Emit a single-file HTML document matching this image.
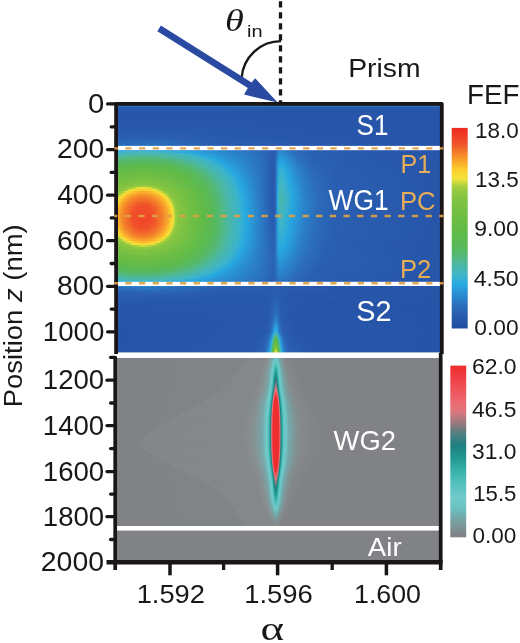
<!DOCTYPE html><html><head><meta charset="utf-8"><title>FEF map</title><style>html,body{margin:0;padding:0;background:#fff}svg{display:block}</style></head><body>
<svg width="520" height="643" viewBox="0 0 520 643">
<defs><linearGradient id="a0"><stop offset="0" stop-color="#2b7bc5"/><stop offset="1" stop-color="#2b79c3"/></linearGradient><linearGradient id="a1"><stop offset="0" stop-color="#2b72be"/><stop offset="1" stop-color="#2b70bd"/></linearGradient><linearGradient id="a2"><stop offset="0" stop-color="#295bae"/><stop offset="1" stop-color="#295aad"/></linearGradient><linearGradient id="a3"><stop offset="0" stop-color="#2758ab"/><stop offset="1" stop-color="#2756aa"/></linearGradient><linearGradient id="a4"><stop offset="0" stop-color="#2757aa"/><stop offset="1" stop-color="#2755a9"/></linearGradient><linearGradient id="a5"><stop offset="0" stop-color="#2757aa"/><stop offset="1" stop-color="#2655a9"/></linearGradient><linearGradient id="a6"><stop offset="0" stop-color="#2757aa"/><stop offset="1" stop-color="#2655a9"/></linearGradient><linearGradient id="a7"><stop offset="0" stop-color="#2757aa"/><stop offset="1" stop-color="#2655a9"/></linearGradient><linearGradient id="a8"><stop offset="0" stop-color="#2757ab"/><stop offset="1" stop-color="#2655a9"/></linearGradient><linearGradient id="a9"><stop offset="0" stop-color="#2858ab"/><stop offset="1" stop-color="#2655a9"/></linearGradient><linearGradient id="a10"><stop offset="0" stop-color="#2858ab"/><stop offset="1" stop-color="#2655a9"/></linearGradient><linearGradient id="a11"><stop offset="0" stop-color="#2859ac"/><stop offset="1" stop-color="#2655a9"/></linearGradient><linearGradient id="a12"><stop offset="0" stop-color="#2859ad"/><stop offset="1" stop-color="#2655a9"/></linearGradient><linearGradient id="a13"><stop offset="0" stop-color="#295aad"/><stop offset="1" stop-color="#2655a9"/></linearGradient><linearGradient id="a14"><stop offset="0" stop-color="#295bae"/><stop offset="1" stop-color="#2655a9"/></linearGradient><linearGradient id="a15"><stop offset="0" stop-color="#295caf"/><stop offset="0.3942" stop-color="#2757ab"/><stop offset="1" stop-color="#2655a9"/></linearGradient><linearGradient id="a16"><stop offset="0" stop-color="#2a5db0"/><stop offset="0.161" stop-color="#2a5db0"/><stop offset="0.6764" stop-color="#2755a9"/><stop offset="1" stop-color="#2655a9"/></linearGradient><linearGradient id="a17"><stop offset="0" stop-color="#2a5fb2"/><stop offset="0.1472" stop-color="#2a61b3"/><stop offset="0.3666" stop-color="#2858ac"/><stop offset="1" stop-color="#2655a9"/></linearGradient><linearGradient id="a18"><stop offset="0" stop-color="#2a62b4"/><stop offset="0.135" stop-color="#2a65b5"/><stop offset="0.2914" stop-color="#295bae"/><stop offset="1" stop-color="#2655a9"/></linearGradient><linearGradient id="a19"><stop offset="0" stop-color="#2a66b6"/><stop offset="0.1242" stop-color="#2b69b9"/><stop offset="0.3037" stop-color="#295baf"/><stop offset="0.9801" stop-color="#2655a9"/><stop offset="1" stop-color="#2655a9"/></linearGradient><linearGradient id="a20"><stop offset="0" stop-color="#2b6ab9"/><stop offset="0.1135" stop-color="#2b6fbc"/><stop offset="0.319" stop-color="#295caf"/><stop offset="0.9433" stop-color="#2755a9"/><stop offset="1" stop-color="#2755a9"/></linearGradient><linearGradient id="a21"><stop offset="0" stop-color="#2b6ebc"/><stop offset="0.1058" stop-color="#2b74c0"/><stop offset="0.184" stop-color="#2b6ab9"/><stop offset="0.3773" stop-color="#295bae"/><stop offset="1" stop-color="#2756a9"/></linearGradient><linearGradient id="a22"><stop offset="0" stop-color="#2a85cc"/><stop offset="0.1641" stop-color="#2a85cc"/><stop offset="0.3696" stop-color="#2b6bba"/><stop offset="0.4862" stop-color="#2757ab"/><stop offset="0.4939" stop-color="#2a60b2"/><stop offset="0.5015" stop-color="#2b6bba"/><stop offset="0.5276" stop-color="#2a67b7"/><stop offset="0.589" stop-color="#295caf"/><stop offset="1" stop-color="#2655a9"/></linearGradient><linearGradient id="a23"><stop offset="0" stop-color="#2997d7"/><stop offset="0.1212" stop-color="#299ad9"/><stop offset="0.3098" stop-color="#2a82ca"/><stop offset="0.4555" stop-color="#2a60b2"/><stop offset="0.4847" stop-color="#2859ac"/><stop offset="0.4908" stop-color="#2a5db0"/><stop offset="0.4985" stop-color="#2b72be"/><stop offset="0.5092" stop-color="#2b75c1"/><stop offset="0.5675" stop-color="#2a61b2"/><stop offset="0.7301" stop-color="#2858ab"/><stop offset="1" stop-color="#2655a9"/></linearGradient><linearGradient id="a24"><stop offset="0" stop-color="#38b2cf"/><stop offset="0.0521" stop-color="#41b5c3"/><stop offset="0.1196" stop-color="#40b5c4"/><stop offset="0.1748" stop-color="#35b0d2"/><stop offset="0.2147" stop-color="#27a8e0"/><stop offset="0.2929" stop-color="#2a91d4"/><stop offset="0.4463" stop-color="#2b6ab9"/><stop offset="0.4831" stop-color="#295aad"/><stop offset="0.4893" stop-color="#2a60b2"/><stop offset="0.4985" stop-color="#2b81c9"/><stop offset="0.5061" stop-color="#2a87ce"/><stop offset="0.546" stop-color="#2b6bba"/><stop offset="0.612" stop-color="#2a5db0"/><stop offset="1" stop-color="#2655a9"/></linearGradient><linearGradient id="a25"><stop offset="0" stop-color="#45b6b5"/><stop offset="0.069" stop-color="#4ab7a8"/><stop offset="0.138" stop-color="#48b7ae"/><stop offset="0.2055" stop-color="#3fb5c7"/><stop offset="0.2561" stop-color="#27a8e0"/><stop offset="0.3113" stop-color="#2a92d5"/><stop offset="0.4494" stop-color="#2b6ab9"/><stop offset="0.4816" stop-color="#295aad"/><stop offset="0.4877" stop-color="#2a5eb1"/><stop offset="0.4923" stop-color="#2b6dbb"/><stop offset="0.4985" stop-color="#2a88ce"/><stop offset="0.5046" stop-color="#2a90d3"/><stop offset="0.523" stop-color="#2a83cb"/><stop offset="0.5506" stop-color="#2b6dbb"/><stop offset="0.6028" stop-color="#2a5fb1"/><stop offset="0.8957" stop-color="#2756aa"/><stop offset="1" stop-color="#2755a9"/></linearGradient><linearGradient id="a26"><stop offset="0" stop-color="#4bb8a3"/><stop offset="0.069" stop-color="#4fb892"/><stop offset="0.1242" stop-color="#4eb897"/><stop offset="0.2086" stop-color="#45b6b7"/><stop offset="0.2454" stop-color="#3ab3cd"/><stop offset="0.2776" stop-color="#27a9e0"/><stop offset="0.3252" stop-color="#2a93d5"/><stop offset="0.4509" stop-color="#2b6bba"/><stop offset="0.4816" stop-color="#295aad"/><stop offset="0.4877" stop-color="#2a5fb1"/><stop offset="0.4908" stop-color="#2a67b7"/><stop offset="0.4969" stop-color="#2a89cf"/><stop offset="0.5015" stop-color="#2994d6"/><stop offset="0.5123" stop-color="#2a93d5"/><stop offset="0.5537" stop-color="#2b6fbd"/><stop offset="0.5997" stop-color="#2a61b3"/><stop offset="0.7761" stop-color="#2858ab"/><stop offset="1" stop-color="#2755a9"/></linearGradient><linearGradient id="a27"><stop offset="0" stop-color="#4fb892"/><stop offset="0.0567" stop-color="#53b87d"/><stop offset="0.1074" stop-color="#53b87d"/><stop offset="0.1626" stop-color="#4fb892"/><stop offset="0.2577" stop-color="#3eb5c9"/><stop offset="0.2929" stop-color="#27a9e0"/><stop offset="0.3359" stop-color="#2a93d5"/><stop offset="0.4525" stop-color="#2b6bba"/><stop offset="0.4816" stop-color="#295aad"/><stop offset="0.4877" stop-color="#2a5fb2"/><stop offset="0.4908" stop-color="#2a68b8"/><stop offset="0.4969" stop-color="#2a8dd2"/><stop offset="0.5015" stop-color="#2999d8"/><stop offset="0.5107" stop-color="#299ad9"/><stop offset="0.5567" stop-color="#2b71be"/><stop offset="0.6012" stop-color="#2a61b3"/><stop offset="0.7285" stop-color="#2859ac"/><stop offset="1" stop-color="#2755a9"/></linearGradient><linearGradient id="a28"><stop offset="0" stop-color="#53b87c"/><stop offset="0.0353" stop-color="#55b86d"/><stop offset="0.0997" stop-color="#56b869"/><stop offset="0.1472" stop-color="#54b874"/><stop offset="0.2577" stop-color="#43b6bd"/><stop offset="0.2822" stop-color="#39b2cf"/><stop offset="0.3067" stop-color="#27a9e0"/><stop offset="0.3466" stop-color="#2a93d5"/><stop offset="0.4555" stop-color="#2b6ab9"/><stop offset="0.4801" stop-color="#295aad"/><stop offset="0.4877" stop-color="#2a5fb2"/><stop offset="0.4908" stop-color="#2b69b9"/><stop offset="0.4969" stop-color="#2a92d4"/><stop offset="0.5015" stop-color="#289edb"/><stop offset="0.5107" stop-color="#289fdb"/><stop offset="0.5598" stop-color="#2b72bf"/><stop offset="0.6043" stop-color="#2a62b3"/><stop offset="0.7163" stop-color="#285aad"/><stop offset="1" stop-color="#2756a9"/></linearGradient><linearGradient id="a29"><stop offset="0" stop-color="#56b86a"/><stop offset="0.066" stop-color="#58b95a"/><stop offset="0.1258" stop-color="#57b95f"/><stop offset="0.181" stop-color="#54b874"/><stop offset="0.2439" stop-color="#4ab7a8"/><stop offset="0.2914" stop-color="#3bb3cc"/><stop offset="0.319" stop-color="#27a8e0"/><stop offset="0.3574" stop-color="#2a92d5"/><stop offset="0.4571" stop-color="#2b69b9"/><stop offset="0.4801" stop-color="#285aad"/><stop offset="0.4877" stop-color="#2a60b2"/><stop offset="0.4908" stop-color="#2b6ab9"/><stop offset="0.4954" stop-color="#2a8dd2"/><stop offset="0.5" stop-color="#28a0dc"/><stop offset="0.5077" stop-color="#27a6df"/><stop offset="0.5629" stop-color="#2b73bf"/><stop offset="0.6089" stop-color="#2a62b3"/><stop offset="0.7178" stop-color="#295aad"/><stop offset="1" stop-color="#2756a9"/></linearGradient><linearGradient id="a30"><stop offset="0" stop-color="#57b95d"/><stop offset="0.0368" stop-color="#5ab954"/><stop offset="0.1258" stop-color="#5ab954"/><stop offset="0.1626" stop-color="#57b95d"/><stop offset="0.2055" stop-color="#54b876"/><stop offset="0.2546" stop-color="#4bb7a5"/><stop offset="0.3037" stop-color="#3bb3cc"/><stop offset="0.3282" stop-color="#27a9e1"/><stop offset="0.365" stop-color="#2a92d4"/><stop offset="0.4586" stop-color="#2b69b8"/><stop offset="0.4801" stop-color="#2859ad"/><stop offset="0.4862" stop-color="#2a5caf"/><stop offset="0.4908" stop-color="#2b6bba"/><stop offset="0.4954" stop-color="#2a91d4"/><stop offset="0.5" stop-color="#28a5de"/><stop offset="0.5061" stop-color="#28aae0"/><stop offset="0.5215" stop-color="#289edb"/><stop offset="0.5629" stop-color="#2b76c1"/><stop offset="0.6089" stop-color="#2a63b4"/><stop offset="0.7025" stop-color="#295aae"/><stop offset="1" stop-color="#2756a9"/></linearGradient><linearGradient id="a31"><stop offset="0" stop-color="#5ab954"/><stop offset="0.089" stop-color="#5fba4c"/><stop offset="0.1764" stop-color="#58b957"/><stop offset="0.2224" stop-color="#54b876"/><stop offset="0.2653" stop-color="#4bb8a4"/><stop offset="0.3129" stop-color="#3bb3cc"/><stop offset="0.3374" stop-color="#27a9e0"/><stop offset="0.3727" stop-color="#2a91d4"/><stop offset="0.4601" stop-color="#2a68b7"/><stop offset="0.4801" stop-color="#2859ac"/><stop offset="0.4862" stop-color="#2a5caf"/><stop offset="0.4908" stop-color="#2b6bba"/><stop offset="0.4954" stop-color="#2994d5"/><stop offset="0.5" stop-color="#27a9e0"/><stop offset="0.5077" stop-color="#2daddb"/><stop offset="0.5169" stop-color="#27a8e0"/><stop offset="0.5613" stop-color="#2b7ac4"/><stop offset="0.6058" stop-color="#2a65b5"/><stop offset="0.6917" stop-color="#295bae"/><stop offset="1" stop-color="#2756a9"/></linearGradient><linearGradient id="a32"><stop offset="0" stop-color="#5dba4f"/><stop offset="0.0874" stop-color="#62bb46"/><stop offset="0.1748" stop-color="#5bba52"/><stop offset="0.204" stop-color="#57b95c"/><stop offset="0.2362" stop-color="#54b876"/><stop offset="0.2761" stop-color="#4bb8a4"/><stop offset="0.3221" stop-color="#3ab3cd"/><stop offset="0.3451" stop-color="#27a9e0"/><stop offset="0.3804" stop-color="#2a90d4"/><stop offset="0.4617" stop-color="#2a66b7"/><stop offset="0.4801" stop-color="#2859ac"/><stop offset="0.4862" stop-color="#295caf"/><stop offset="0.4908" stop-color="#2b6cba"/><stop offset="0.4954" stop-color="#2997d7"/><stop offset="0.4985" stop-color="#27a8e0"/><stop offset="0.5046" stop-color="#31afd7"/><stop offset="0.5153" stop-color="#2bacdd"/><stop offset="0.5199" stop-color="#27a8e0"/><stop offset="0.5629" stop-color="#2b7cc5"/><stop offset="0.6074" stop-color="#2a65b6"/><stop offset="0.6917" stop-color="#295bae"/><stop offset="1" stop-color="#2756a9"/></linearGradient><linearGradient id="a33"><stop offset="0" stop-color="#60bb4a"/><stop offset="0.069" stop-color="#66bc45"/><stop offset="0.158" stop-color="#60bb49"/><stop offset="0.2163" stop-color="#58b95b"/><stop offset="0.2485" stop-color="#54b876"/><stop offset="0.2837" stop-color="#4bb8a3"/><stop offset="0.3282" stop-color="#3bb3cc"/><stop offset="0.3512" stop-color="#27a9e1"/><stop offset="0.385" stop-color="#2a90d4"/><stop offset="0.4632" stop-color="#2a65b6"/><stop offset="0.4801" stop-color="#2859ac"/><stop offset="0.4862" stop-color="#295caf"/><stop offset="0.4908" stop-color="#2b6cbb"/><stop offset="0.4954" stop-color="#2999d8"/><stop offset="0.4985" stop-color="#27aae1"/><stop offset="0.5031" stop-color="#33afd5"/><stop offset="0.5123" stop-color="#31afd6"/><stop offset="0.5215" stop-color="#27a9e1"/><stop offset="0.5629" stop-color="#2b7ec7"/><stop offset="0.6028" stop-color="#2a68b8"/><stop offset="0.6779" stop-color="#2a5caf"/><stop offset="1" stop-color="#2756a9"/></linearGradient><linearGradient id="a34"><stop offset="0" stop-color="#63bb46"/><stop offset="0.092" stop-color="#6abd45"/><stop offset="0.1779" stop-color="#60bb49"/><stop offset="0.2285" stop-color="#58b95b"/><stop offset="0.2577" stop-color="#54b876"/><stop offset="0.2914" stop-color="#4bb8a3"/><stop offset="0.3359" stop-color="#3ab3cd"/><stop offset="0.3574" stop-color="#27a9e0"/><stop offset="0.3911" stop-color="#2a8fd3"/><stop offset="0.4632" stop-color="#2a66b6"/><stop offset="0.4801" stop-color="#2859ac"/><stop offset="0.4862" stop-color="#295caf"/><stop offset="0.4908" stop-color="#2b6dbb"/><stop offset="0.4939" stop-color="#2a8dd2"/><stop offset="0.4969" stop-color="#28a5de"/><stop offset="0.4985" stop-color="#2aabde"/><stop offset="0.5031" stop-color="#36b1d2"/><stop offset="0.5123" stop-color="#34b0d4"/><stop offset="0.523" stop-color="#27aae1"/><stop offset="0.5629" stop-color="#2b80c8"/><stop offset="0.5997" stop-color="#2b6ab9"/><stop offset="0.6641" stop-color="#2a5db0"/><stop offset="1" stop-color="#2756a9"/></linearGradient><linearGradient id="a35"><stop offset="0" stop-color="#66bc45"/><stop offset="0.0905" stop-color="#6fbe44"/><stop offset="0.1902" stop-color="#61bb48"/><stop offset="0.2393" stop-color="#57b95b"/><stop offset="0.2669" stop-color="#54b877"/><stop offset="0.2991" stop-color="#4bb8a3"/><stop offset="0.3405" stop-color="#3bb3cc"/><stop offset="0.362" stop-color="#27a9e1"/><stop offset="0.3957" stop-color="#2a8fd3"/><stop offset="0.4647" stop-color="#2a64b5"/><stop offset="0.4801" stop-color="#2859ac"/><stop offset="0.4862" stop-color="#2a5caf"/><stop offset="0.4908" stop-color="#2b6dbb"/><stop offset="0.4939" stop-color="#2a8fd3"/><stop offset="0.4969" stop-color="#27a7df"/><stop offset="0.5015" stop-color="#36b1d2"/><stop offset="0.5077" stop-color="#3ab3cd"/><stop offset="0.5261" stop-color="#27a8e0"/><stop offset="0.566" stop-color="#2b7fc8"/><stop offset="0.6043" stop-color="#2b69b9"/><stop offset="0.6718" stop-color="#2a5db0"/><stop offset="1" stop-color="#2756a9"/></linearGradient><linearGradient id="a36"><stop offset="0" stop-color="#6abd45"/><stop offset="0.0874" stop-color="#73bf43"/><stop offset="0.1779" stop-color="#66bc45"/><stop offset="0.2132" stop-color="#5fba4c"/><stop offset="0.2485" stop-color="#57b95c"/><stop offset="0.273" stop-color="#54b875"/><stop offset="0.3052" stop-color="#4bb8a4"/><stop offset="0.3466" stop-color="#3ab3cd"/><stop offset="0.3666" stop-color="#27a9e1"/><stop offset="0.4003" stop-color="#2a8ed2"/><stop offset="0.4647" stop-color="#2a65b5"/><stop offset="0.4801" stop-color="#2859ac"/><stop offset="0.4862" stop-color="#295caf"/><stop offset="0.4908" stop-color="#2b6ebc"/><stop offset="0.4939" stop-color="#2a90d4"/><stop offset="0.4969" stop-color="#27a9e0"/><stop offset="0.5015" stop-color="#38b2cf"/><stop offset="0.5077" stop-color="#3cb4cb"/><stop offset="0.5276" stop-color="#27a8e0"/><stop offset="0.5675" stop-color="#2b80c8"/><stop offset="0.6074" stop-color="#2b69b8"/><stop offset="0.6764" stop-color="#2a5caf"/><stop offset="1" stop-color="#2756a9"/></linearGradient><linearGradient id="a37"><stop offset="0" stop-color="#6dbd44"/><stop offset="0.0874" stop-color="#77c042"/><stop offset="0.1825" stop-color="#68bc45"/><stop offset="0.2178" stop-color="#60bb4a"/><stop offset="0.2546" stop-color="#58b95b"/><stop offset="0.2791" stop-color="#54b875"/><stop offset="0.3098" stop-color="#4bb8a3"/><stop offset="0.3497" stop-color="#3bb3cc"/><stop offset="0.3712" stop-color="#27a9e0"/><stop offset="0.4049" stop-color="#2a8dd1"/><stop offset="0.4663" stop-color="#2a63b4"/><stop offset="0.4816" stop-color="#2858ac"/><stop offset="0.4877" stop-color="#2a60b2"/><stop offset="0.4908" stop-color="#2b6ebc"/><stop offset="0.4939" stop-color="#2a92d4"/><stop offset="0.4969" stop-color="#28aae0"/><stop offset="0.5015" stop-color="#3ab3cd"/><stop offset="0.5077" stop-color="#3fb5c8"/><stop offset="0.5291" stop-color="#27a8e0"/><stop offset="0.569" stop-color="#2b80c8"/><stop offset="0.6074" stop-color="#2b6ab9"/><stop offset="0.6702" stop-color="#2a5db0"/><stop offset="1" stop-color="#2756a9"/></linearGradient><linearGradient id="a38"><stop offset="0" stop-color="#70be44"/><stop offset="0.0798" stop-color="#7cc242"/><stop offset="0.1564" stop-color="#72be43"/><stop offset="0.2224" stop-color="#60bb49"/><stop offset="0.2607" stop-color="#58b95b"/><stop offset="0.2853" stop-color="#54b876"/><stop offset="0.3144" stop-color="#4bb8a3"/><stop offset="0.3543" stop-color="#3bb3cd"/><stop offset="0.3742" stop-color="#27a9e1"/><stop offset="0.4095" stop-color="#2a8bd0"/><stop offset="0.4663" stop-color="#2a63b4"/><stop offset="0.4816" stop-color="#2858ac"/><stop offset="0.4877" stop-color="#2a60b2"/><stop offset="0.4908" stop-color="#2b6ebc"/><stop offset="0.4939" stop-color="#2a93d5"/><stop offset="0.4954" stop-color="#28a1dc"/><stop offset="0.4969" stop-color="#29abdf"/><stop offset="0.5015" stop-color="#3db4cb"/><stop offset="0.5077" stop-color="#40b5c5"/><stop offset="0.5199" stop-color="#34b0d3"/><stop offset="0.5307" stop-color="#27a8e0"/><stop offset="0.5706" stop-color="#2b80c9"/><stop offset="0.6089" stop-color="#2b6ab9"/><stop offset="0.6718" stop-color="#2a5db0"/><stop offset="1" stop-color="#2756a9"/></linearGradient><linearGradient id="a39"><stop offset="0" stop-color="#73bf43"/><stop offset="0.0767" stop-color="#80c341"/><stop offset="0.1488" stop-color="#77c043"/><stop offset="0.2301" stop-color="#60bb49"/><stop offset="0.2669" stop-color="#57b95b"/><stop offset="0.2899" stop-color="#54b876"/><stop offset="0.3175" stop-color="#4cb8a2"/><stop offset="0.3574" stop-color="#3bb3cc"/><stop offset="0.3773" stop-color="#27a9e1"/><stop offset="0.4126" stop-color="#2a8ad0"/><stop offset="0.4678" stop-color="#2a61b3"/><stop offset="0.4816" stop-color="#2858ab"/><stop offset="0.4877" stop-color="#2a60b2"/><stop offset="0.4908" stop-color="#2b6fbc"/><stop offset="0.4939" stop-color="#2994d5"/><stop offset="0.4954" stop-color="#28a2dd"/><stop offset="0.4969" stop-color="#2bacdd"/><stop offset="0.5015" stop-color="#3fb5c8"/><stop offset="0.5077" stop-color="#41b5c2"/><stop offset="0.5184" stop-color="#38b2cf"/><stop offset="0.5307" stop-color="#27aae1"/><stop offset="0.569" stop-color="#2a83ca"/><stop offset="0.6058" stop-color="#2b6dbb"/><stop offset="0.658" stop-color="#2a5fb1"/><stop offset="0.9586" stop-color="#2756aa"/><stop offset="1" stop-color="#2756a9"/></linearGradient><linearGradient id="a40"><stop offset="0" stop-color="#77c043"/><stop offset="0.0798" stop-color="#86c540"/><stop offset="0.1488" stop-color="#7ac142"/><stop offset="0.2362" stop-color="#60bb49"/><stop offset="0.2715" stop-color="#58b95b"/><stop offset="0.2945" stop-color="#54b876"/><stop offset="0.3221" stop-color="#4bb8a3"/><stop offset="0.3604" stop-color="#3bb3cd"/><stop offset="0.3804" stop-color="#27a9e0"/><stop offset="0.4156" stop-color="#2a89cf"/><stop offset="0.4678" stop-color="#2a61b3"/><stop offset="0.4816" stop-color="#2858ab"/><stop offset="0.4877" stop-color="#2a60b2"/><stop offset="0.4908" stop-color="#2b6fbc"/><stop offset="0.4939" stop-color="#2995d6"/><stop offset="0.4954" stop-color="#28a4de"/><stop offset="0.4969" stop-color="#2daddb"/><stop offset="0.5" stop-color="#3cb4cb"/><stop offset="0.5046" stop-color="#42b6c0"/><stop offset="0.5123" stop-color="#40b5c4"/><stop offset="0.5322" stop-color="#27aae1"/><stop offset="0.5721" stop-color="#2b81c9"/><stop offset="0.6104" stop-color="#2b6bba"/><stop offset="0.6672" stop-color="#2a5eb1"/><stop offset="1" stop-color="#2756a9"/></linearGradient><linearGradient id="a41"><stop offset="0" stop-color="#7ac142"/><stop offset="0.0475" stop-color="#8bc640"/><stop offset="0.0782" stop-color="#9bcc3f"/><stop offset="0.1028" stop-color="#95ca40"/><stop offset="0.1319" stop-color="#83c440"/><stop offset="0.2408" stop-color="#60bb49"/><stop offset="0.2761" stop-color="#57b95b"/><stop offset="0.2975" stop-color="#54b875"/><stop offset="0.3252" stop-color="#4bb8a3"/><stop offset="0.3635" stop-color="#3ab3cd"/><stop offset="0.3834" stop-color="#27a8e0"/><stop offset="0.4202" stop-color="#2a87cd"/><stop offset="0.4678" stop-color="#2a61b3"/><stop offset="0.4816" stop-color="#2858ab"/><stop offset="0.4877" stop-color="#2a60b2"/><stop offset="0.4908" stop-color="#2b6fbd"/><stop offset="0.4939" stop-color="#2996d6"/><stop offset="0.4954" stop-color="#28a5de"/><stop offset="0.4985" stop-color="#37b1d0"/><stop offset="0.5015" stop-color="#40b5c4"/><stop offset="0.5061" stop-color="#43b6bd"/><stop offset="0.5169" stop-color="#3eb5c9"/><stop offset="0.5337" stop-color="#27a9e1"/><stop offset="0.5736" stop-color="#2b81c9"/><stop offset="0.612" stop-color="#2b6bba"/><stop offset="0.6687" stop-color="#2a5eb1"/><stop offset="1" stop-color="#2756a9"/></linearGradient><linearGradient id="a42"><stop offset="0" stop-color="#7dc242"/><stop offset="0.0291" stop-color="#89c640"/><stop offset="0.0521" stop-color="#a8d03f"/><stop offset="0.0613" stop-color="#d5dc3c"/><stop offset="0.0721" stop-color="#ebe03b"/><stop offset="0.0844" stop-color="#f2e13a"/><stop offset="0.0966" stop-color="#e9df3b"/><stop offset="0.1058" stop-color="#d5dc3c"/><stop offset="0.115" stop-color="#a8d03f"/><stop offset="0.1396" stop-color="#86c540"/><stop offset="0.2454" stop-color="#60bb49"/><stop offset="0.2791" stop-color="#58b95b"/><stop offset="0.3006" stop-color="#54b875"/><stop offset="0.3267" stop-color="#4cb8a2"/><stop offset="0.365" stop-color="#3bb3cc"/><stop offset="0.385" stop-color="#27a9e0"/><stop offset="0.4218" stop-color="#2a87cd"/><stop offset="0.4678" stop-color="#2a61b3"/><stop offset="0.4816" stop-color="#2858ab"/><stop offset="0.4877" stop-color="#2a60b2"/><stop offset="0.4908" stop-color="#2b6fbd"/><stop offset="0.4939" stop-color="#2997d7"/><stop offset="0.4954" stop-color="#27a6df"/><stop offset="0.4985" stop-color="#39b2ce"/><stop offset="0.5015" stop-color="#41b5c1"/><stop offset="0.5061" stop-color="#44b6ba"/><stop offset="0.5153" stop-color="#40b5c4"/><stop offset="0.5353" stop-color="#27a9e0"/><stop offset="0.5752" stop-color="#2b81c9"/><stop offset="0.6135" stop-color="#2b6bba"/><stop offset="0.6702" stop-color="#2a5eb1"/><stop offset="1" stop-color="#2756a9"/></linearGradient><linearGradient id="a43"><stop offset="0" stop-color="#80c341"/><stop offset="0.0184" stop-color="#8bc640"/><stop offset="0.0337" stop-color="#a3ce3f"/><stop offset="0.0353" stop-color="#abd13f"/><stop offset="0.0399" stop-color="#d3dc3c"/><stop offset="0.046" stop-color="#f2e03a"/><stop offset="0.0521" stop-color="#f7dc36"/><stop offset="0.0782" stop-color="#fccd2f"/><stop offset="0.0966" stop-color="#fcd12f"/><stop offset="0.1196" stop-color="#f5e13a"/><stop offset="0.1273" stop-color="#d3dc3c"/><stop offset="0.1319" stop-color="#abd13f"/><stop offset="0.135" stop-color="#9fcd3f"/><stop offset="0.1518" stop-color="#85c540"/><stop offset="0.2485" stop-color="#61bb49"/><stop offset="0.2822" stop-color="#58b95b"/><stop offset="0.3037" stop-color="#54b875"/><stop offset="0.3298" stop-color="#4cb8a2"/><stop offset="0.3666" stop-color="#3bb3cc"/><stop offset="0.3865" stop-color="#27a9e1"/><stop offset="0.4233" stop-color="#2a86cd"/><stop offset="0.4678" stop-color="#2a61b3"/><stop offset="0.4816" stop-color="#2757ab"/><stop offset="0.4877" stop-color="#2a60b2"/><stop offset="0.4908" stop-color="#2b6fbd"/><stop offset="0.4939" stop-color="#2997d7"/><stop offset="0.4954" stop-color="#27a7e0"/><stop offset="0.4985" stop-color="#3ab3cd"/><stop offset="0.5015" stop-color="#42b6bf"/><stop offset="0.5061" stop-color="#44b6b8"/><stop offset="0.5153" stop-color="#41b5c1"/><stop offset="0.5353" stop-color="#27aae1"/><stop offset="0.5752" stop-color="#2a82ca"/><stop offset="0.6135" stop-color="#2b6cba"/><stop offset="0.6672" stop-color="#2a5fb1"/><stop offset="0.9877" stop-color="#2756a9"/><stop offset="1" stop-color="#2756a9"/></linearGradient><linearGradient id="a44"><stop offset="0" stop-color="#83c441"/><stop offset="0.0092" stop-color="#8ac640"/><stop offset="0.023" stop-color="#a4cf3f"/><stop offset="0.0276" stop-color="#d4dc3c"/><stop offset="0.0322" stop-color="#f2e13a"/><stop offset="0.046" stop-color="#fcd12f"/><stop offset="0.0613" stop-color="#fab92d"/><stop offset="0.0813" stop-color="#faaf2c"/><stop offset="0.1028" stop-color="#fab82d"/><stop offset="0.1181" stop-color="#fccc2e"/><stop offset="0.1334" stop-color="#f5e039"/><stop offset="0.138" stop-color="#dede3b"/><stop offset="0.1396" stop-color="#d4dc3c"/><stop offset="0.1442" stop-color="#a4cf3f"/><stop offset="0.158" stop-color="#87c540"/><stop offset="0.2469" stop-color="#62bb46"/><stop offset="0.2853" stop-color="#58b95b"/><stop offset="0.3067" stop-color="#54b877"/><stop offset="0.3313" stop-color="#4cb8a2"/><stop offset="0.3681" stop-color="#3bb3cc"/><stop offset="0.388" stop-color="#27a9e1"/><stop offset="0.4264" stop-color="#2a84cc"/><stop offset="0.4693" stop-color="#2a5fb1"/><stop offset="0.4831" stop-color="#2858ab"/><stop offset="0.4877" stop-color="#2a60b2"/><stop offset="0.4908" stop-color="#2b6fbd"/><stop offset="0.4939" stop-color="#2998d8"/><stop offset="0.4954" stop-color="#27a8e0"/><stop offset="0.4985" stop-color="#3cb4cb"/><stop offset="0.5031" stop-color="#44b6b9"/><stop offset="0.5092" stop-color="#45b6b7"/><stop offset="0.523" stop-color="#3ab3cd"/><stop offset="0.5368" stop-color="#27a9e1"/><stop offset="0.5767" stop-color="#2a82ca"/><stop offset="0.615" stop-color="#2b6cba"/><stop offset="0.6687" stop-color="#2a5fb1"/><stop offset="0.9908" stop-color="#2756a9"/><stop offset="1" stop-color="#2756a9"/></linearGradient><linearGradient id="a45"><stop offset="0" stop-color="#87c540"/><stop offset="0.0138" stop-color="#a2ce3f"/><stop offset="0.0153" stop-color="#acd13f"/><stop offset="0.0184" stop-color="#d3dc3c"/><stop offset="0.023" stop-color="#f5e13a"/><stop offset="0.0353" stop-color="#fccc2e"/><stop offset="0.0491" stop-color="#fab02c"/><stop offset="0.0706" stop-color="#f89c2b"/><stop offset="0.092" stop-color="#f79b2b"/><stop offset="0.1135" stop-color="#f9ac2c"/><stop offset="0.1288" stop-color="#fbc62e"/><stop offset="0.1365" stop-color="#fad632"/><stop offset="0.1442" stop-color="#f3e13a"/><stop offset="0.1488" stop-color="#d2db3c"/><stop offset="0.1518" stop-color="#abd13f"/><stop offset="0.1534" stop-color="#a2ce3f"/><stop offset="0.1656" stop-color="#86c540"/><stop offset="0.2531" stop-color="#61bb48"/><stop offset="0.2883" stop-color="#57b95c"/><stop offset="0.3083" stop-color="#54b875"/><stop offset="0.3328" stop-color="#4cb8a1"/><stop offset="0.3696" stop-color="#3bb3cc"/><stop offset="0.3896" stop-color="#27a9e1"/><stop offset="0.4294" stop-color="#2a82ca"/><stop offset="0.4693" stop-color="#2a5eb1"/><stop offset="0.4831" stop-color="#2858ab"/><stop offset="0.4877" stop-color="#2a60b2"/><stop offset="0.4908" stop-color="#2b70bd"/><stop offset="0.4939" stop-color="#2999d8"/><stop offset="0.4954" stop-color="#27a9e1"/><stop offset="0.4985" stop-color="#3db4ca"/><stop offset="0.5031" stop-color="#45b6b7"/><stop offset="0.5092" stop-color="#46b6b4"/><stop offset="0.523" stop-color="#3cb4cb"/><stop offset="0.5383" stop-color="#27a9e0"/><stop offset="0.5798" stop-color="#2b80c9"/><stop offset="0.6212" stop-color="#2b6ab9"/><stop offset="0.6887" stop-color="#2a5db0"/><stop offset="1" stop-color="#2756a9"/></linearGradient><linearGradient id="a46"><stop offset="0" stop-color="#91c940"/><stop offset="0.0077" stop-color="#a4cf3f"/><stop offset="0.0092" stop-color="#b4d33e"/><stop offset="0.0123" stop-color="#dbdd3c"/><stop offset="0.0153" stop-color="#f4e13a"/><stop offset="0.0261" stop-color="#fccc2e"/><stop offset="0.0383" stop-color="#f9ae2c"/><stop offset="0.0583" stop-color="#f6932b"/><stop offset="0.0813" stop-color="#f5882a"/><stop offset="0.1043" stop-color="#f6912b"/><stop offset="0.1258" stop-color="#f9ac2b"/><stop offset="0.1396" stop-color="#fbca2e"/><stop offset="0.1472" stop-color="#f8da35"/><stop offset="0.1518" stop-color="#f1e03a"/><stop offset="0.1549" stop-color="#dadd3c"/><stop offset="0.1595" stop-color="#a3ce3f"/><stop offset="0.1702" stop-color="#88c540"/><stop offset="0.2209" stop-color="#6ebe44"/><stop offset="0.2592" stop-color="#60bb49"/><stop offset="0.2899" stop-color="#58b95b"/><stop offset="0.3098" stop-color="#54b875"/><stop offset="0.3344" stop-color="#4cb8a1"/><stop offset="0.3712" stop-color="#3bb3cc"/><stop offset="0.3911" stop-color="#27a9e0"/><stop offset="0.431" stop-color="#2b81c9"/><stop offset="0.4801" stop-color="#2757aa"/><stop offset="0.4862" stop-color="#295bae"/><stop offset="0.4908" stop-color="#2b70bd"/><stop offset="0.4939" stop-color="#299ad9"/><stop offset="0.4954" stop-color="#27aae1"/><stop offset="0.4985" stop-color="#3fb5c8"/><stop offset="0.5015" stop-color="#44b6b9"/><stop offset="0.5061" stop-color="#47b7b1"/><stop offset="0.5153" stop-color="#43b6bb"/><stop offset="0.5261" stop-color="#38b2cf"/><stop offset="0.5383" stop-color="#27aae1"/><stop offset="0.5782" stop-color="#2a82ca"/><stop offset="0.6181" stop-color="#2b6bba"/><stop offset="0.6748" stop-color="#2a5eb1"/><stop offset="1" stop-color="#2756a9"/></linearGradient><linearGradient id="a47"><stop offset="0" stop-color="#9dcc3f"/><stop offset="0.0031" stop-color="#a9d03f"/><stop offset="0.0061" stop-color="#d6dc3c"/><stop offset="0.0092" stop-color="#f2e13a"/><stop offset="0.0184" stop-color="#fccf2f"/><stop offset="0.0291" stop-color="#fab02c"/><stop offset="0.0475" stop-color="#f68f2a"/><stop offset="0.0706" stop-color="#f37c2a"/><stop offset="0.0936" stop-color="#f37c2a"/><stop offset="0.1166" stop-color="#f68e2a"/><stop offset="0.1365" stop-color="#fab02c"/><stop offset="0.1503" stop-color="#fbd431"/><stop offset="0.1564" stop-color="#f6e039"/><stop offset="0.158" stop-color="#eee03a"/><stop offset="0.161" stop-color="#d4dc3c"/><stop offset="0.1641" stop-color="#a7d03f"/><stop offset="0.1702" stop-color="#92c940"/><stop offset="0.1779" stop-color="#84c440"/><stop offset="0.2577" stop-color="#61bb48"/><stop offset="0.2914" stop-color="#58b95b"/><stop offset="0.3113" stop-color="#54b875"/><stop offset="0.3359" stop-color="#4cb8a2"/><stop offset="0.3727" stop-color="#3bb3cc"/><stop offset="0.3926" stop-color="#27a8e0"/><stop offset="0.434" stop-color="#2b7fc8"/><stop offset="0.4801" stop-color="#2757aa"/><stop offset="0.4862" stop-color="#295bae"/><stop offset="0.4893" stop-color="#2a67b7"/><stop offset="0.4908" stop-color="#2b70bd"/><stop offset="0.4939" stop-color="#299ad9"/><stop offset="0.4954" stop-color="#28abe0"/><stop offset="0.4985" stop-color="#3fb5c7"/><stop offset="0.5015" stop-color="#45b6b7"/><stop offset="0.5061" stop-color="#47b7af"/><stop offset="0.5153" stop-color="#44b6b9"/><stop offset="0.5261" stop-color="#3ab3cd"/><stop offset="0.5399" stop-color="#27a9e0"/><stop offset="0.5813" stop-color="#2b81c9"/><stop offset="0.6212" stop-color="#2b6ab9"/><stop offset="0.684" stop-color="#2a5db0"/><stop offset="1" stop-color="#2756a9"/></linearGradient><linearGradient id="a48"><stop offset="0" stop-color="#bcd53e"/><stop offset="0.0015" stop-color="#d4dc3c"/><stop offset="0.0046" stop-color="#f3e13a"/><stop offset="0.0123" stop-color="#fcd22f"/><stop offset="0.023" stop-color="#faaf2c"/><stop offset="0.0414" stop-color="#f58b2a"/><stop offset="0.0644" stop-color="#f2732a"/><stop offset="0.0874" stop-color="#f26d2a"/><stop offset="0.1104" stop-color="#f37b2a"/><stop offset="0.1319" stop-color="#f7992b"/><stop offset="0.1488" stop-color="#fbc02d"/><stop offset="0.1564" stop-color="#fad632"/><stop offset="0.161" stop-color="#f6df39"/><stop offset="0.1626" stop-color="#eee03a"/><stop offset="0.1656" stop-color="#d2dc3c"/><stop offset="0.1687" stop-color="#a4cf3f"/><stop offset="0.1779" stop-color="#89c640"/><stop offset="0.204" stop-color="#78c042"/><stop offset="0.2623" stop-color="#60bb49"/><stop offset="0.2929" stop-color="#58b95b"/><stop offset="0.3129" stop-color="#54b875"/><stop offset="0.3374" stop-color="#4cb8a2"/><stop offset="0.3742" stop-color="#3ab3cd"/><stop offset="0.3926" stop-color="#27a9e1"/><stop offset="0.434" stop-color="#2b80c8"/><stop offset="0.4785" stop-color="#2757ab"/><stop offset="0.4862" stop-color="#295bae"/><stop offset="0.4893" stop-color="#2a67b7"/><stop offset="0.4908" stop-color="#2b70bd"/><stop offset="0.4939" stop-color="#299bd9"/><stop offset="0.4954" stop-color="#29abdf"/><stop offset="0.4985" stop-color="#40b5c6"/><stop offset="0.5015" stop-color="#45b6b6"/><stop offset="0.5061" stop-color="#48b7ae"/><stop offset="0.5153" stop-color="#44b6b8"/><stop offset="0.5261" stop-color="#3ab3cd"/><stop offset="0.5399" stop-color="#27a9e1"/><stop offset="0.5798" stop-color="#2a82ca"/><stop offset="0.6196" stop-color="#2b6bba"/><stop offset="0.6764" stop-color="#2a5eb1"/><stop offset="1" stop-color="#2756a9"/></linearGradient><linearGradient id="a49"><stop offset="0" stop-color="#ebdf3b"/><stop offset="0.0015" stop-color="#f5e039"/><stop offset="0.0092" stop-color="#fcce2f"/><stop offset="0.0184" stop-color="#faae2c"/><stop offset="0.0368" stop-color="#f5872a"/><stop offset="0.0613" stop-color="#f2692a"/><stop offset="0.0828" stop-color="#f1602a"/><stop offset="0.1043" stop-color="#f26a2a"/><stop offset="0.1288" stop-color="#f5882a"/><stop offset="0.1472" stop-color="#faaf2c"/><stop offset="0.1595" stop-color="#fbd431"/><stop offset="0.1656" stop-color="#f5e13a"/><stop offset="0.1687" stop-color="#d9dd3c"/><stop offset="0.1718" stop-color="#aad03f"/><stop offset="0.1748" stop-color="#9acb3f"/><stop offset="0.1825" stop-color="#86c540"/><stop offset="0.2469" stop-color="#67bc45"/><stop offset="0.2699" stop-color="#5fba4c"/><stop offset="0.2945" stop-color="#58b95b"/><stop offset="0.3144" stop-color="#54b875"/><stop offset="0.339" stop-color="#4cb8a2"/><stop offset="0.3742" stop-color="#3bb3cc"/><stop offset="0.3942" stop-color="#27a9e0"/><stop offset="0.4371" stop-color="#2b7ec7"/><stop offset="0.4785" stop-color="#2858ab"/><stop offset="0.4862" stop-color="#295bae"/><stop offset="0.4908" stop-color="#2b70bd"/><stop offset="0.4939" stop-color="#299ad9"/><stop offset="0.4954" stop-color="#28aae0"/><stop offset="0.4985" stop-color="#3fb5c7"/><stop offset="0.5015" stop-color="#45b6b7"/><stop offset="0.5061" stop-color="#47b7b0"/><stop offset="0.5153" stop-color="#44b6ba"/><stop offset="0.5276" stop-color="#37b1d0"/><stop offset="0.5399" stop-color="#27a9e0"/><stop offset="0.5813" stop-color="#2b81c9"/><stop offset="0.6212" stop-color="#2b6bb9"/><stop offset="0.681" stop-color="#2a5db0"/><stop offset="1" stop-color="#2756a9"/></linearGradient><linearGradient id="a50"><stop offset="0" stop-color="#f7dd37"/><stop offset="0.0061" stop-color="#fccd2f"/><stop offset="0.0153" stop-color="#f9ac2b"/><stop offset="0.0337" stop-color="#f4832a"/><stop offset="0.0598" stop-color="#f1602a"/><stop offset="0.0813" stop-color="#f0552a"/><stop offset="0.1028" stop-color="#f15e2a"/><stop offset="0.1288" stop-color="#f47f2a"/><stop offset="0.1488" stop-color="#f9a92b"/><stop offset="0.1595" stop-color="#fbca2e"/><stop offset="0.1672" stop-color="#f7de38"/><stop offset="0.1687" stop-color="#f4e13a"/><stop offset="0.1718" stop-color="#d7dc3c"/><stop offset="0.1748" stop-color="#a6cf3f"/><stop offset="0.1825" stop-color="#8cc740"/><stop offset="0.1902" stop-color="#82c441"/><stop offset="0.2653" stop-color="#60bb49"/><stop offset="0.296" stop-color="#58b95b"/><stop offset="0.316" stop-color="#54b876"/><stop offset="0.3405" stop-color="#4bb8a3"/><stop offset="0.3758" stop-color="#3bb3cc"/><stop offset="0.3957" stop-color="#27a8e0"/><stop offset="0.4387" stop-color="#2b7dc6"/><stop offset="0.4785" stop-color="#2858ac"/><stop offset="0.4862" stop-color="#295caf"/><stop offset="0.4908" stop-color="#2b70be"/><stop offset="0.4939" stop-color="#299ad9"/><stop offset="0.4954" stop-color="#27aae1"/><stop offset="0.4985" stop-color="#3eb5c9"/><stop offset="0.5015" stop-color="#44b6b9"/><stop offset="0.5061" stop-color="#46b7b2"/><stop offset="0.5153" stop-color="#43b6bb"/><stop offset="0.5261" stop-color="#38b2cf"/><stop offset="0.5383" stop-color="#27aae1"/><stop offset="0.5782" stop-color="#2a83cb"/><stop offset="0.6166" stop-color="#2b6dbb"/><stop offset="0.6672" stop-color="#2a5fb2"/><stop offset="0.9555" stop-color="#2756aa"/><stop offset="1" stop-color="#2756a9"/></linearGradient><linearGradient id="a51"><stop offset="0" stop-color="#fad733"/><stop offset="0.0046" stop-color="#fbc82e"/><stop offset="0.0153" stop-color="#f9a42b"/><stop offset="0.0337" stop-color="#f37b2a"/><stop offset="0.0613" stop-color="#f1562a"/><stop offset="0.0813" stop-color="#f04e2a"/><stop offset="0.1028" stop-color="#f0552a"/><stop offset="0.1258" stop-color="#f2732a"/><stop offset="0.1472" stop-color="#f89d2b"/><stop offset="0.161" stop-color="#fbc52e"/><stop offset="0.1656" stop-color="#fbd531"/><stop offset="0.1702" stop-color="#f6df39"/><stop offset="0.1718" stop-color="#ede03a"/><stop offset="0.1748" stop-color="#ccda3d"/><stop offset="0.1764" stop-color="#b1d23e"/><stop offset="0.1779" stop-color="#a1ce3f"/><stop offset="0.1871" stop-color="#86c540"/><stop offset="0.2485" stop-color="#67bc45"/><stop offset="0.2715" stop-color="#5fba4b"/><stop offset="0.2975" stop-color="#57b95c"/><stop offset="0.3175" stop-color="#54b877"/><stop offset="0.3405" stop-color="#4cb8a2"/><stop offset="0.3773" stop-color="#3ab3cd"/><stop offset="0.3957" stop-color="#27a9e0"/><stop offset="0.4371" stop-color="#2b7fc8"/><stop offset="0.4785" stop-color="#2859ac"/><stop offset="0.4862" stop-color="#2a5caf"/><stop offset="0.4908" stop-color="#2b71be"/><stop offset="0.4939" stop-color="#299ad9"/><stop offset="0.4954" stop-color="#27aae1"/><stop offset="0.4985" stop-color="#3db4ca"/><stop offset="0.5031" stop-color="#45b6b7"/><stop offset="0.5092" stop-color="#45b6b5"/><stop offset="0.523" stop-color="#3cb4cb"/><stop offset="0.5383" stop-color="#27a9e0"/><stop offset="0.5798" stop-color="#2b81c9"/><stop offset="0.6196" stop-color="#2b6bba"/><stop offset="0.6748" stop-color="#2a5eb1"/><stop offset="1" stop-color="#2756a9"/></linearGradient><linearGradient id="a52"><stop offset="0" stop-color="#fbd330"/><stop offset="0.0107" stop-color="#f9aa2b"/><stop offset="0.0276" stop-color="#f4812a"/><stop offset="0.0552" stop-color="#f1552a"/><stop offset="0.069" stop-color="#f04c2a"/><stop offset="0.1028" stop-color="#f04f2a"/><stop offset="0.1227" stop-color="#f2672a"/><stop offset="0.1472" stop-color="#f7972b"/><stop offset="0.1626" stop-color="#fbc32e"/><stop offset="0.1672" stop-color="#fbd431"/><stop offset="0.1718" stop-color="#f6df38"/><stop offset="0.1733" stop-color="#f0e03a"/><stop offset="0.1764" stop-color="#cfdb3c"/><stop offset="0.1779" stop-color="#b4d33e"/><stop offset="0.1794" stop-color="#a2ce3f"/><stop offset="0.1887" stop-color="#86c540"/><stop offset="0.2485" stop-color="#68bc45"/><stop offset="0.2715" stop-color="#5fba4b"/><stop offset="0.2975" stop-color="#58b95a"/><stop offset="0.3175" stop-color="#54b875"/><stop offset="0.342" stop-color="#4bb8a3"/><stop offset="0.3773" stop-color="#3bb3cc"/><stop offset="0.3957" stop-color="#27aae1"/><stop offset="0.4371" stop-color="#2b7fc8"/><stop offset="0.4785" stop-color="#2859ac"/><stop offset="0.4862" stop-color="#2a5caf"/><stop offset="0.4908" stop-color="#2b71be"/><stop offset="0.4939" stop-color="#2999d8"/><stop offset="0.4954" stop-color="#27a9e1"/><stop offset="0.4985" stop-color="#3cb4cb"/><stop offset="0.5031" stop-color="#44b6b9"/><stop offset="0.5092" stop-color="#45b6b7"/><stop offset="0.523" stop-color="#3bb3cd"/><stop offset="0.5368" stop-color="#27aae1"/><stop offset="0.5767" stop-color="#2a83cb"/><stop offset="0.6166" stop-color="#2b6cbb"/><stop offset="0.6672" stop-color="#2a5fb1"/><stop offset="0.9617" stop-color="#2756aa"/><stop offset="1" stop-color="#2756a9"/></linearGradient><linearGradient id="a53"><stop offset="0" stop-color="#fcce2f"/><stop offset="0.0092" stop-color="#f9aa2b"/><stop offset="0.0261" stop-color="#f4802a"/><stop offset="0.0537" stop-color="#f0522a"/><stop offset="0.0706" stop-color="#f04a29"/><stop offset="0.1058" stop-color="#f04d2a"/><stop offset="0.1227" stop-color="#f1622a"/><stop offset="0.1488" stop-color="#f7962b"/><stop offset="0.1641" stop-color="#fbc42e"/><stop offset="0.1687" stop-color="#fbd531"/><stop offset="0.1733" stop-color="#f6df39"/><stop offset="0.1748" stop-color="#eee03a"/><stop offset="0.1779" stop-color="#cad93d"/><stop offset="0.1794" stop-color="#afd23e"/><stop offset="0.181" stop-color="#a0cd3f"/><stop offset="0.1902" stop-color="#86c540"/><stop offset="0.2515" stop-color="#67bc45"/><stop offset="0.2745" stop-color="#5eba4c"/><stop offset="0.2991" stop-color="#57b95b"/><stop offset="0.319" stop-color="#54b877"/><stop offset="0.342" stop-color="#4cb8a2"/><stop offset="0.3773" stop-color="#3bb3cc"/><stop offset="0.3972" stop-color="#27a8e0"/><stop offset="0.4387" stop-color="#2b7fc7"/><stop offset="0.4785" stop-color="#2859ad"/><stop offset="0.4862" stop-color="#2a5db0"/><stop offset="0.4908" stop-color="#2b71be"/><stop offset="0.4939" stop-color="#2999d8"/><stop offset="0.4954" stop-color="#27a8e0"/><stop offset="0.4985" stop-color="#3bb3cc"/><stop offset="0.5031" stop-color="#44b6ba"/><stop offset="0.5092" stop-color="#44b6b9"/><stop offset="0.5215" stop-color="#3cb3cb"/><stop offset="0.5368" stop-color="#27a9e1"/><stop offset="0.5782" stop-color="#2a82ca"/><stop offset="0.6181" stop-color="#2b6cba"/><stop offset="0.6702" stop-color="#2a5fb1"/><stop offset="0.9923" stop-color="#2756a9"/><stop offset="1" stop-color="#2756a9"/></linearGradient><linearGradient id="a54"><stop offset="0" stop-color="#fbc92e"/><stop offset="0.0092" stop-color="#f9a72b"/><stop offset="0.0261" stop-color="#f37d2a"/><stop offset="0.0537" stop-color="#f04f2a"/><stop offset="0.0859" stop-color="#f04829"/><stop offset="0.1135" stop-color="#f0512a"/><stop offset="0.1396" stop-color="#f47e2a"/><stop offset="0.158" stop-color="#f9ac2b"/><stop offset="0.1702" stop-color="#fad632"/><stop offset="0.1748" stop-color="#f5e13a"/><stop offset="0.1779" stop-color="#d7dc3c"/><stop offset="0.181" stop-color="#a4cf3f"/><stop offset="0.1887" stop-color="#8bc640"/><stop offset="0.1994" stop-color="#7fc341"/><stop offset="0.2684" stop-color="#60bb49"/><stop offset="0.2991" stop-color="#58b95b"/><stop offset="0.319" stop-color="#54b876"/><stop offset="0.3436" stop-color="#4bb8a3"/><stop offset="0.3788" stop-color="#3ab3cd"/><stop offset="0.3972" stop-color="#27a9e0"/><stop offset="0.4387" stop-color="#2b7fc8"/><stop offset="0.4801" stop-color="#2859ac"/><stop offset="0.4862" stop-color="#2a5db0"/><stop offset="0.4908" stop-color="#2b72be"/><stop offset="0.4939" stop-color="#2999d8"/><stop offset="0.4954" stop-color="#27a8e0"/><stop offset="0.5" stop-color="#40b5c6"/><stop offset="0.5046" stop-color="#44b6ba"/><stop offset="0.5123" stop-color="#42b6be"/><stop offset="0.523" stop-color="#38b2cf"/><stop offset="0.5353" stop-color="#27aae1"/><stop offset="0.5767" stop-color="#2a83ca"/><stop offset="0.615" stop-color="#2b6dbb"/><stop offset="0.6656" stop-color="#2a5fb1"/><stop offset="0.9586" stop-color="#2756aa"/><stop offset="1" stop-color="#2756a9"/></linearGradient><linearGradient id="a55"><stop offset="0" stop-color="#fbc62e"/><stop offset="0.0107" stop-color="#f8a02b"/><stop offset="0.0291" stop-color="#f3752a"/><stop offset="0.0521" stop-color="#f04e2a"/><stop offset="0.0859" stop-color="#f04728"/><stop offset="0.115" stop-color="#f0512a"/><stop offset="0.1411" stop-color="#f47f2a"/><stop offset="0.1595" stop-color="#f9ae2c"/><stop offset="0.1702" stop-color="#fbd431"/><stop offset="0.1748" stop-color="#f6df39"/><stop offset="0.1764" stop-color="#ede03a"/><stop offset="0.1779" stop-color="#dddd3b"/><stop offset="0.1794" stop-color="#c8d93d"/><stop offset="0.181" stop-color="#acd13f"/><stop offset="0.1825" stop-color="#a0cd3f"/><stop offset="0.1917" stop-color="#85c540"/><stop offset="0.2531" stop-color="#66bc45"/><stop offset="0.2761" stop-color="#5eba4c"/><stop offset="0.2991" stop-color="#58b95a"/><stop offset="0.319" stop-color="#54b875"/><stop offset="0.3436" stop-color="#4cb8a2"/><stop offset="0.3788" stop-color="#3bb3cc"/><stop offset="0.3972" stop-color="#27a9e1"/><stop offset="0.4371" stop-color="#2b81c9"/><stop offset="0.4801" stop-color="#285aad"/><stop offset="0.4862" stop-color="#2a5eb0"/><stop offset="0.4908" stop-color="#2b72bf"/><stop offset="0.4939" stop-color="#2998d8"/><stop offset="0.4954" stop-color="#27a7df"/><stop offset="0.5" stop-color="#3fb5c8"/><stop offset="0.5046" stop-color="#43b6bc"/><stop offset="0.5123" stop-color="#42b6c0"/><stop offset="0.5245" stop-color="#35b0d3"/><stop offset="0.5353" stop-color="#27a9e1"/><stop offset="0.5767" stop-color="#2a82ca"/><stop offset="0.6166" stop-color="#2b6cba"/><stop offset="0.6672" stop-color="#2a5fb1"/><stop offset="0.977" stop-color="#2756a9"/><stop offset="1" stop-color="#2756a9"/></linearGradient><linearGradient id="a56"><stop offset="0" stop-color="#fbc52e"/><stop offset="0.0107" stop-color="#f89f2b"/><stop offset="0.0291" stop-color="#f3742a"/><stop offset="0.0521" stop-color="#f04e2a"/><stop offset="0.0874" stop-color="#f04628"/><stop offset="0.115" stop-color="#f0502a"/><stop offset="0.1411" stop-color="#f47e2a"/><stop offset="0.1595" stop-color="#f9ad2c"/><stop offset="0.1718" stop-color="#fad733"/><stop offset="0.1748" stop-color="#f6df38"/><stop offset="0.1764" stop-color="#f0e03a"/><stop offset="0.1794" stop-color="#ccda3d"/><stop offset="0.181" stop-color="#b0d23e"/><stop offset="0.1825" stop-color="#a1ce3f"/><stop offset="0.1917" stop-color="#86c540"/><stop offset="0.2531" stop-color="#67bc45"/><stop offset="0.2761" stop-color="#5eba4c"/><stop offset="0.3006" stop-color="#57b95c"/><stop offset="0.3206" stop-color="#54b878"/><stop offset="0.3436" stop-color="#4cb8a2"/><stop offset="0.3788" stop-color="#3bb3cc"/><stop offset="0.3988" stop-color="#27a8e0"/><stop offset="0.4402" stop-color="#2b7fc8"/><stop offset="0.4801" stop-color="#295aad"/><stop offset="0.4862" stop-color="#2a5eb1"/><stop offset="0.4908" stop-color="#2b72bf"/><stop offset="0.4939" stop-color="#2998d8"/><stop offset="0.4954" stop-color="#27a6df"/><stop offset="0.4985" stop-color="#37b2d0"/><stop offset="0.5015" stop-color="#40b5c4"/><stop offset="0.5061" stop-color="#42b6be"/><stop offset="0.5184" stop-color="#3cb4cb"/><stop offset="0.5337" stop-color="#27aae1"/><stop offset="0.5752" stop-color="#2a83ca"/><stop offset="0.615" stop-color="#2b6dbb"/><stop offset="0.6656" stop-color="#2a5fb1"/><stop offset="0.9693" stop-color="#2756aa"/><stop offset="1" stop-color="#2756a9"/></linearGradient><linearGradient id="a57"><stop offset="0" stop-color="#fbc52e"/><stop offset="0.0107" stop-color="#f89f2b"/><stop offset="0.0291" stop-color="#f3732a"/><stop offset="0.0521" stop-color="#f04e2a"/><stop offset="0.0874" stop-color="#f04628"/><stop offset="0.115" stop-color="#f04f2a"/><stop offset="0.1411" stop-color="#f37e2a"/><stop offset="0.1595" stop-color="#f9ad2c"/><stop offset="0.1718" stop-color="#fad733"/><stop offset="0.1748" stop-color="#f6de38"/><stop offset="0.1764" stop-color="#f0e03a"/><stop offset="0.1794" stop-color="#ccda3d"/><stop offset="0.181" stop-color="#b0d23e"/><stop offset="0.1825" stop-color="#a1ce3f"/><stop offset="0.1917" stop-color="#86c540"/><stop offset="0.2531" stop-color="#67bc45"/><stop offset="0.2761" stop-color="#5eba4c"/><stop offset="0.3006" stop-color="#57b95c"/><stop offset="0.3206" stop-color="#54b877"/><stop offset="0.3436" stop-color="#4cb8a2"/><stop offset="0.3788" stop-color="#3bb3cc"/><stop offset="0.3988" stop-color="#27a8e0"/><stop offset="0.4387" stop-color="#2b80c9"/><stop offset="0.4801" stop-color="#295aae"/><stop offset="0.4862" stop-color="#2a5fb1"/><stop offset="0.4908" stop-color="#2b72bf"/><stop offset="0.4939" stop-color="#2997d7"/><stop offset="0.4954" stop-color="#28a5df"/><stop offset="0.4985" stop-color="#36b1d1"/><stop offset="0.5015" stop-color="#40b5c6"/><stop offset="0.5077" stop-color="#42b6c0"/><stop offset="0.5184" stop-color="#3ab3cd"/><stop offset="0.5337" stop-color="#27a9e0"/><stop offset="0.5767" stop-color="#2b81c9"/><stop offset="0.6166" stop-color="#2b6cba"/><stop offset="0.6687" stop-color="#2a5eb1"/><stop offset="1" stop-color="#2756a9"/></linearGradient><linearGradient id="a58"><stop offset="0" stop-color="#fbc62e"/><stop offset="0.0092" stop-color="#f9a42b"/><stop offset="0.0261" stop-color="#f37a2a"/><stop offset="0.0521" stop-color="#f04e2a"/><stop offset="0.0859" stop-color="#f04628"/><stop offset="0.115" stop-color="#f0502a"/><stop offset="0.1426" stop-color="#f4822a"/><stop offset="0.1595" stop-color="#f9ad2c"/><stop offset="0.1702" stop-color="#fbd431"/><stop offset="0.1748" stop-color="#f6df39"/><stop offset="0.1764" stop-color="#ede03a"/><stop offset="0.1779" stop-color="#dedd3b"/><stop offset="0.1794" stop-color="#c7d93d"/><stop offset="0.181" stop-color="#abd13f"/><stop offset="0.1825" stop-color="#a0cd3f"/><stop offset="0.1917" stop-color="#86c540"/><stop offset="0.2546" stop-color="#66bc45"/><stop offset="0.2791" stop-color="#5eba4e"/><stop offset="0.3006" stop-color="#57b95c"/><stop offset="0.3206" stop-color="#54b877"/><stop offset="0.3436" stop-color="#4cb8a2"/><stop offset="0.3804" stop-color="#3ab3cd"/><stop offset="0.3988" stop-color="#27a8e0"/><stop offset="0.4387" stop-color="#2b81c9"/><stop offset="0.4801" stop-color="#295bae"/><stop offset="0.4862" stop-color="#2a5fb2"/><stop offset="0.4908" stop-color="#2b73bf"/><stop offset="0.4939" stop-color="#2997d7"/><stop offset="0.4954" stop-color="#28a5de"/><stop offset="0.4969" stop-color="#2daddb"/><stop offset="0.5015" stop-color="#3fb5c8"/><stop offset="0.5077" stop-color="#41b5c2"/><stop offset="0.5184" stop-color="#39b2ce"/><stop offset="0.5322" stop-color="#27aae1"/><stop offset="0.5736" stop-color="#2a83ca"/><stop offset="0.6135" stop-color="#2b6dbb"/><stop offset="0.6641" stop-color="#2a5fb1"/><stop offset="0.9678" stop-color="#2756a9"/><stop offset="1" stop-color="#2756a9"/></linearGradient><linearGradient id="a59"><stop offset="0" stop-color="#fbc92e"/><stop offset="0.0092" stop-color="#f9a62b"/><stop offset="0.0261" stop-color="#f37c2a"/><stop offset="0.0537" stop-color="#f04e2a"/><stop offset="0.0859" stop-color="#f04729"/><stop offset="0.1135" stop-color="#f0502a"/><stop offset="0.1411" stop-color="#f4802a"/><stop offset="0.1595" stop-color="#faaf2c"/><stop offset="0.1702" stop-color="#fad632"/><stop offset="0.1748" stop-color="#f5e13a"/><stop offset="0.1779" stop-color="#d7dc3c"/><stop offset="0.181" stop-color="#a4cf3f"/><stop offset="0.1902" stop-color="#87c540"/><stop offset="0.2316" stop-color="#70be44"/><stop offset="0.2699" stop-color="#60bb49"/><stop offset="0.3006" stop-color="#57b95c"/><stop offset="0.3206" stop-color="#54b877"/><stop offset="0.3436" stop-color="#4cb8a2"/><stop offset="0.3804" stop-color="#3ab3cd"/><stop offset="0.3988" stop-color="#27a8e0"/><stop offset="0.4371" stop-color="#2a83ca"/><stop offset="0.4801" stop-color="#295bae"/><stop offset="0.4862" stop-color="#2a60b2"/><stop offset="0.4908" stop-color="#2b73bf"/><stop offset="0.4939" stop-color="#2996d7"/><stop offset="0.4954" stop-color="#28a4de"/><stop offset="0.4969" stop-color="#2cacdc"/><stop offset="0.5015" stop-color="#3eb4c9"/><stop offset="0.5077" stop-color="#40b5c4"/><stop offset="0.5199" stop-color="#35b1d2"/><stop offset="0.5322" stop-color="#27a8e0"/><stop offset="0.5752" stop-color="#2b81c9"/><stop offset="0.615" stop-color="#2b6cba"/><stop offset="0.6656" stop-color="#2a5fb1"/><stop offset="0.9862" stop-color="#2756a9"/><stop offset="1" stop-color="#2756a9"/></linearGradient><linearGradient id="a60"><stop offset="0" stop-color="#fcce2f"/><stop offset="0.0092" stop-color="#f9aa2b"/><stop offset="0.0261" stop-color="#f47f2a"/><stop offset="0.0552" stop-color="#f0502a"/><stop offset="0.0798" stop-color="#f04829"/><stop offset="0.1089" stop-color="#f04e2a"/><stop offset="0.1319" stop-color="#f2712a"/><stop offset="0.1518" stop-color="#f89c2b"/><stop offset="0.1641" stop-color="#fbc32e"/><stop offset="0.1687" stop-color="#fbd431"/><stop offset="0.1733" stop-color="#f6df39"/><stop offset="0.1748" stop-color="#eee03a"/><stop offset="0.1764" stop-color="#dede3b"/><stop offset="0.1779" stop-color="#c8d93d"/><stop offset="0.1794" stop-color="#add13f"/><stop offset="0.181" stop-color="#a0cd3f"/><stop offset="0.1902" stop-color="#86c540"/><stop offset="0.2546" stop-color="#66bc45"/><stop offset="0.2776" stop-color="#5eba4d"/><stop offset="0.3006" stop-color="#57b95c"/><stop offset="0.3206" stop-color="#54b877"/><stop offset="0.3436" stop-color="#4cb8a2"/><stop offset="0.3804" stop-color="#3ab3cd"/><stop offset="0.3988" stop-color="#27a8e0"/><stop offset="0.4371" stop-color="#2a83ca"/><stop offset="0.4801" stop-color="#295baf"/><stop offset="0.4862" stop-color="#2a60b2"/><stop offset="0.4908" stop-color="#2b73bf"/><stop offset="0.4939" stop-color="#2996d7"/><stop offset="0.4954" stop-color="#28a3dd"/><stop offset="0.4969" stop-color="#2aacdd"/><stop offset="0.5015" stop-color="#3cb4cb"/><stop offset="0.5077" stop-color="#3fb5c7"/><stop offset="0.5276" stop-color="#2aabde"/><stop offset="0.5337" stop-color="#28a5df"/><stop offset="0.5798" stop-color="#2b7dc7"/><stop offset="0.6319" stop-color="#2a65b6"/><stop offset="0.7101" stop-color="#295bae"/><stop offset="1" stop-color="#2756a9"/></linearGradient><linearGradient id="a61"><stop offset="0" stop-color="#fbd430"/><stop offset="0.0107" stop-color="#f9aa2b"/><stop offset="0.0276" stop-color="#f4802a"/><stop offset="0.0552" stop-color="#f0552a"/><stop offset="0.0706" stop-color="#f04b29"/><stop offset="0.1028" stop-color="#f04e2a"/><stop offset="0.1227" stop-color="#f2662a"/><stop offset="0.1457" stop-color="#f6912b"/><stop offset="0.161" stop-color="#fbbd2d"/><stop offset="0.1672" stop-color="#fbd431"/><stop offset="0.1718" stop-color="#f6df38"/><stop offset="0.1733" stop-color="#efe03a"/><stop offset="0.1764" stop-color="#ccda3d"/><stop offset="0.1779" stop-color="#b0d23e"/><stop offset="0.1794" stop-color="#a1ce3f"/><stop offset="0.1887" stop-color="#87c540"/><stop offset="0.2454" stop-color="#69bd45"/><stop offset="0.2715" stop-color="#60bb4a"/><stop offset="0.2991" stop-color="#58b95b"/><stop offset="0.319" stop-color="#54b875"/><stop offset="0.3436" stop-color="#4cb8a2"/><stop offset="0.3804" stop-color="#3ab3cd"/><stop offset="0.3988" stop-color="#27a8e0"/><stop offset="0.4356" stop-color="#2a84cc"/><stop offset="0.4801" stop-color="#295caf"/><stop offset="0.4862" stop-color="#2a61b3"/><stop offset="0.4908" stop-color="#2b73c0"/><stop offset="0.4939" stop-color="#2995d6"/><stop offset="0.4969" stop-color="#29abdf"/><stop offset="0.5015" stop-color="#3ab3cd"/><stop offset="0.5077" stop-color="#3eb5c9"/><stop offset="0.5291" stop-color="#27aae1"/><stop offset="0.5721" stop-color="#2a82ca"/><stop offset="0.6104" stop-color="#2b6dbb"/><stop offset="0.661" stop-color="#2a5fb1"/><stop offset="0.9617" stop-color="#2756aa"/><stop offset="1" stop-color="#2756a9"/></linearGradient><linearGradient id="a62"><stop offset="0" stop-color="#f9d834"/><stop offset="0.0046" stop-color="#fbca2e"/><stop offset="0.0138" stop-color="#f9a82b"/><stop offset="0.0307" stop-color="#f4802a"/><stop offset="0.0583" stop-color="#f1582a"/><stop offset="0.0767" stop-color="#f04d2a"/><stop offset="0.0997" stop-color="#f0522a"/><stop offset="0.1227" stop-color="#f26c2a"/><stop offset="0.1442" stop-color="#f6942b"/><stop offset="0.1595" stop-color="#fbbf2d"/><stop offset="0.1656" stop-color="#fad531"/><stop offset="0.1702" stop-color="#f6e039"/><stop offset="0.1718" stop-color="#ece03b"/><stop offset="0.1733" stop-color="#dcdd3b"/><stop offset="0.1764" stop-color="#acd13f"/><stop offset="0.1779" stop-color="#a0cd3f"/><stop offset="0.1871" stop-color="#87c540"/><stop offset="0.2469" stop-color="#68bc45"/><stop offset="0.2715" stop-color="#5fba4a"/><stop offset="0.2991" stop-color="#57b95b"/><stop offset="0.319" stop-color="#54b876"/><stop offset="0.3436" stop-color="#4cb8a2"/><stop offset="0.3788" stop-color="#3bb3cc"/><stop offset="0.3988" stop-color="#27a8e0"/><stop offset="0.4356" stop-color="#2a85cc"/><stop offset="0.4801" stop-color="#2a5caf"/><stop offset="0.4862" stop-color="#2a62b3"/><stop offset="0.4908" stop-color="#2b74c0"/><stop offset="0.4939" stop-color="#2995d6"/><stop offset="0.4969" stop-color="#28abe0"/><stop offset="0.5015" stop-color="#39b2cf"/><stop offset="0.5092" stop-color="#3cb4cb"/><stop offset="0.5291" stop-color="#27a8e0"/><stop offset="0.5736" stop-color="#2b80c9"/><stop offset="0.615" stop-color="#2b6bba"/><stop offset="0.6672" stop-color="#2a5eb1"/><stop offset="1" stop-color="#2756a9"/></linearGradient><linearGradient id="a63"><stop offset="0" stop-color="#f6de38"/><stop offset="0.0061" stop-color="#fcd02f"/><stop offset="0.0153" stop-color="#f9ad2c"/><stop offset="0.0322" stop-color="#f4852a"/><stop offset="0.0567" stop-color="#f1632a"/><stop offset="0.0782" stop-color="#f0552a"/><stop offset="0.0997" stop-color="#f15a2a"/><stop offset="0.1258" stop-color="#f3782a"/><stop offset="0.1457" stop-color="#f89f2b"/><stop offset="0.158" stop-color="#fbc42e"/><stop offset="0.1626" stop-color="#fbd431"/><stop offset="0.1687" stop-color="#f2e03a"/><stop offset="0.1718" stop-color="#d2db3c"/><stop offset="0.1733" stop-color="#b8d43e"/><stop offset="0.1748" stop-color="#a3ce3f"/><stop offset="0.1856" stop-color="#86c540"/><stop offset="0.2577" stop-color="#64bb46"/><stop offset="0.2975" stop-color="#58b95a"/><stop offset="0.319" stop-color="#54b877"/><stop offset="0.3436" stop-color="#4bb8a3"/><stop offset="0.3788" stop-color="#3bb3cc"/><stop offset="0.3972" stop-color="#27a9e1"/><stop offset="0.4325" stop-color="#2a87cd"/><stop offset="0.4816" stop-color="#2a5cb0"/><stop offset="0.4862" stop-color="#2a62b4"/><stop offset="0.4908" stop-color="#2b74c0"/><stop offset="0.4939" stop-color="#2994d6"/><stop offset="0.4969" stop-color="#27aae1"/><stop offset="0.5015" stop-color="#37b1d0"/><stop offset="0.5092" stop-color="#3ab3cd"/><stop offset="0.5276" stop-color="#27a9e0"/><stop offset="0.5721" stop-color="#2b81c9"/><stop offset="0.6135" stop-color="#2b6bba"/><stop offset="0.6656" stop-color="#2a5eb1"/><stop offset="1" stop-color="#2756a9"/></linearGradient><linearGradient id="a64"><stop offset="0" stop-color="#e0de3b"/><stop offset="0.0015" stop-color="#f1e03a"/><stop offset="0.0046" stop-color="#f8db36"/><stop offset="0.0092" stop-color="#fcd22f"/><stop offset="0.0184" stop-color="#fab02c"/><stop offset="0.0353" stop-color="#f5892a"/><stop offset="0.0567" stop-color="#f26d2a"/><stop offset="0.0798" stop-color="#f1602a"/><stop offset="0.1012" stop-color="#f2662a"/><stop offset="0.1258" stop-color="#f4812a"/><stop offset="0.1442" stop-color="#f9a62b"/><stop offset="0.1549" stop-color="#fbc62e"/><stop offset="0.1595" stop-color="#fbd531"/><stop offset="0.1641" stop-color="#f6df38"/><stop offset="0.1656" stop-color="#f1e03a"/><stop offset="0.1687" stop-color="#d2db3c"/><stop offset="0.1718" stop-color="#a4cf3f"/><stop offset="0.1825" stop-color="#87c540"/><stop offset="0.2469" stop-color="#67bc45"/><stop offset="0.2699" stop-color="#5fba4b"/><stop offset="0.2975" stop-color="#57b95c"/><stop offset="0.3175" stop-color="#54b876"/><stop offset="0.342" stop-color="#4cb8a2"/><stop offset="0.3788" stop-color="#3ab3cd"/><stop offset="0.3972" stop-color="#27a9e0"/><stop offset="0.4325" stop-color="#2a87ce"/><stop offset="0.4816" stop-color="#2a5db0"/><stop offset="0.4862" stop-color="#2a63b4"/><stop offset="0.4908" stop-color="#2b74c0"/><stop offset="0.4939" stop-color="#2994d5"/><stop offset="0.4969" stop-color="#27a9e0"/><stop offset="0.5015" stop-color="#35b1d2"/><stop offset="0.5092" stop-color="#38b2cf"/><stop offset="0.5261" stop-color="#27a9e0"/><stop offset="0.5706" stop-color="#2b81c9"/><stop offset="0.6104" stop-color="#2b6cbb"/><stop offset="0.661" stop-color="#2a5fb1"/><stop offset="0.9862" stop-color="#2756a9"/><stop offset="1" stop-color="#2756a9"/></linearGradient><linearGradient id="a65"><stop offset="0" stop-color="#aad03f"/><stop offset="0.0031" stop-color="#d7dc3c"/><stop offset="0.0061" stop-color="#f5e13a"/><stop offset="0.0138" stop-color="#fcd12f"/><stop offset="0.0245" stop-color="#f9ad2c"/><stop offset="0.0429" stop-color="#f5882a"/><stop offset="0.0644" stop-color="#f2722a"/><stop offset="0.0874" stop-color="#f26c2a"/><stop offset="0.1104" stop-color="#f3792a"/><stop offset="0.1319" stop-color="#f7982b"/><stop offset="0.1488" stop-color="#fbc12d"/><stop offset="0.1549" stop-color="#fbd531"/><stop offset="0.161" stop-color="#f5e13a"/><stop offset="0.1641" stop-color="#dadd3c"/><stop offset="0.1672" stop-color="#add13e"/><stop offset="0.1687" stop-color="#a1ce3f"/><stop offset="0.1794" stop-color="#87c540"/><stop offset="0.2531" stop-color="#64bc46"/><stop offset="0.2945" stop-color="#58b959"/><stop offset="0.316" stop-color="#54b875"/><stop offset="0.342" stop-color="#4bb8a3"/><stop offset="0.3773" stop-color="#3bb3cc"/><stop offset="0.3972" stop-color="#27a8e0"/><stop offset="0.4325" stop-color="#2a87ce"/><stop offset="0.4816" stop-color="#2a5db0"/><stop offset="0.4862" stop-color="#2a63b4"/><stop offset="0.4908" stop-color="#2b74c0"/><stop offset="0.4939" stop-color="#2a93d5"/><stop offset="0.4969" stop-color="#27a7e0"/><stop offset="0.5031" stop-color="#36b1d2"/><stop offset="0.5123" stop-color="#34b0d4"/><stop offset="0.5245" stop-color="#27a9e1"/><stop offset="0.569" stop-color="#2b81c9"/><stop offset="0.6089" stop-color="#2b6cbb"/><stop offset="0.6595" stop-color="#2a5fb1"/><stop offset="0.9831" stop-color="#2756a9"/><stop offset="1" stop-color="#2756a9"/></linearGradient><linearGradient id="a66"><stop offset="0" stop-color="#9acb3f"/><stop offset="0.0046" stop-color="#a9d03f"/><stop offset="0.0077" stop-color="#d3dc3c"/><stop offset="0.0107" stop-color="#f1e03a"/><stop offset="0.0169" stop-color="#fad632"/><stop offset="0.0322" stop-color="#f9ab2b"/><stop offset="0.0506" stop-color="#f58c2a"/><stop offset="0.0721" stop-color="#f37b2a"/><stop offset="0.0951" stop-color="#f37c2a"/><stop offset="0.1166" stop-color="#f68e2a"/><stop offset="0.1365" stop-color="#fab02c"/><stop offset="0.1503" stop-color="#fad632"/><stop offset="0.1564" stop-color="#f2e13a"/><stop offset="0.1595" stop-color="#d7dc3c"/><stop offset="0.1626" stop-color="#acd13f"/><stop offset="0.1641" stop-color="#a1ce3f"/><stop offset="0.1764" stop-color="#86c540"/><stop offset="0.2607" stop-color="#61bb48"/><stop offset="0.2945" stop-color="#57b95b"/><stop offset="0.316" stop-color="#54b878"/><stop offset="0.3405" stop-color="#4cb8a2"/><stop offset="0.3773" stop-color="#3ab3cd"/><stop offset="0.3957" stop-color="#27a9e0"/><stop offset="0.4294" stop-color="#2a89cf"/><stop offset="0.4816" stop-color="#2a5eb1"/><stop offset="0.4862" stop-color="#2a64b5"/><stop offset="0.4908" stop-color="#2b74c0"/><stop offset="0.4939" stop-color="#2a92d5"/><stop offset="0.4969" stop-color="#27a6df"/><stop offset="0.5015" stop-color="#32afd6"/><stop offset="0.5092" stop-color="#34b0d3"/><stop offset="0.523" stop-color="#27a9e1"/><stop offset="0.5675" stop-color="#2b81c9"/><stop offset="0.6074" stop-color="#2b6dbb"/><stop offset="0.6595" stop-color="#2a5eb1"/><stop offset="0.9923" stop-color="#2756a9"/><stop offset="1" stop-color="#2756a9"/></linearGradient><linearGradient id="a67"><stop offset="0" stop-color="#8fc840"/><stop offset="0.0092" stop-color="#a3ce3f"/><stop offset="0.0107" stop-color="#acd13f"/><stop offset="0.0138" stop-color="#d4dc3c"/><stop offset="0.0169" stop-color="#efe03a"/><stop offset="0.0199" stop-color="#f7dd37"/><stop offset="0.0276" stop-color="#fccf2f"/><stop offset="0.0399" stop-color="#faaf2c"/><stop offset="0.0598" stop-color="#f6932b"/><stop offset="0.0813" stop-color="#f5892a"/><stop offset="0.1028" stop-color="#f6902a"/><stop offset="0.1227" stop-color="#f9a82b"/><stop offset="0.1365" stop-color="#fbc52e"/><stop offset="0.1426" stop-color="#fbd531"/><stop offset="0.1488" stop-color="#f6df39"/><stop offset="0.1503" stop-color="#f1e03a"/><stop offset="0.1534" stop-color="#d7dd3c"/><stop offset="0.1564" stop-color="#b0d23e"/><stop offset="0.158" stop-color="#a3ce3f"/><stop offset="0.1718" stop-color="#86c540"/><stop offset="0.2607" stop-color="#60bb49"/><stop offset="0.2929" stop-color="#57b95c"/><stop offset="0.3129" stop-color="#54b875"/><stop offset="0.339" stop-color="#4cb8a2"/><stop offset="0.3758" stop-color="#3bb3cc"/><stop offset="0.3942" stop-color="#27a9e1"/><stop offset="0.4279" stop-color="#2a8ad0"/><stop offset="0.4816" stop-color="#2a5fb1"/><stop offset="0.4862" stop-color="#2a64b5"/><stop offset="0.4908" stop-color="#2b74c0"/><stop offset="0.4939" stop-color="#2a91d4"/><stop offset="0.4969" stop-color="#28a5de"/><stop offset="0.4985" stop-color="#28aae0"/><stop offset="0.5031" stop-color="#32afd6"/><stop offset="0.5123" stop-color="#30aed8"/><stop offset="0.523" stop-color="#27a8e0"/><stop offset="0.569" stop-color="#2b7fc8"/><stop offset="0.612" stop-color="#2b6ab9"/><stop offset="0.6656" stop-color="#2a5db0"/><stop offset="1" stop-color="#2756a9"/></linearGradient><linearGradient id="a68"><stop offset="0" stop-color="#86c540"/><stop offset="0.0169" stop-color="#a4cf3f"/><stop offset="0.0184" stop-color="#afd23e"/><stop offset="0.0215" stop-color="#d3dc3c"/><stop offset="0.0261" stop-color="#f5e13a"/><stop offset="0.0383" stop-color="#fccd2f"/><stop offset="0.0521" stop-color="#fab12c"/><stop offset="0.0721" stop-color="#f89f2b"/><stop offset="0.0936" stop-color="#f89f2b"/><stop offset="0.115" stop-color="#fab22c"/><stop offset="0.1288" stop-color="#fccd2f"/><stop offset="0.1411" stop-color="#f5e03a"/><stop offset="0.1442" stop-color="#e3de3b"/><stop offset="0.1457" stop-color="#d7dc3c"/><stop offset="0.1503" stop-color="#a4cf3f"/><stop offset="0.1656" stop-color="#86c540"/><stop offset="0.2577" stop-color="#60bb49"/><stop offset="0.2899" stop-color="#58b95b"/><stop offset="0.3113" stop-color="#54b875"/><stop offset="0.3374" stop-color="#4cb8a2"/><stop offset="0.3742" stop-color="#3bb3cc"/><stop offset="0.3942" stop-color="#27a8e0"/><stop offset="0.4264" stop-color="#2a8bd0"/><stop offset="0.4816" stop-color="#2a5fb2"/><stop offset="0.4877" stop-color="#2b69b8"/><stop offset="0.4908" stop-color="#2b74c0"/><stop offset="0.4939" stop-color="#2a91d4"/><stop offset="0.4985" stop-color="#27a9e1"/><stop offset="0.5046" stop-color="#31aed7"/><stop offset="0.5215" stop-color="#27a8e0"/><stop offset="0.569" stop-color="#2b7ec7"/><stop offset="0.6166" stop-color="#2a68b8"/><stop offset="0.6748" stop-color="#2a5db0"/><stop offset="1" stop-color="#2756a9"/></linearGradient><linearGradient id="a69"><stop offset="0" stop-color="#82c441"/><stop offset="0.0123" stop-color="#8cc740"/><stop offset="0.0261" stop-color="#a3ce3f"/><stop offset="0.0276" stop-color="#acd13f"/><stop offset="0.0322" stop-color="#d7dc3c"/><stop offset="0.0368" stop-color="#f4e13a"/><stop offset="0.0552" stop-color="#fbca2e"/><stop offset="0.0721" stop-color="#fab82d"/><stop offset="0.092" stop-color="#fab72c"/><stop offset="0.1089" stop-color="#fbc62e"/><stop offset="0.1227" stop-color="#f9d833"/><stop offset="0.1304" stop-color="#f5e13a"/><stop offset="0.135" stop-color="#dadd3c"/><stop offset="0.1396" stop-color="#afd23e"/><stop offset="0.1411" stop-color="#a4cf3f"/><stop offset="0.1595" stop-color="#85c540"/><stop offset="0.2546" stop-color="#60bb49"/><stop offset="0.2883" stop-color="#57b95c"/><stop offset="0.3098" stop-color="#54b877"/><stop offset="0.3359" stop-color="#4bb8a3"/><stop offset="0.3727" stop-color="#3bb3cc"/><stop offset="0.3926" stop-color="#27a8e0"/><stop offset="0.4248" stop-color="#2a8cd1"/><stop offset="0.4816" stop-color="#2a60b2"/><stop offset="0.4877" stop-color="#2b69b9"/><stop offset="0.4908" stop-color="#2b74c0"/><stop offset="0.4939" stop-color="#2a90d3"/><stop offset="0.4985" stop-color="#27a8e0"/><stop offset="0.5061" stop-color="#2faed9"/><stop offset="0.5199" stop-color="#27a7e0"/><stop offset="0.569" stop-color="#2b7dc6"/><stop offset="0.6227" stop-color="#2a65b6"/><stop offset="0.6948" stop-color="#295baf"/><stop offset="1" stop-color="#2756a9"/></linearGradient><linearGradient id="a70"><stop offset="0" stop-color="#7fc341"/><stop offset="0.0199" stop-color="#89c640"/><stop offset="0.0399" stop-color="#a5cf3f"/><stop offset="0.0475" stop-color="#dadd3c"/><stop offset="0.0537" stop-color="#f4e13a"/><stop offset="0.0813" stop-color="#fbd531"/><stop offset="0.1074" stop-color="#f7dd37"/><stop offset="0.1135" stop-color="#f4e13a"/><stop offset="0.1212" stop-color="#d4dc3c"/><stop offset="0.1273" stop-color="#a7d03f"/><stop offset="0.1488" stop-color="#86c540"/><stop offset="0.2515" stop-color="#60bb49"/><stop offset="0.2853" stop-color="#57b95c"/><stop offset="0.3067" stop-color="#54b876"/><stop offset="0.3344" stop-color="#4bb8a3"/><stop offset="0.3712" stop-color="#3bb3cc"/><stop offset="0.3896" stop-color="#27aae1"/><stop offset="0.4218" stop-color="#2a8dd2"/><stop offset="0.4816" stop-color="#2a60b2"/><stop offset="0.4877" stop-color="#2b69b9"/><stop offset="0.4908" stop-color="#2b74c0"/><stop offset="0.4939" stop-color="#2a8fd3"/><stop offset="0.4985" stop-color="#27a6df"/><stop offset="0.5015" stop-color="#2aabde"/><stop offset="0.5107" stop-color="#2bacdd"/><stop offset="0.5184" stop-color="#27a7df"/><stop offset="0.569" stop-color="#2b7cc6"/><stop offset="0.6304" stop-color="#2a62b4"/><stop offset="0.727" stop-color="#295aad"/><stop offset="1" stop-color="#2756a9"/></linearGradient><linearGradient id="a71"><stop offset="0" stop-color="#7cc242"/><stop offset="0.0337" stop-color="#8ac640"/><stop offset="0.0629" stop-color="#a7d03f"/><stop offset="0.0752" stop-color="#c7d83d"/><stop offset="0.0844" stop-color="#ceda3c"/><stop offset="0.0936" stop-color="#c5d83d"/><stop offset="0.1074" stop-color="#a3ce3f"/><stop offset="0.1411" stop-color="#84c440"/><stop offset="0.2469" stop-color="#60bb49"/><stop offset="0.2807" stop-color="#58b95a"/><stop offset="0.3037" stop-color="#54b876"/><stop offset="0.3313" stop-color="#4bb8a3"/><stop offset="0.3681" stop-color="#3cb3cc"/><stop offset="0.388" stop-color="#27a9e1"/><stop offset="0.4187" stop-color="#2a8fd3"/><stop offset="0.4755" stop-color="#2a64b5"/><stop offset="0.4831" stop-color="#2a61b3"/><stop offset="0.4893" stop-color="#2b6fbc"/><stop offset="0.4908" stop-color="#2b74c0"/><stop offset="0.4939" stop-color="#2a8ed2"/><stop offset="0.4985" stop-color="#28a4de"/><stop offset="0.5031" stop-color="#29abdf"/><stop offset="0.5169" stop-color="#27a6df"/><stop offset="0.569" stop-color="#2b7bc5"/><stop offset="0.6365" stop-color="#2a61b2"/><stop offset="0.8221" stop-color="#2758ab"/><stop offset="1" stop-color="#2756a9"/></linearGradient><linearGradient id="a72"><stop offset="0" stop-color="#79c142"/><stop offset="0.0567" stop-color="#8cc740"/><stop offset="0.0874" stop-color="#93c940"/><stop offset="0.158" stop-color="#7bc142"/><stop offset="0.2423" stop-color="#60bb49"/><stop offset="0.2776" stop-color="#57b95b"/><stop offset="0.3006" stop-color="#54b876"/><stop offset="0.3282" stop-color="#4bb8a3"/><stop offset="0.3666" stop-color="#3bb3cc"/><stop offset="0.3865" stop-color="#27a8e0"/><stop offset="0.4172" stop-color="#2a8fd3"/><stop offset="0.4739" stop-color="#2a66b6"/><stop offset="0.4831" stop-color="#2a61b3"/><stop offset="0.4893" stop-color="#2b6ebc"/><stop offset="0.4908" stop-color="#2b74c0"/><stop offset="0.4954" stop-color="#2996d6"/><stop offset="0.5" stop-color="#27a6df"/><stop offset="0.5077" stop-color="#27aae1"/><stop offset="0.5721" stop-color="#2b78c2"/><stop offset="0.6396" stop-color="#2a60b2"/><stop offset="0.885" stop-color="#2757aa"/><stop offset="1" stop-color="#2756a9"/></linearGradient><linearGradient id="a73"><stop offset="0" stop-color="#76c043"/><stop offset="0.0782" stop-color="#84c440"/><stop offset="0.1488" stop-color="#7ac142"/><stop offset="0.2362" stop-color="#60bb49"/><stop offset="0.273" stop-color="#58b95b"/><stop offset="0.296" stop-color="#54b875"/><stop offset="0.3252" stop-color="#4bb8a3"/><stop offset="0.3635" stop-color="#3bb3cc"/><stop offset="0.3834" stop-color="#27a9e0"/><stop offset="0.4141" stop-color="#2a90d3"/><stop offset="0.4724" stop-color="#2a67b7"/><stop offset="0.4831" stop-color="#2a62b3"/><stop offset="0.4893" stop-color="#2b6ebc"/><stop offset="0.4908" stop-color="#2b74c0"/><stop offset="0.4954" stop-color="#2994d6"/><stop offset="0.5" stop-color="#28a3de"/><stop offset="0.5077" stop-color="#27a8e0"/><stop offset="0.5721" stop-color="#2b76c2"/><stop offset="0.6396" stop-color="#2a5fb2"/><stop offset="0.911" stop-color="#2756aa"/><stop offset="1" stop-color="#2756a9"/></linearGradient><linearGradient id="a74"><stop offset="0" stop-color="#73bf43"/><stop offset="0.0752" stop-color="#7fc341"/><stop offset="0.1472" stop-color="#77c042"/><stop offset="0.2301" stop-color="#60bb49"/><stop offset="0.2684" stop-color="#57b95c"/><stop offset="0.2914" stop-color="#54b875"/><stop offset="0.3221" stop-color="#4bb8a4"/><stop offset="0.3604" stop-color="#3bb3cc"/><stop offset="0.3804" stop-color="#27a9e0"/><stop offset="0.411" stop-color="#2a90d4"/><stop offset="0.4709" stop-color="#2b69b8"/><stop offset="0.4831" stop-color="#2a62b3"/><stop offset="0.4893" stop-color="#2b6ebc"/><stop offset="0.4908" stop-color="#2b73c0"/><stop offset="0.4954" stop-color="#2a92d5"/><stop offset="0.5" stop-color="#28a1dc"/><stop offset="0.5077" stop-color="#28a5de"/><stop offset="0.5721" stop-color="#2b75c1"/><stop offset="0.6396" stop-color="#2a5fb1"/><stop offset="0.9402" stop-color="#2756aa"/><stop offset="1" stop-color="#2756a9"/></linearGradient><linearGradient id="a75"><stop offset="0" stop-color="#6fbe44"/><stop offset="0.0813" stop-color="#7bc142"/><stop offset="0.161" stop-color="#70be44"/><stop offset="0.2239" stop-color="#60bb49"/><stop offset="0.2623" stop-color="#57b95b"/><stop offset="0.2868" stop-color="#54b876"/><stop offset="0.3175" stop-color="#4bb8a3"/><stop offset="0.3574" stop-color="#3ab3cd"/><stop offset="0.3773" stop-color="#27a9e0"/><stop offset="0.408" stop-color="#2a91d4"/><stop offset="0.4693" stop-color="#2b6ab9"/><stop offset="0.4831" stop-color="#2a62b3"/><stop offset="0.4893" stop-color="#2b6ebc"/><stop offset="0.4908" stop-color="#2b73bf"/><stop offset="0.4954" stop-color="#2a91d4"/><stop offset="0.5" stop-color="#289fdb"/><stop offset="0.5092" stop-color="#28a2dd"/><stop offset="0.5706" stop-color="#2b74c0"/><stop offset="0.638" stop-color="#2a5fb1"/><stop offset="0.9494" stop-color="#2756a9"/><stop offset="1" stop-color="#2756a9"/></linearGradient><linearGradient id="a76"><stop offset="0" stop-color="#6cbd44"/><stop offset="0.089" stop-color="#76c043"/><stop offset="0.184" stop-color="#68bc45"/><stop offset="0.2178" stop-color="#60bb4a"/><stop offset="0.2561" stop-color="#57b95c"/><stop offset="0.2807" stop-color="#54b875"/><stop offset="0.3129" stop-color="#4bb8a4"/><stop offset="0.3528" stop-color="#3bb3cc"/><stop offset="0.3727" stop-color="#27a9e1"/><stop offset="0.4034" stop-color="#2a92d4"/><stop offset="0.4693" stop-color="#2b6ab9"/><stop offset="0.4831" stop-color="#2a62b3"/><stop offset="0.4893" stop-color="#2b6ebc"/><stop offset="0.4908" stop-color="#2b73bf"/><stop offset="0.4954" stop-color="#2a8fd3"/><stop offset="0.5" stop-color="#299cda"/><stop offset="0.5092" stop-color="#289fdb"/><stop offset="0.569" stop-color="#2b74c0"/><stop offset="0.6365" stop-color="#2a5fb1"/><stop offset="0.9601" stop-color="#2756a9"/><stop offset="1" stop-color="#2756a9"/></linearGradient><linearGradient id="a77"><stop offset="0" stop-color="#69bd45"/><stop offset="0.089" stop-color="#72be43"/><stop offset="0.181" stop-color="#65bc45"/><stop offset="0.2193" stop-color="#5dba4e"/><stop offset="0.2485" stop-color="#57b95c"/><stop offset="0.2745" stop-color="#54b876"/><stop offset="0.3067" stop-color="#4bb8a3"/><stop offset="0.3482" stop-color="#3bb3cc"/><stop offset="0.3696" stop-color="#27a8e0"/><stop offset="0.4018" stop-color="#2a91d4"/><stop offset="0.4678" stop-color="#2b6bba"/><stop offset="0.4831" stop-color="#2a62b4"/><stop offset="0.4893" stop-color="#2b6ebc"/><stop offset="0.4923" stop-color="#2b7cc5"/><stop offset="0.4969" stop-color="#2a93d5"/><stop offset="0.5031" stop-color="#299cda"/><stop offset="0.5199" stop-color="#2994d6"/><stop offset="0.5675" stop-color="#2b73bf"/><stop offset="0.6334" stop-color="#2a5fb1"/><stop offset="0.9601" stop-color="#2756a9"/><stop offset="1" stop-color="#2756a9"/></linearGradient><linearGradient id="a78"><stop offset="0" stop-color="#65bc45"/><stop offset="0.0905" stop-color="#6ebe44"/><stop offset="0.1902" stop-color="#60bb49"/><stop offset="0.2377" stop-color="#58b95b"/><stop offset="0.2669" stop-color="#54b876"/><stop offset="0.3006" stop-color="#4bb8a3"/><stop offset="0.342" stop-color="#3bb3cc"/><stop offset="0.3635" stop-color="#27a9e1"/><stop offset="0.3957" stop-color="#2a92d5"/><stop offset="0.4663" stop-color="#2b6cbb"/><stop offset="0.4831" stop-color="#2a62b4"/><stop offset="0.4893" stop-color="#2b6dbb"/><stop offset="0.4923" stop-color="#2b7ac4"/><stop offset="0.4969" stop-color="#2a90d4"/><stop offset="0.5031" stop-color="#299ad8"/><stop offset="0.5215" stop-color="#2a90d4"/><stop offset="0.566" stop-color="#2b72bf"/><stop offset="0.6319" stop-color="#2a5eb1"/><stop offset="0.9739" stop-color="#2756a9"/><stop offset="1" stop-color="#2756a9"/></linearGradient><linearGradient id="a79"><stop offset="0" stop-color="#62bb47"/><stop offset="0.0936" stop-color="#69bd45"/><stop offset="0.1748" stop-color="#60bb49"/><stop offset="0.227" stop-color="#58b95b"/><stop offset="0.2577" stop-color="#54b876"/><stop offset="0.2929" stop-color="#4bb8a3"/><stop offset="0.3359" stop-color="#3bb3cc"/><stop offset="0.3589" stop-color="#27a8e0"/><stop offset="0.3911" stop-color="#2a92d5"/><stop offset="0.4647" stop-color="#2b6dbb"/><stop offset="0.4831" stop-color="#2a62b3"/><stop offset="0.4893" stop-color="#2b6dbb"/><stop offset="0.4969" stop-color="#2a8ed2"/><stop offset="0.5031" stop-color="#2996d7"/><stop offset="0.523" stop-color="#2a8cd1"/><stop offset="0.566" stop-color="#2b71be"/><stop offset="0.6288" stop-color="#2a5eb1"/><stop offset="0.9785" stop-color="#2756a9"/><stop offset="1" stop-color="#2755a9"/></linearGradient><linearGradient id="a80"><stop offset="0" stop-color="#5fba4c"/><stop offset="0.0613" stop-color="#64bc46"/><stop offset="0.1534" stop-color="#60bb49"/><stop offset="0.2132" stop-color="#58b95a"/><stop offset="0.2469" stop-color="#54b876"/><stop offset="0.2853" stop-color="#4bb8a4"/><stop offset="0.3298" stop-color="#3bb3cd"/><stop offset="0.3528" stop-color="#27a8e0"/><stop offset="0.3865" stop-color="#2a92d5"/><stop offset="0.4632" stop-color="#2b6ebc"/><stop offset="0.4831" stop-color="#2a62b3"/><stop offset="0.4908" stop-color="#2b71be"/><stop offset="0.4969" stop-color="#2a8bd0"/><stop offset="0.5031" stop-color="#2a93d5"/><stop offset="0.523" stop-color="#2a89cf"/><stop offset="0.5644" stop-color="#2b70bd"/><stop offset="0.6258" stop-color="#2a5eb1"/><stop offset="0.9847" stop-color="#2756a9"/><stop offset="1" stop-color="#2755a9"/></linearGradient><linearGradient id="a81"><stop offset="0" stop-color="#5cba51"/><stop offset="0.0874" stop-color="#61bb48"/><stop offset="0.1764" stop-color="#5ab953"/><stop offset="0.2025" stop-color="#57b95e"/><stop offset="0.2347" stop-color="#54b876"/><stop offset="0.2761" stop-color="#4bb8a4"/><stop offset="0.3206" stop-color="#3cb3cb"/><stop offset="0.3451" stop-color="#27a9e0"/><stop offset="0.3788" stop-color="#2a93d5"/><stop offset="0.4617" stop-color="#2b6ebc"/><stop offset="0.4831" stop-color="#2a62b3"/><stop offset="0.4908" stop-color="#2b70bd"/><stop offset="0.4969" stop-color="#2a89cf"/><stop offset="0.5031" stop-color="#2a91d4"/><stop offset="0.523" stop-color="#2a86cd"/><stop offset="0.5613" stop-color="#2b70bd"/><stop offset="0.6227" stop-color="#2a5eb1"/><stop offset="0.9893" stop-color="#2756a9"/><stop offset="1" stop-color="#2755a9"/></linearGradient><linearGradient id="a82"><stop offset="0" stop-color="#58b956"/><stop offset="0.0905" stop-color="#5dba4e"/><stop offset="0.1718" stop-color="#58b959"/><stop offset="0.2193" stop-color="#54b876"/><stop offset="0.2653" stop-color="#4bb8a5"/><stop offset="0.3113" stop-color="#3cb3cc"/><stop offset="0.3359" stop-color="#27a9e1"/><stop offset="0.3712" stop-color="#2994d5"/><stop offset="0.4601" stop-color="#2b6fbc"/><stop offset="0.4831" stop-color="#2a61b3"/><stop offset="0.4908" stop-color="#2b6fbd"/><stop offset="0.4969" stop-color="#2a86cd"/><stop offset="0.5046" stop-color="#2a8ed2"/><stop offset="0.5583" stop-color="#2b6fbd"/><stop offset="0.6181" stop-color="#2a5eb1"/><stop offset="0.9847" stop-color="#2756a9"/><stop offset="1" stop-color="#2755a9"/></linearGradient><linearGradient id="a83"><stop offset="0" stop-color="#57b962"/><stop offset="0.046" stop-color="#59b956"/><stop offset="0.1334" stop-color="#58b957"/><stop offset="0.1963" stop-color="#55b872"/><stop offset="0.2546" stop-color="#4ab7a7"/><stop offset="0.3006" stop-color="#3cb3cc"/><stop offset="0.3267" stop-color="#27a9e0"/><stop offset="0.3635" stop-color="#2994d5"/><stop offset="0.4586" stop-color="#2b6fbc"/><stop offset="0.4831" stop-color="#2a61b3"/><stop offset="0.4908" stop-color="#2b6ebc"/><stop offset="0.4985" stop-color="#2a86cd"/><stop offset="0.5077" stop-color="#2a8ad0"/><stop offset="0.5537" stop-color="#2b6fbd"/><stop offset="0.6135" stop-color="#2a5eb1"/><stop offset="0.9816" stop-color="#2756a9"/><stop offset="1" stop-color="#2755a9"/></linearGradient><linearGradient id="a84"><stop offset="0" stop-color="#55b86f"/><stop offset="0.0675" stop-color="#57b960"/><stop offset="0.1288" stop-color="#56b865"/><stop offset="0.1733" stop-color="#54b875"/><stop offset="0.2439" stop-color="#49b7ab"/><stop offset="0.2883" stop-color="#3bb3cc"/><stop offset="0.316" stop-color="#27a9e0"/><stop offset="0.3558" stop-color="#2a93d5"/><stop offset="0.4571" stop-color="#2b6fbc"/><stop offset="0.4831" stop-color="#2a61b3"/><stop offset="0.4908" stop-color="#2b6dbb"/><stop offset="0.4985" stop-color="#2a83cb"/><stop offset="0.5077" stop-color="#2a86cd"/><stop offset="0.5506" stop-color="#2b6ebc"/><stop offset="0.6089" stop-color="#2a5eb1"/><stop offset="0.9847" stop-color="#2755a9"/><stop offset="1" stop-color="#2655a9"/></linearGradient><linearGradient id="a85"><stop offset="0" stop-color="#51b885"/><stop offset="0.0521" stop-color="#55b870"/><stop offset="0.1166" stop-color="#55b871"/><stop offset="0.1733" stop-color="#50b88b"/><stop offset="0.2699" stop-color="#3eb4c9"/><stop offset="0.3021" stop-color="#27a9e1"/><stop offset="0.3436" stop-color="#2994d6"/><stop offset="0.4555" stop-color="#2b6ebc"/><stop offset="0.4831" stop-color="#2a60b2"/><stop offset="0.4908" stop-color="#2b6cba"/><stop offset="0.4985" stop-color="#2b80c8"/><stop offset="0.5077" stop-color="#2a83ca"/><stop offset="0.5506" stop-color="#2b6cbb"/><stop offset="0.6058" stop-color="#2a5eb0"/><stop offset="1" stop-color="#2655a9"/></linearGradient><linearGradient id="a86"><stop offset="0" stop-color="#4eb89a"/><stop offset="0.0567" stop-color="#51b886"/><stop offset="0.1089" stop-color="#51b886"/><stop offset="0.1656" stop-color="#4eb89b"/><stop offset="0.2439" stop-color="#41b5c3"/><stop offset="0.2883" stop-color="#27a9e0"/><stop offset="0.3344" stop-color="#2994d5"/><stop offset="0.454" stop-color="#2b6ebc"/><stop offset="0.4831" stop-color="#2a60b2"/><stop offset="0.4908" stop-color="#2b6bb9"/><stop offset="0.5" stop-color="#2b7ec7"/><stop offset="0.5138" stop-color="#2b7bc5"/><stop offset="0.5721" stop-color="#2a62b4"/><stop offset="0.661" stop-color="#295aae"/><stop offset="1" stop-color="#2655a9"/></linearGradient><linearGradient id="a87"><stop offset="0" stop-color="#49b7aa"/><stop offset="0.0736" stop-color="#4db89c"/><stop offset="0.1442" stop-color="#4bb8a4"/><stop offset="0.2132" stop-color="#42b6c0"/><stop offset="0.2408" stop-color="#38b2d0"/><stop offset="0.2699" stop-color="#27a9e0"/><stop offset="0.3206" stop-color="#2994d5"/><stop offset="0.454" stop-color="#2b6dbb"/><stop offset="0.4831" stop-color="#2a5fb1"/><stop offset="0.4908" stop-color="#2b69b8"/><stop offset="0.5" stop-color="#2b7ac4"/><stop offset="0.5153" stop-color="#2b76c2"/><stop offset="0.5782" stop-color="#2a60b2"/><stop offset="0.8313" stop-color="#2757aa"/><stop offset="1" stop-color="#2655a9"/></linearGradient><linearGradient id="a88"><stop offset="0" stop-color="#42b6bf"/><stop offset="0.069" stop-color="#46b7b2"/><stop offset="0.138" stop-color="#44b6b8"/><stop offset="0.1963" stop-color="#3bb3cc"/><stop offset="0.2408" stop-color="#27a9e0"/><stop offset="0.3037" stop-color="#2a93d5"/><stop offset="0.4509" stop-color="#2b6cba"/><stop offset="0.4831" stop-color="#2a5db0"/><stop offset="0.4923" stop-color="#2b6ab9"/><stop offset="0.5015" stop-color="#2b75c1"/><stop offset="0.5752" stop-color="#2a5fb1"/><stop offset="0.9095" stop-color="#2756a9"/><stop offset="1" stop-color="#2655a9"/></linearGradient><linearGradient id="a89"><stop offset="0" stop-color="#27a8e0"/><stop offset="0.0951" stop-color="#30aed8"/><stop offset="0.1656" stop-color="#27a7e0"/><stop offset="0.4018" stop-color="#2b75c0"/><stop offset="0.4693" stop-color="#2a60b2"/><stop offset="0.4862" stop-color="#2a5db0"/><stop offset="0.5" stop-color="#2b6ebc"/><stop offset="0.5721" stop-color="#2a5db0"/><stop offset="1" stop-color="#2655a9"/></linearGradient><linearGradient id="a90"><stop offset="0" stop-color="#2a8cd1"/><stop offset="0.066" stop-color="#2999d8"/><stop offset="0.138" stop-color="#2994d6"/><stop offset="0.1764" stop-color="#2a87ce"/><stop offset="0.2071" stop-color="#2b7ac4"/><stop offset="0.4034" stop-color="#2a5db0"/><stop offset="0.8834" stop-color="#2655a9"/><stop offset="1" stop-color="#2655a9"/></linearGradient><linearGradient id="a91"><stop offset="0" stop-color="#2b7cc5"/><stop offset="0.0736" stop-color="#2a88ce"/><stop offset="0.1488" stop-color="#2b81c9"/><stop offset="0.2055" stop-color="#2b70bd"/><stop offset="0.4095" stop-color="#295bae"/><stop offset="1" stop-color="#2655a9"/></linearGradient><linearGradient id="a92"><stop offset="0" stop-color="#2b70bd"/><stop offset="0.0936" stop-color="#2b78c3"/><stop offset="0.181" stop-color="#2b6dbb"/><stop offset="0.3666" stop-color="#295bae"/><stop offset="0.4847" stop-color="#295bae"/><stop offset="0.8037" stop-color="#2655a9"/><stop offset="1" stop-color="#2655a9"/></linearGradient><linearGradient id="a93"><stop offset="0" stop-color="#2b69b8"/><stop offset="0.112" stop-color="#2b6ebc"/><stop offset="0.3098" stop-color="#295caf"/><stop offset="0.4785" stop-color="#285aad"/><stop offset="0.5" stop-color="#295aad"/><stop offset="0.862" stop-color="#2655a9"/><stop offset="1" stop-color="#2655a8"/></linearGradient><linearGradient id="a94"><stop offset="0" stop-color="#2a63b4"/><stop offset="0.1273" stop-color="#2a67b7"/><stop offset="0.2837" stop-color="#295bae"/><stop offset="0.477" stop-color="#2859ad"/><stop offset="0.4969" stop-color="#295bae"/><stop offset="0.5706" stop-color="#2756aa"/><stop offset="1" stop-color="#2655a8"/></linearGradient><linearGradient id="a95"><stop offset="0" stop-color="#2a5fb1"/><stop offset="0.1442" stop-color="#2a61b3"/><stop offset="0.3865" stop-color="#2758ab"/><stop offset="0.4785" stop-color="#295aad"/><stop offset="0.4939" stop-color="#2a5db0"/><stop offset="0.5322" stop-color="#2756aa"/><stop offset="1" stop-color="#2655a8"/></linearGradient><linearGradient id="a96"><stop offset="0" stop-color="#2a5caf"/><stop offset="0.1963" stop-color="#295bae"/><stop offset="0.4724" stop-color="#2858ac"/><stop offset="0.4923" stop-color="#2a60b2"/><stop offset="0.5169" stop-color="#2757aa"/><stop offset="1" stop-color="#2655a8"/></linearGradient><linearGradient id="a97"><stop offset="0" stop-color="#295aae"/><stop offset="0.4724" stop-color="#2858ac"/><stop offset="0.4923" stop-color="#2a61b3"/><stop offset="0.5123" stop-color="#2757ab"/><stop offset="1" stop-color="#2655a8"/></linearGradient><linearGradient id="a98"><stop offset="0" stop-color="#2859ad"/><stop offset="0.4709" stop-color="#2858ab"/><stop offset="0.4862" stop-color="#2a61b3"/><stop offset="0.4939" stop-color="#2a61b3"/><stop offset="0.5107" stop-color="#2858ab"/><stop offset="1" stop-color="#2654a8"/></linearGradient><linearGradient id="a99"><stop offset="0" stop-color="#2858ac"/><stop offset="0.4693" stop-color="#2858ab"/><stop offset="0.4847" stop-color="#2a61b3"/><stop offset="0.4923" stop-color="#2a64b5"/><stop offset="0.5061" stop-color="#2859ac"/><stop offset="0.6534" stop-color="#2655a8"/><stop offset="1" stop-color="#2654a8"/></linearGradient><linearGradient id="a100"><stop offset="0" stop-color="#2757ab"/><stop offset="0.4693" stop-color="#2858ab"/><stop offset="0.4831" stop-color="#2a60b2"/><stop offset="0.4908" stop-color="#2a67b7"/><stop offset="0.5061" stop-color="#2859ac"/><stop offset="0.6212" stop-color="#2655a8"/><stop offset="1" stop-color="#2654a8"/></linearGradient><linearGradient id="a101"><stop offset="0" stop-color="#2757aa"/><stop offset="0.4678" stop-color="#2858ab"/><stop offset="0.4816" stop-color="#2a5fb1"/><stop offset="0.4908" stop-color="#2b69b8"/><stop offset="0.5046" stop-color="#295aad"/><stop offset="0.5721" stop-color="#2655a9"/><stop offset="1" stop-color="#2654a8"/></linearGradient><linearGradient id="a102"><stop offset="0" stop-color="#2756aa"/><stop offset="0.4678" stop-color="#2858ab"/><stop offset="0.4816" stop-color="#2a60b2"/><stop offset="0.4908" stop-color="#2b6bba"/><stop offset="0.5046" stop-color="#295aae"/><stop offset="0.5644" stop-color="#2655a9"/><stop offset="1" stop-color="#2654a8"/></linearGradient><linearGradient id="a103"><stop offset="0" stop-color="#2756aa"/><stop offset="0.4663" stop-color="#2758ab"/><stop offset="0.4801" stop-color="#2a5eb1"/><stop offset="0.4893" stop-color="#2b6dbb"/><stop offset="0.4969" stop-color="#2a64b5"/><stop offset="0.5061" stop-color="#295aad"/><stop offset="0.5767" stop-color="#2655a8"/><stop offset="1" stop-color="#2654a8"/></linearGradient><linearGradient id="a104"><stop offset="0" stop-color="#2756a9"/><stop offset="0.4663" stop-color="#2858ab"/><stop offset="0.4801" stop-color="#2a60b2"/><stop offset="0.4893" stop-color="#2b6fbd"/><stop offset="0.4954" stop-color="#2b69b8"/><stop offset="0.5046" stop-color="#295bae"/><stop offset="0.5521" stop-color="#2655a9"/><stop offset="1" stop-color="#2654a8"/></linearGradient><linearGradient id="a105"><stop offset="0" stop-color="#2655a9"/><stop offset="0.4647" stop-color="#2858ab"/><stop offset="0.4785" stop-color="#2a5fb1"/><stop offset="0.4893" stop-color="#2b73bf"/><stop offset="0.4954" stop-color="#2b6cba"/><stop offset="0.5046" stop-color="#295caf"/><stop offset="0.5445" stop-color="#2655a9"/><stop offset="1" stop-color="#2654a8"/></linearGradient><linearGradient id="a106"><stop offset="0" stop-color="#2655a9"/><stop offset="0.4632" stop-color="#2858ab"/><stop offset="0.4785" stop-color="#2a60b2"/><stop offset="0.4893" stop-color="#2b77c2"/><stop offset="0.4954" stop-color="#2b6fbc"/><stop offset="0.5046" stop-color="#2a5db0"/><stop offset="0.5399" stop-color="#2755a9"/><stop offset="1" stop-color="#2654a8"/></linearGradient><linearGradient id="a107"><stop offset="0" stop-color="#2655a9"/><stop offset="0.4617" stop-color="#2758ab"/><stop offset="0.477" stop-color="#2a5fb2"/><stop offset="0.4893" stop-color="#2b7cc6"/><stop offset="0.4939" stop-color="#2b76c2"/><stop offset="0.5046" stop-color="#2a5db0"/><stop offset="0.5353" stop-color="#2756a9"/><stop offset="1" stop-color="#2654a8"/></linearGradient><linearGradient id="a108"><stop offset="0" stop-color="#2655a9"/><stop offset="0.4601" stop-color="#2757ab"/><stop offset="0.4755" stop-color="#2a5eb1"/><stop offset="0.4847" stop-color="#2b74c0"/><stop offset="0.4893" stop-color="#2a82ca"/><stop offset="0.4939" stop-color="#2b7bc5"/><stop offset="0.5031" stop-color="#2a61b3"/><stop offset="0.5153" stop-color="#2859ac"/><stop offset="0.6902" stop-color="#2654a8"/><stop offset="1" stop-color="#2654a8"/></linearGradient><linearGradient id="a109"><stop offset="0" stop-color="#2655a8"/><stop offset="0.4586" stop-color="#2758ab"/><stop offset="0.4739" stop-color="#2a5eb1"/><stop offset="0.4831" stop-color="#2b74c0"/><stop offset="0.4877" stop-color="#2a87ce"/><stop offset="0.4908" stop-color="#2a8bd0"/><stop offset="0.4954" stop-color="#2b7cc6"/><stop offset="0.5015" stop-color="#2a67b7"/><stop offset="0.5092" stop-color="#295caf"/><stop offset="0.5567" stop-color="#2655a9"/><stop offset="1" stop-color="#2654a8"/></linearGradient><linearGradient id="a110"><stop offset="0" stop-color="#2655a8"/><stop offset="0.4571" stop-color="#2858ab"/><stop offset="0.4739" stop-color="#2a60b2"/><stop offset="0.4816" stop-color="#2b73c0"/><stop offset="0.4877" stop-color="#2a90d4"/><stop offset="0.4908" stop-color="#2994d6"/><stop offset="0.4954" stop-color="#2a84cc"/><stop offset="0.5" stop-color="#2b6fbd"/><stop offset="0.5092" stop-color="#2a5db0"/><stop offset="0.5506" stop-color="#2755a9"/><stop offset="1" stop-color="#2654a8"/></linearGradient><linearGradient id="a111"><stop offset="0" stop-color="#2655a8"/><stop offset="0.4555" stop-color="#2858ab"/><stop offset="0.4724" stop-color="#2a60b2"/><stop offset="0.4801" stop-color="#2b72bf"/><stop offset="0.4877" stop-color="#2999d8"/><stop offset="0.4908" stop-color="#289dda"/><stop offset="0.4954" stop-color="#2a8cd1"/><stop offset="0.5" stop-color="#2b73bf"/><stop offset="0.5092" stop-color="#2a5eb1"/><stop offset="0.5414" stop-color="#2756aa"/><stop offset="1" stop-color="#2654a8"/></linearGradient><linearGradient id="a112"><stop offset="0" stop-color="#2655a8"/><stop offset="0.454" stop-color="#2858ab"/><stop offset="0.4709" stop-color="#2a5fb1"/><stop offset="0.4785" stop-color="#2b70bd"/><stop offset="0.4862" stop-color="#299ad9"/><stop offset="0.4893" stop-color="#28a5de"/><stop offset="0.4923" stop-color="#28a2dd"/><stop offset="0.4985" stop-color="#2b81c9"/><stop offset="0.5031" stop-color="#2b6dbb"/><stop offset="0.5123" stop-color="#2a5caf"/><stop offset="0.5598" stop-color="#2655a9"/><stop offset="1" stop-color="#2654a8"/></linearGradient><linearGradient id="a113"><stop offset="0" stop-color="#2655a8"/><stop offset="0.4525" stop-color="#2858ab"/><stop offset="0.4693" stop-color="#2a5eb1"/><stop offset="0.477" stop-color="#2b6ebc"/><stop offset="0.4801" stop-color="#2b7cc5"/><stop offset="0.4862" stop-color="#28a2dd"/><stop offset="0.4877" stop-color="#27a9e1"/><stop offset="0.4908" stop-color="#2bacdd"/><stop offset="0.4923" stop-color="#28aae0"/><stop offset="0.4985" stop-color="#2a87cd"/><stop offset="0.5031" stop-color="#2b6fbd"/><stop offset="0.5123" stop-color="#2a5db0"/><stop offset="0.5537" stop-color="#2756a9"/><stop offset="1" stop-color="#2654a8"/></linearGradient><linearGradient id="a114"><stop offset="0" stop-color="#2654a8"/><stop offset="0.4509" stop-color="#2858ab"/><stop offset="0.4693" stop-color="#2a60b2"/><stop offset="0.477" stop-color="#2b71be"/><stop offset="0.4816" stop-color="#2a8bd0"/><stop offset="0.4862" stop-color="#27aae1"/><stop offset="0.4893" stop-color="#34b0d4"/><stop offset="0.4923" stop-color="#30aed8"/><stop offset="0.4939" stop-color="#29abdf"/><stop offset="0.4985" stop-color="#2a8dd2"/><stop offset="0.5031" stop-color="#2b72bf"/><stop offset="0.5123" stop-color="#2a5eb1"/><stop offset="0.5445" stop-color="#2756aa"/><stop offset="1" stop-color="#2654a8"/></linearGradient><linearGradient id="a115"><stop offset="0" stop-color="#2654a8"/><stop offset="0.4463" stop-color="#2858ab"/><stop offset="0.4663" stop-color="#2a60b2"/><stop offset="0.4755" stop-color="#2b74c0"/><stop offset="0.4816" stop-color="#299cda"/><stop offset="0.4831" stop-color="#27a8e0"/><stop offset="0.4862" stop-color="#3eb5c9"/><stop offset="0.4893" stop-color="#45b6b5"/><stop offset="0.4908" stop-color="#45b6b5"/><stop offset="0.4923" stop-color="#43b6bb"/><stop offset="0.4939" stop-color="#40b5c6"/><stop offset="0.4969" stop-color="#28aae0"/><stop offset="0.5031" stop-color="#2b7ec7"/><stop offset="0.5077" stop-color="#2b6cba"/><stop offset="0.5169" stop-color="#2a5db0"/><stop offset="0.5675" stop-color="#2755a9"/><stop offset="1" stop-color="#2654a8"/></linearGradient><linearGradient id="a116"><stop offset="0" stop-color="#2654a8"/><stop offset="0.4417" stop-color="#2858ab"/><stop offset="0.4632" stop-color="#2a60b2"/><stop offset="0.4724" stop-color="#2b72bf"/><stop offset="0.477" stop-color="#2a8cd1"/><stop offset="0.4801" stop-color="#28a4de"/><stop offset="0.4816" stop-color="#2faed9"/><stop offset="0.4831" stop-color="#3eb5c9"/><stop offset="0.4877" stop-color="#50b88b"/><stop offset="0.4893" stop-color="#53b87e"/><stop offset="0.4908" stop-color="#53b87c"/><stop offset="0.4923" stop-color="#51b888"/><stop offset="0.4969" stop-color="#40b5c5"/><stop offset="0.4985" stop-color="#32afd6"/><stop offset="0.5" stop-color="#27a6df"/><stop offset="0.5061" stop-color="#2b7bc5"/><stop offset="0.5107" stop-color="#2b6bba"/><stop offset="0.5215" stop-color="#2a5caf"/><stop offset="0.5828" stop-color="#2655a9"/><stop offset="1" stop-color="#2654a8"/></linearGradient><linearGradient id="a117"><stop offset="0" stop-color="#2654a8"/><stop offset="0.4387" stop-color="#2858ab"/><stop offset="0.4601" stop-color="#2a60b2"/><stop offset="0.4693" stop-color="#2b70bd"/><stop offset="0.4739" stop-color="#2a85cc"/><stop offset="0.4785" stop-color="#27a7df"/><stop offset="0.4801" stop-color="#33afd5"/><stop offset="0.4816" stop-color="#41b5c2"/><stop offset="0.4831" stop-color="#49b7aa"/><stop offset="0.4862" stop-color="#55b86d"/><stop offset="0.4877" stop-color="#57b95e"/><stop offset="0.4893" stop-color="#58b956"/><stop offset="0.4908" stop-color="#59b956"/><stop offset="0.4923" stop-color="#57b95c"/><stop offset="0.4939" stop-color="#56b86a"/><stop offset="0.4969" stop-color="#4bb7a5"/><stop offset="0.5" stop-color="#36b1d1"/><stop offset="0.5015" stop-color="#27aae1"/><stop offset="0.5077" stop-color="#2b7ec7"/><stop offset="0.5123" stop-color="#2b6dbb"/><stop offset="0.523" stop-color="#2a5db0"/><stop offset="0.5798" stop-color="#2756a9"/><stop offset="1" stop-color="#2654a8"/></linearGradient><linearGradient id="a118"><stop offset="0" stop-color="#2654a8"/><stop offset="0.4356" stop-color="#2858ab"/><stop offset="0.4586" stop-color="#2a60b2"/><stop offset="0.4693" stop-color="#2b74c0"/><stop offset="0.4755" stop-color="#2998d8"/><stop offset="0.477" stop-color="#28a4de"/><stop offset="0.4785" stop-color="#30aed8"/><stop offset="0.4801" stop-color="#40b5c6"/><stop offset="0.4816" stop-color="#48b7ae"/><stop offset="0.4847" stop-color="#56b86b"/><stop offset="0.4862" stop-color="#58b957"/><stop offset="0.4893" stop-color="#5eba4c"/><stop offset="0.4923" stop-color="#5dba4f"/><stop offset="0.4939" stop-color="#59b955"/><stop offset="0.4954" stop-color="#56b867"/><stop offset="0.4985" stop-color="#49b7a9"/><stop offset="0.5" stop-color="#41b5c2"/><stop offset="0.5015" stop-color="#33afd5"/><stop offset="0.5031" stop-color="#27a7df"/><stop offset="0.5092" stop-color="#2b7dc6"/><stop offset="0.5138" stop-color="#2b6dbb"/><stop offset="0.5261" stop-color="#2a5cb0"/><stop offset="0.592" stop-color="#2755a9"/><stop offset="1" stop-color="#2654a8"/></linearGradient><linearGradient id="a119"><stop offset="0" stop-color="#2654a8"/><stop offset="0.434" stop-color="#2858ac"/><stop offset="0.4571" stop-color="#2a60b2"/><stop offset="0.4678" stop-color="#2b74c0"/><stop offset="0.4739" stop-color="#2995d6"/><stop offset="0.4755" stop-color="#28a1dc"/><stop offset="0.477" stop-color="#2cacdc"/><stop offset="0.4785" stop-color="#3cb3cc"/><stop offset="0.4801" stop-color="#45b6b5"/><stop offset="0.4816" stop-color="#4eb898"/><stop offset="0.4831" stop-color="#55b86f"/><stop offset="0.4847" stop-color="#58b957"/><stop offset="0.4877" stop-color="#62bb46"/><stop offset="0.4908" stop-color="#66bc45"/><stop offset="0.4923" stop-color="#63bb46"/><stop offset="0.4954" stop-color="#59b955"/><stop offset="0.4969" stop-color="#56b86a"/><stop offset="0.4985" stop-color="#4fb890"/><stop offset="0.5" stop-color="#47b7b0"/><stop offset="0.5015" stop-color="#3fb5c8"/><stop offset="0.5031" stop-color="#2fadd9"/><stop offset="0.5046" stop-color="#28a3de"/><stop offset="0.5107" stop-color="#2b7cc5"/><stop offset="0.5169" stop-color="#2b6ab9"/><stop offset="0.5291" stop-color="#2a5caf"/><stop offset="0.6043" stop-color="#2655a9"/><stop offset="1" stop-color="#2654a8"/></linearGradient><linearGradient id="a120"><stop offset="0" stop-color="#2654a8"/><stop offset="0.431" stop-color="#2858ac"/><stop offset="0.4555" stop-color="#2a61b3"/><stop offset="0.4663" stop-color="#2b73bf"/><stop offset="0.4709" stop-color="#2a89cf"/><stop offset="0.4755" stop-color="#27aae1"/><stop offset="0.4785" stop-color="#43b6bd"/><stop offset="0.4801" stop-color="#4bb8a3"/><stop offset="0.4816" stop-color="#53b87b"/><stop offset="0.4831" stop-color="#57b95c"/><stop offset="0.4847" stop-color="#5dba4e"/><stop offset="0.4862" stop-color="#63bb46"/><stop offset="0.4893" stop-color="#6ebe44"/><stop offset="0.4923" stop-color="#6bbd44"/><stop offset="0.4939" stop-color="#65bc46"/><stop offset="0.4969" stop-color="#58b957"/><stop offset="0.4985" stop-color="#55b872"/><stop offset="0.5" stop-color="#4db89e"/><stop offset="0.5015" stop-color="#44b6b8"/><stop offset="0.5031" stop-color="#39b2ce"/><stop offset="0.5046" stop-color="#2aabde"/><stop offset="0.5092" stop-color="#2a8bd0"/><stop offset="0.5138" stop-color="#2b74c0"/><stop offset="0.5245" stop-color="#2a61b3"/><stop offset="0.5475" stop-color="#2858ac"/><stop offset="0.9248" stop-color="#2654a8"/><stop offset="1" stop-color="#2654a8"/></linearGradient><linearGradient id="a121"><stop offset="0" stop-color="#2654a8"/><stop offset="0.4279" stop-color="#2858ac"/><stop offset="0.4525" stop-color="#2a5fb2"/><stop offset="0.4647" stop-color="#2b73bf"/><stop offset="0.4693" stop-color="#2a87cd"/><stop offset="0.4739" stop-color="#27a6df"/><stop offset="0.4755" stop-color="#31afd7"/><stop offset="0.477" stop-color="#40b5c5"/><stop offset="0.4785" stop-color="#48b7ac"/><stop offset="0.4816" stop-color="#56b864"/><stop offset="0.4831" stop-color="#5cba51"/><stop offset="0.4847" stop-color="#63bb46"/><stop offset="0.4893" stop-color="#79c142"/><stop offset="0.4908" stop-color="#79c142"/><stop offset="0.4954" stop-color="#65bc46"/><stop offset="0.4969" stop-color="#5dba4f"/><stop offset="0.4985" stop-color="#57b95f"/><stop offset="0.5" stop-color="#52b880"/><stop offset="0.5015" stop-color="#4ab7a7"/><stop offset="0.5031" stop-color="#42b6c0"/><stop offset="0.5046" stop-color="#34b0d3"/><stop offset="0.5061" stop-color="#27a9e0"/><stop offset="0.5123" stop-color="#2b80c9"/><stop offset="0.5169" stop-color="#2b70bd"/><stop offset="0.5307" stop-color="#2a5db0"/><stop offset="0.5982" stop-color="#2756a9"/><stop offset="1" stop-color="#2654a8"/></linearGradient><linearGradient id="a122"><stop offset="0" stop-color="#2654a8"/><stop offset="0.4264" stop-color="#2858ac"/><stop offset="0.4509" stop-color="#2a60b2"/><stop offset="0.4632" stop-color="#2b72bf"/><stop offset="0.4693" stop-color="#2a8ed3"/><stop offset="0.4724" stop-color="#28a3dd"/><stop offset="0.4739" stop-color="#2daddb"/><stop offset="0.4755" stop-color="#3cb4cb"/><stop offset="0.477" stop-color="#45b6b5"/><stop offset="0.4785" stop-color="#4eb897"/><stop offset="0.4801" stop-color="#55b86d"/><stop offset="0.4816" stop-color="#5ab954"/><stop offset="0.4831" stop-color="#61bb48"/><stop offset="0.4877" stop-color="#80c341"/><stop offset="0.4893" stop-color="#87c540"/><stop offset="0.4908" stop-color="#89c640"/><stop offset="0.4954" stop-color="#6dbe44"/><stop offset="0.4969" stop-color="#63bb46"/><stop offset="0.4985" stop-color="#5bba52"/><stop offset="0.5" stop-color="#56b867"/><stop offset="0.5015" stop-color="#50b88f"/><stop offset="0.5031" stop-color="#47b7af"/><stop offset="0.5046" stop-color="#3fb5c7"/><stop offset="0.5061" stop-color="#30aed8"/><stop offset="0.5077" stop-color="#28a5df"/><stop offset="0.5138" stop-color="#2b7fc8"/><stop offset="0.5184" stop-color="#2b70bd"/><stop offset="0.5322" stop-color="#2a5db0"/><stop offset="0.5951" stop-color="#2756a9"/><stop offset="1" stop-color="#2654a8"/></linearGradient><linearGradient id="a123"><stop offset="0" stop-color="#2654a8"/><stop offset="0.4233" stop-color="#2858ac"/><stop offset="0.4494" stop-color="#2a60b2"/><stop offset="0.4617" stop-color="#2b72bf"/><stop offset="0.4678" stop-color="#2a8cd1"/><stop offset="0.4724" stop-color="#28abe0"/><stop offset="0.4755" stop-color="#43b6bd"/><stop offset="0.477" stop-color="#4bb8a4"/><stop offset="0.4785" stop-color="#53b87c"/><stop offset="0.4801" stop-color="#57b95b"/><stop offset="0.4816" stop-color="#5eba4c"/><stop offset="0.4831" stop-color="#68bc45"/><stop offset="0.4862" stop-color="#82c441"/><stop offset="0.4877" stop-color="#99cb3f"/><stop offset="0.4893" stop-color="#bad53e"/><stop offset="0.4908" stop-color="#c1d73d"/><stop offset="0.4923" stop-color="#9ecd3f"/><stop offset="0.4939" stop-color="#84c440"/><stop offset="0.4985" stop-color="#60bb4a"/><stop offset="0.5" stop-color="#58b956"/><stop offset="0.5015" stop-color="#55b873"/><stop offset="0.5031" stop-color="#4db89f"/><stop offset="0.5046" stop-color="#44b6b9"/><stop offset="0.5061" stop-color="#3ab3ce"/><stop offset="0.5077" stop-color="#2bacdd"/><stop offset="0.5092" stop-color="#28a2dd"/><stop offset="0.5153" stop-color="#2b7ec7"/><stop offset="0.5199" stop-color="#2b6fbd"/><stop offset="0.5337" stop-color="#2a5eb1"/><stop offset="0.5951" stop-color="#2756aa"/><stop offset="1" stop-color="#2654a8"/></linearGradient><linearGradient id="a124"><stop offset="0" stop-color="#2654a8"/><stop offset="0.4218" stop-color="#2858ac"/><stop offset="0.4479" stop-color="#2a60b2"/><stop offset="0.4601" stop-color="#2b72be"/><stop offset="0.4663" stop-color="#2a8acf"/><stop offset="0.4709" stop-color="#27a7df"/><stop offset="0.4724" stop-color="#31afd7"/><stop offset="0.4739" stop-color="#40b5c6"/><stop offset="0.4755" stop-color="#47b7af"/><stop offset="0.477" stop-color="#50b88f"/><stop offset="0.4785" stop-color="#56b868"/><stop offset="0.4801" stop-color="#5bba52"/><stop offset="0.4816" stop-color="#63bb46"/><stop offset="0.4847" stop-color="#7fc341"/><stop offset="0.4862" stop-color="#9bcc3f"/><stop offset="0.4877" stop-color="#ede03a"/><stop offset="0.4893" stop-color="#fad732"/><stop offset="0.4908" stop-color="#fad632"/><stop offset="0.4923" stop-color="#f6e039"/><stop offset="0.4939" stop-color="#a2ce3f"/><stop offset="0.4954" stop-color="#82c441"/><stop offset="0.4985" stop-color="#66bc45"/><stop offset="0.5" stop-color="#5dba4f"/><stop offset="0.5015" stop-color="#57b962"/><stop offset="0.5046" stop-color="#49b7aa"/><stop offset="0.5061" stop-color="#41b5c2"/><stop offset="0.5092" stop-color="#27a9e1"/><stop offset="0.5153" stop-color="#2a84cb"/><stop offset="0.5199" stop-color="#2b72bf"/><stop offset="0.5337" stop-color="#2a5fb2"/><stop offset="0.5782" stop-color="#2757aa"/><stop offset="1" stop-color="#2654a8"/></linearGradient><linearGradient id="b0"><stop offset="0" stop-color="#808285"/><stop offset="0.4601" stop-color="#828487"/><stop offset="0.4709" stop-color="#848c8e"/><stop offset="0.4816" stop-color="#76a3a4"/><stop offset="0.4847" stop-color="#71afb0"/><stop offset="0.4877" stop-color="#6cc1c1"/><stop offset="0.4939" stop-color="#6ec8c8"/><stop offset="0.5" stop-color="#6dbcbc"/><stop offset="0.5031" stop-color="#73a9aa"/><stop offset="0.5138" stop-color="#838f91"/><stop offset="0.5215" stop-color="#848789"/><stop offset="0.5429" stop-color="#808285"/><stop offset="1" stop-color="#808285"/></linearGradient><linearGradient id="b1"><stop offset="0" stop-color="#808285"/><stop offset="0.4571" stop-color="#828487"/><stop offset="0.4678" stop-color="#858b8d"/><stop offset="0.4785" stop-color="#789fa1"/><stop offset="0.4831" stop-color="#70b0b1"/><stop offset="0.4847" stop-color="#6dbcbc"/><stop offset="0.4893" stop-color="#6ec9c9"/><stop offset="0.4939" stop-color="#69c9c8"/><stop offset="0.4969" stop-color="#6fcaca"/><stop offset="0.5015" stop-color="#6cbebe"/><stop offset="0.5046" stop-color="#73a9aa"/><stop offset="0.5153" stop-color="#829092"/><stop offset="0.5215" stop-color="#85898b"/><stop offset="0.5429" stop-color="#808285"/><stop offset="1" stop-color="#808285"/></linearGradient><linearGradient id="b2"><stop offset="0" stop-color="#808285"/><stop offset="0.454" stop-color="#828487"/><stop offset="0.4663" stop-color="#858c8e"/><stop offset="0.477" stop-color="#789fa1"/><stop offset="0.4816" stop-color="#70b0b1"/><stop offset="0.4831" stop-color="#6dbcbc"/><stop offset="0.4877" stop-color="#6fcaca"/><stop offset="0.4923" stop-color="#5cc3c0"/><stop offset="0.4954" stop-color="#5fc4c2"/><stop offset="0.4985" stop-color="#6ecbcb"/><stop offset="0.5031" stop-color="#6cbfbf"/><stop offset="0.5061" stop-color="#73a9aa"/><stop offset="0.5169" stop-color="#829092"/><stop offset="0.5245" stop-color="#85888b"/><stop offset="0.5491" stop-color="#808285"/><stop offset="1" stop-color="#808285"/></linearGradient><linearGradient id="b3"><stop offset="0" stop-color="#808285"/><stop offset="0.4509" stop-color="#828487"/><stop offset="0.4647" stop-color="#848d8f"/><stop offset="0.477" stop-color="#76a3a5"/><stop offset="0.4801" stop-color="#71afb0"/><stop offset="0.4831" stop-color="#6dc2c2"/><stop offset="0.4862" stop-color="#6fcbcb"/><stop offset="0.4908" stop-color="#53bfbb"/><stop offset="0.4939" stop-color="#4ebdb8"/><stop offset="0.4969" stop-color="#59c2bf"/><stop offset="0.5" stop-color="#6ecaca"/><stop offset="0.5046" stop-color="#6cbebe"/><stop offset="0.5077" stop-color="#73a9aa"/><stop offset="0.5184" stop-color="#819193"/><stop offset="0.5261" stop-color="#85898b"/><stop offset="0.5506" stop-color="#808285"/><stop offset="1" stop-color="#808285"/></linearGradient><linearGradient id="b4"><stop offset="0" stop-color="#808285"/><stop offset="0.4494" stop-color="#828487"/><stop offset="0.4632" stop-color="#848d8f"/><stop offset="0.4755" stop-color="#76a3a4"/><stop offset="0.4785" stop-color="#71adae"/><stop offset="0.4816" stop-color="#6cc1c1"/><stop offset="0.4847" stop-color="#6fcaca"/><stop offset="0.4908" stop-color="#45bab3"/><stop offset="0.4923" stop-color="#3fb7af"/><stop offset="0.4939" stop-color="#3eb7ae"/><stop offset="0.4969" stop-color="#4dbdb8"/><stop offset="0.5015" stop-color="#6fcbcb"/><stop offset="0.5061" stop-color="#6dbbbb"/><stop offset="0.5092" stop-color="#74a8a9"/><stop offset="0.5215" stop-color="#838f91"/><stop offset="0.5307" stop-color="#84878a"/><stop offset="0.5583" stop-color="#808285"/><stop offset="1" stop-color="#808285"/></linearGradient><linearGradient id="b5"><stop offset="0" stop-color="#808285"/><stop offset="0.4463" stop-color="#828487"/><stop offset="0.4617" stop-color="#848d8f"/><stop offset="0.4739" stop-color="#77a1a3"/><stop offset="0.477" stop-color="#72aaab"/><stop offset="0.4801" stop-color="#6cbfbf"/><stop offset="0.4831" stop-color="#6ec8c8"/><stop offset="0.4847" stop-color="#6bc9c9"/><stop offset="0.4908" stop-color="#38b3aa"/><stop offset="0.4923" stop-color="#34ada5"/><stop offset="0.4939" stop-color="#33aca4"/><stop offset="0.4954" stop-color="#37b1a9"/><stop offset="0.5015" stop-color="#68c8c7"/><stop offset="0.5031" stop-color="#6ec9c9"/><stop offset="0.5061" stop-color="#6cc0c0"/><stop offset="0.5092" stop-color="#72acad"/><stop offset="0.5184" stop-color="#7e9698"/><stop offset="0.5291" stop-color="#85898b"/><stop offset="0.5567" stop-color="#808285"/><stop offset="1" stop-color="#808285"/></linearGradient><linearGradient id="b6"><stop offset="0" stop-color="#808285"/><stop offset="0.4448" stop-color="#828487"/><stop offset="0.4601" stop-color="#848d8f"/><stop offset="0.4724" stop-color="#78a0a2"/><stop offset="0.477" stop-color="#71afb0"/><stop offset="0.4801" stop-color="#6dc1c1"/><stop offset="0.4831" stop-color="#6fcaca"/><stop offset="0.4877" stop-color="#49bbb5"/><stop offset="0.4893" stop-color="#39b4ab"/><stop offset="0.4923" stop-color="#2ba29b"/><stop offset="0.4939" stop-color="#2ba29b"/><stop offset="0.4969" stop-color="#37b2a9"/><stop offset="0.5031" stop-color="#6ecbcb"/><stop offset="0.5077" stop-color="#6dbcbc"/><stop offset="0.5107" stop-color="#73a9aa"/><stop offset="0.523" stop-color="#829092"/><stop offset="0.5322" stop-color="#85888b"/><stop offset="0.5613" stop-color="#808285"/><stop offset="1" stop-color="#808285"/></linearGradient><linearGradient id="b7"><stop offset="0" stop-color="#808285"/><stop offset="0.4433" stop-color="#828487"/><stop offset="0.4586" stop-color="#848c8e"/><stop offset="0.4724" stop-color="#77a2a3"/><stop offset="0.4755" stop-color="#72abac"/><stop offset="0.4785" stop-color="#6cbfbf"/><stop offset="0.4831" stop-color="#6bcac9"/><stop offset="0.4877" stop-color="#3fb7af"/><stop offset="0.4908" stop-color="#299f98"/><stop offset="0.4923" stop-color="#249892"/><stop offset="0.4939" stop-color="#239892"/><stop offset="0.4954" stop-color="#289e97"/><stop offset="0.4985" stop-color="#3cb6ad"/><stop offset="0.5015" stop-color="#5cc3c0"/><stop offset="0.5031" stop-color="#69c9c8"/><stop offset="0.5046" stop-color="#6ec8c8"/><stop offset="0.5077" stop-color="#6cc0c0"/><stop offset="0.5107" stop-color="#72acad"/><stop offset="0.5199" stop-color="#7d9698"/><stop offset="0.5322" stop-color="#85898b"/><stop offset="0.5613" stop-color="#808285"/><stop offset="1" stop-color="#808285"/></linearGradient><linearGradient id="b8"><stop offset="0" stop-color="#808285"/><stop offset="0.4417" stop-color="#828487"/><stop offset="0.4571" stop-color="#858c8e"/><stop offset="0.4709" stop-color="#78a0a2"/><stop offset="0.4755" stop-color="#71afaf"/><stop offset="0.4785" stop-color="#6cc1c1"/><stop offset="0.4816" stop-color="#6fcaca"/><stop offset="0.4831" stop-color="#66c7c6"/><stop offset="0.4862" stop-color="#49bbb5"/><stop offset="0.4877" stop-color="#37b2a9"/><stop offset="0.4908" stop-color="#229690"/><stop offset="0.4923" stop-color="#208f8b"/><stop offset="0.4939" stop-color="#208e8a"/><stop offset="0.4954" stop-color="#21948e"/><stop offset="0.4985" stop-color="#35afa6"/><stop offset="0.5015" stop-color="#56c1bd"/><stop offset="0.5046" stop-color="#6fcbcb"/><stop offset="0.5092" stop-color="#6dbbbb"/><stop offset="0.5123" stop-color="#73a9aa"/><stop offset="0.5245" stop-color="#819193"/><stop offset="0.5353" stop-color="#85888a"/><stop offset="0.566" stop-color="#808285"/><stop offset="1" stop-color="#808285"/></linearGradient><linearGradient id="b9"><stop offset="0" stop-color="#808285"/><stop offset="0.4402" stop-color="#828487"/><stop offset="0.4571" stop-color="#848d8f"/><stop offset="0.4709" stop-color="#77a2a4"/><stop offset="0.4739" stop-color="#72aaab"/><stop offset="0.477" stop-color="#6cbebe"/><stop offset="0.4816" stop-color="#6dcaca"/><stop offset="0.4847" stop-color="#52bfbb"/><stop offset="0.4862" stop-color="#40b8b0"/><stop offset="0.4893" stop-color="#249993"/><stop offset="0.4908" stop-color="#208c89"/><stop offset="0.4923" stop-color="#208584"/><stop offset="0.4939" stop-color="#1f8583"/><stop offset="0.4954" stop-color="#208b88"/><stop offset="0.4969" stop-color="#229690"/><stop offset="0.5" stop-color="#3cb6ad"/><stop offset="0.5031" stop-color="#5ec4c1"/><stop offset="0.5046" stop-color="#6bc9c9"/><stop offset="0.5077" stop-color="#6dc3c3"/><stop offset="0.5092" stop-color="#6cbfbf"/><stop offset="0.5123" stop-color="#72acad"/><stop offset="0.523" stop-color="#7f9597"/><stop offset="0.5353" stop-color="#85898b"/><stop offset="0.566" stop-color="#808285"/><stop offset="1" stop-color="#808285"/></linearGradient><linearGradient id="b10"><stop offset="0" stop-color="#808285"/><stop offset="0.4387" stop-color="#828487"/><stop offset="0.4555" stop-color="#848d8f"/><stop offset="0.4693" stop-color="#78a0a2"/><stop offset="0.4739" stop-color="#71aeaf"/><stop offset="0.477" stop-color="#6cc0c0"/><stop offset="0.4801" stop-color="#6ec9c9"/><stop offset="0.4816" stop-color="#68c8c7"/><stop offset="0.4847" stop-color="#4bbcb7"/><stop offset="0.4862" stop-color="#38b2aa"/><stop offset="0.4893" stop-color="#20908b"/><stop offset="0.4908" stop-color="#1f8382"/><stop offset="0.4923" stop-color="#2a8080"/><stop offset="0.4939" stop-color="#2b8080"/><stop offset="0.4954" stop-color="#1f8180"/><stop offset="0.4969" stop-color="#208d89"/><stop offset="0.4985" stop-color="#279d96"/><stop offset="0.5" stop-color="#35afa6"/><stop offset="0.5031" stop-color="#58c2be"/><stop offset="0.5061" stop-color="#6fcaca"/><stop offset="0.5107" stop-color="#6dbabb"/><stop offset="0.5138" stop-color="#73a9aa"/><stop offset="0.5261" stop-color="#819294"/><stop offset="0.5368" stop-color="#85898b"/><stop offset="0.569" stop-color="#808285"/><stop offset="1" stop-color="#808285"/></linearGradient><linearGradient id="b11"><stop offset="0" stop-color="#808285"/><stop offset="0.4371" stop-color="#828487"/><stop offset="0.454" stop-color="#848c8e"/><stop offset="0.4678" stop-color="#789fa1"/><stop offset="0.4724" stop-color="#72aaab"/><stop offset="0.4755" stop-color="#6dbdbd"/><stop offset="0.4801" stop-color="#6fcbcb"/><stop offset="0.4831" stop-color="#55c0bc"/><stop offset="0.4847" stop-color="#43b9b2"/><stop offset="0.4877" stop-color="#239791"/><stop offset="0.4893" stop-color="#208684"/><stop offset="0.4908" stop-color="#308080"/><stop offset="0.4923" stop-color="#417f80"/><stop offset="0.4939" stop-color="#437f80"/><stop offset="0.4954" stop-color="#348080"/><stop offset="0.4969" stop-color="#1f8382"/><stop offset="0.4985" stop-color="#21938e"/><stop offset="0.5015" stop-color="#3fb7af"/><stop offset="0.5046" stop-color="#60c5c3"/><stop offset="0.5061" stop-color="#6dcaca"/><stop offset="0.5107" stop-color="#6cbfbf"/><stop offset="0.5138" stop-color="#72acad"/><stop offset="0.5245" stop-color="#7e9597"/><stop offset="0.5383" stop-color="#85898b"/><stop offset="0.5721" stop-color="#808285"/><stop offset="1" stop-color="#808285"/></linearGradient><linearGradient id="b12"><stop offset="0" stop-color="#808285"/><stop offset="0.4356" stop-color="#828487"/><stop offset="0.4525" stop-color="#848c8e"/><stop offset="0.4678" stop-color="#77a1a2"/><stop offset="0.4724" stop-color="#71aeaf"/><stop offset="0.4755" stop-color="#6cc0c0"/><stop offset="0.4785" stop-color="#6ec8c8"/><stop offset="0.4801" stop-color="#6ac9c8"/><stop offset="0.4831" stop-color="#4ebeb9"/><stop offset="0.4847" stop-color="#3ab5ac"/><stop offset="0.4877" stop-color="#208e8a"/><stop offset="0.4893" stop-color="#288080"/><stop offset="0.4908" stop-color="#477f80"/><stop offset="0.4923" stop-color="#627d80"/><stop offset="0.4939" stop-color="#657d80"/><stop offset="0.4969" stop-color="#2f8080"/><stop offset="0.4985" stop-color="#208a87"/><stop offset="0.5" stop-color="#289d97"/><stop offset="0.5015" stop-color="#37b1a9"/><stop offset="0.5046" stop-color="#5bc3c0"/><stop offset="0.5061" stop-color="#68c8c7"/><stop offset="0.5077" stop-color="#6ec9c9"/><stop offset="0.5123" stop-color="#6ebaba"/><stop offset="0.5153" stop-color="#73a9aa"/><stop offset="0.5291" stop-color="#819193"/><stop offset="0.5399" stop-color="#85898b"/><stop offset="0.5736" stop-color="#808285"/><stop offset="1" stop-color="#808285"/></linearGradient><linearGradient id="b13"><stop offset="0" stop-color="#808285"/><stop offset="0.434" stop-color="#828487"/><stop offset="0.4509" stop-color="#858c8e"/><stop offset="0.4663" stop-color="#78a0a1"/><stop offset="0.4709" stop-color="#72aaab"/><stop offset="0.4739" stop-color="#6dbcbd"/><stop offset="0.4785" stop-color="#6fcaca"/><stop offset="0.4816" stop-color="#58c1be"/><stop offset="0.4831" stop-color="#47bab4"/><stop offset="0.4847" stop-color="#34ada5"/><stop offset="0.4862" stop-color="#249892"/><stop offset="0.4877" stop-color="#1f8483"/><stop offset="0.4893" stop-color="#3f7f80"/><stop offset="0.4908" stop-color="#6c7d80"/><stop offset="0.4923" stop-color="#8d7a7f"/><stop offset="0.4939" stop-color="#907a7f"/><stop offset="0.4954" stop-color="#757c7f"/><stop offset="0.4969" stop-color="#467f80"/><stop offset="0.4985" stop-color="#1f8180"/><stop offset="0.5" stop-color="#21948e"/><stop offset="0.5015" stop-color="#31a9a1"/><stop offset="0.5031" stop-color="#43b9b1"/><stop offset="0.5061" stop-color="#63c6c4"/><stop offset="0.5077" stop-color="#6fcbcb"/><stop offset="0.5123" stop-color="#6cbfbf"/><stop offset="0.5153" stop-color="#72acad"/><stop offset="0.5261" stop-color="#7e9698"/><stop offset="0.5414" stop-color="#85888b"/><stop offset="0.5767" stop-color="#808285"/><stop offset="1" stop-color="#808285"/></linearGradient><linearGradient id="b14"><stop offset="0" stop-color="#808285"/><stop offset="0.4325" stop-color="#828487"/><stop offset="0.4494" stop-color="#858c8e"/><stop offset="0.4647" stop-color="#799fa0"/><stop offset="0.4709" stop-color="#71aeaf"/><stop offset="0.4739" stop-color="#6cc0c0"/><stop offset="0.4785" stop-color="#6ccac9"/><stop offset="0.4816" stop-color="#51bfba"/><stop offset="0.4831" stop-color="#3eb7af"/><stop offset="0.4862" stop-color="#208f8b"/><stop offset="0.4877" stop-color="#2c8080"/><stop offset="0.4893" stop-color="#5e7e80"/><stop offset="0.4908" stop-color="#99797f"/><stop offset="0.4923" stop-color="#b6787f"/><stop offset="0.4939" stop-color="#b9787e"/><stop offset="0.4954" stop-color="#a1797f"/><stop offset="0.4985" stop-color="#358080"/><stop offset="0.5" stop-color="#208b88"/><stop offset="0.5015" stop-color="#2aa099"/><stop offset="0.5031" stop-color="#3ab5ac"/><stop offset="0.5046" stop-color="#4ebeb9"/><stop offset="0.5077" stop-color="#6ac9c8"/><stop offset="0.5092" stop-color="#6ec8c8"/><stop offset="0.5138" stop-color="#6eb9ba"/><stop offset="0.5169" stop-color="#73a9aa"/><stop offset="0.5307" stop-color="#819294"/><stop offset="0.5429" stop-color="#85888b"/><stop offset="0.5798" stop-color="#808285"/><stop offset="1" stop-color="#808285"/></linearGradient><linearGradient id="b15"><stop offset="0" stop-color="#808285"/><stop offset="0.4294" stop-color="#828487"/><stop offset="0.4479" stop-color="#858c8e"/><stop offset="0.4647" stop-color="#78a0a2"/><stop offset="0.4693" stop-color="#72abac"/><stop offset="0.4724" stop-color="#6dbdbd"/><stop offset="0.477" stop-color="#6fcaca"/><stop offset="0.4785" stop-color="#67c8c6"/><stop offset="0.4816" stop-color="#49bbb6"/><stop offset="0.4831" stop-color="#36afa7"/><stop offset="0.4847" stop-color="#259a94"/><stop offset="0.4862" stop-color="#1f8483"/><stop offset="0.4877" stop-color="#477f80"/><stop offset="0.4893" stop-color="#907a7f"/><stop offset="0.4908" stop-color="#c7787e"/><stop offset="0.4923" stop-color="#de747b"/><stop offset="0.4939" stop-color="#e0737a"/><stop offset="0.4954" stop-color="#cf777e"/><stop offset="0.4969" stop-color="#9d797f"/><stop offset="0.4985" stop-color="#537f80"/><stop offset="0.5" stop-color="#208080"/><stop offset="0.5015" stop-color="#21958f"/><stop offset="0.5031" stop-color="#32aba3"/><stop offset="0.5046" stop-color="#45bab3"/><stop offset="0.5077" stop-color="#64c7c5"/><stop offset="0.5092" stop-color="#6fcbcb"/><stop offset="0.5138" stop-color="#6cbfbf"/><stop offset="0.5169" stop-color="#71adae"/><stop offset="0.5276" stop-color="#7d9799"/><stop offset="0.5429" stop-color="#86898b"/><stop offset="0.5798" stop-color="#808285"/><stop offset="1" stop-color="#808285"/></linearGradient><linearGradient id="b16"><stop offset="0" stop-color="#808285"/><stop offset="0.4279" stop-color="#828487"/><stop offset="0.4463" stop-color="#858c8e"/><stop offset="0.4632" stop-color="#78a0a2"/><stop offset="0.4678" stop-color="#73aaab"/><stop offset="0.4724" stop-color="#6cc0c0"/><stop offset="0.477" stop-color="#6ccac9"/><stop offset="0.4801" stop-color="#51bfba"/><stop offset="0.4816" stop-color="#3eb7af"/><stop offset="0.4847" stop-color="#208e8a"/><stop offset="0.4862" stop-color="#338080"/><stop offset="0.4877" stop-color="#787c7f"/><stop offset="0.4893" stop-color="#c4787e"/><stop offset="0.4908" stop-color="#e86f76"/><stop offset="0.4923" stop-color="#ee656c"/><stop offset="0.4939" stop-color="#ee646b"/><stop offset="0.4954" stop-color="#eb6c73"/><stop offset="0.4969" stop-color="#d1777e"/><stop offset="0.5" stop-color="#3d7f80"/><stop offset="0.5015" stop-color="#208a87"/><stop offset="0.5031" stop-color="#2aa099"/><stop offset="0.5046" stop-color="#3ab5ac"/><stop offset="0.5061" stop-color="#4ebeb9"/><stop offset="0.5092" stop-color="#69c9c8"/><stop offset="0.5107" stop-color="#6ec9c9"/><stop offset="0.5153" stop-color="#6dbcbc"/><stop offset="0.5184" stop-color="#72abac"/><stop offset="0.5322" stop-color="#809395"/><stop offset="0.546" stop-color="#85898b"/><stop offset="0.5844" stop-color="#808285"/><stop offset="1" stop-color="#808285"/></linearGradient><linearGradient id="b17"><stop offset="0" stop-color="#808285"/><stop offset="0.4248" stop-color="#828487"/><stop offset="0.4448" stop-color="#848c8e"/><stop offset="0.4617" stop-color="#78a0a1"/><stop offset="0.4678" stop-color="#71afaf"/><stop offset="0.4709" stop-color="#6cbfbf"/><stop offset="0.4755" stop-color="#6fcbcb"/><stop offset="0.4785" stop-color="#58c2be"/><stop offset="0.4801" stop-color="#48bbb5"/><stop offset="0.4816" stop-color="#35aea6"/><stop offset="0.4831" stop-color="#249892"/><stop offset="0.4847" stop-color="#1f8181"/><stop offset="0.4862" stop-color="#567e80"/><stop offset="0.4877" stop-color="#b0787f"/><stop offset="0.4893" stop-color="#e76f76"/><stop offset="0.4908" stop-color="#ee5d64"/><stop offset="0.4923" stop-color="#ef5259"/><stop offset="0.4939" stop-color="#ef5158"/><stop offset="0.4954" stop-color="#ef5a61"/><stop offset="0.4969" stop-color="#ed6c73"/><stop offset="0.4985" stop-color="#c0787e"/><stop offset="0.5" stop-color="#687d80"/><stop offset="0.5015" stop-color="#268080"/><stop offset="0.5031" stop-color="#21948e"/><stop offset="0.5046" stop-color="#31aaa2"/><stop offset="0.5061" stop-color="#44b9b2"/><stop offset="0.5092" stop-color="#63c6c4"/><stop offset="0.5107" stop-color="#6ecbca"/><stop offset="0.5153" stop-color="#6cc0c0"/><stop offset="0.5199" stop-color="#73aaab"/><stop offset="0.5337" stop-color="#809395"/><stop offset="0.5491" stop-color="#85888b"/><stop offset="0.589" stop-color="#808285"/><stop offset="1" stop-color="#808285"/></linearGradient><linearGradient id="b18"><stop offset="0" stop-color="#808285"/><stop offset="0.4218" stop-color="#828487"/><stop offset="0.4433" stop-color="#848d8f"/><stop offset="0.4617" stop-color="#77a2a3"/><stop offset="0.4663" stop-color="#71adae"/><stop offset="0.4693" stop-color="#6cbebe"/><stop offset="0.4739" stop-color="#6ec9c9"/><stop offset="0.4755" stop-color="#6ac9c8"/><stop offset="0.4785" stop-color="#50beba"/><stop offset="0.4801" stop-color="#3cb6ad"/><stop offset="0.4831" stop-color="#208c89"/><stop offset="0.4847" stop-color="#3a7f80"/><stop offset="0.4877" stop-color="#df747b"/><stop offset="0.4893" stop-color="#ee5d64"/><stop offset="0.4908" stop-color="#ef4950"/><stop offset="0.4923" stop-color="#ef3f43"/><stop offset="0.4939" stop-color="#ef3e42"/><stop offset="0.4954" stop-color="#ef464d"/><stop offset="0.4969" stop-color="#ef5960"/><stop offset="0.4985" stop-color="#e67077"/><stop offset="0.5" stop-color="#a1797f"/><stop offset="0.5015" stop-color="#457f80"/><stop offset="0.5031" stop-color="#208885"/><stop offset="0.5046" stop-color="#289e98"/><stop offset="0.5061" stop-color="#39b3aa"/><stop offset="0.5077" stop-color="#4dbdb8"/><stop offset="0.5107" stop-color="#67c8c7"/><stop offset="0.5123" stop-color="#6fcaca"/><stop offset="0.5169" stop-color="#6cbfbf"/><stop offset="0.5215" stop-color="#73a9aa"/><stop offset="0.5368" stop-color="#819294"/><stop offset="0.5506" stop-color="#85898b"/><stop offset="0.592" stop-color="#808285"/><stop offset="1" stop-color="#808285"/></linearGradient><linearGradient id="b19"><stop offset="0" stop-color="#808285"/><stop offset="0.4187" stop-color="#828487"/><stop offset="0.4417" stop-color="#848d8f"/><stop offset="0.4601" stop-color="#77a2a3"/><stop offset="0.4647" stop-color="#72acad"/><stop offset="0.4693" stop-color="#6cc1c1"/><stop offset="0.4739" stop-color="#6dcaca"/><stop offset="0.477" stop-color="#55c0bd"/><stop offset="0.4785" stop-color="#45bab3"/><stop offset="0.4801" stop-color="#33aca4"/><stop offset="0.4816" stop-color="#229690"/><stop offset="0.4831" stop-color="#228080"/><stop offset="0.4847" stop-color="#667d80"/><stop offset="0.4862" stop-color="#c8787e"/><stop offset="0.4877" stop-color="#ee636a"/><stop offset="0.4893" stop-color="#ef484f"/><stop offset="0.4908" stop-color="#ee3538"/><stop offset="0.4923" stop-color="#ee2d2e"/><stop offset="0.4939" stop-color="#ee2d2e"/><stop offset="0.4954" stop-color="#ee3234"/><stop offset="0.4969" stop-color="#ef444a"/><stop offset="0.4985" stop-color="#ee5e65"/><stop offset="0.5" stop-color="#da777e"/><stop offset="0.5015" stop-color="#7a7b7f"/><stop offset="0.5031" stop-color="#2d8080"/><stop offset="0.5046" stop-color="#21918c"/><stop offset="0.5061" stop-color="#30a8a0"/><stop offset="0.5077" stop-color="#41b8b0"/><stop offset="0.5107" stop-color="#60c5c3"/><stop offset="0.5123" stop-color="#6bc9c9"/><stop offset="0.5153" stop-color="#6dc5c5"/><stop offset="0.5184" stop-color="#6dbdbd"/><stop offset="0.523" stop-color="#73a9aa"/><stop offset="0.5399" stop-color="#819193"/><stop offset="0.5552" stop-color="#84888a"/><stop offset="0.5997" stop-color="#808285"/><stop offset="1" stop-color="#808285"/></linearGradient><linearGradient id="b20"><stop offset="0" stop-color="#808285"/><stop offset="0.4156" stop-color="#828487"/><stop offset="0.4387" stop-color="#848d8f"/><stop offset="0.4586" stop-color="#77a2a3"/><stop offset="0.4632" stop-color="#72abac"/><stop offset="0.4678" stop-color="#6cc0c0"/><stop offset="0.4724" stop-color="#6fcaca"/><stop offset="0.4755" stop-color="#5ac3c0"/><stop offset="0.477" stop-color="#4cbdb8"/><stop offset="0.4785" stop-color="#39b4ab"/><stop offset="0.4801" stop-color="#29a099"/><stop offset="0.4816" stop-color="#208986"/><stop offset="0.4831" stop-color="#427f80"/><stop offset="0.4847" stop-color="#a1797f"/><stop offset="0.4862" stop-color="#ea6d74"/><stop offset="0.4877" stop-color="#ef4f56"/><stop offset="0.4893" stop-color="#ee3537"/><stop offset="0.4908" stop-color="#ee2d2e"/><stop offset="0.4954" stop-color="#ee2d2e"/><stop offset="0.4969" stop-color="#ee3032"/><stop offset="0.4985" stop-color="#ef4950"/><stop offset="0.5" stop-color="#ee686f"/><stop offset="0.5015" stop-color="#b4787f"/><stop offset="0.5031" stop-color="#4f7f80"/><stop offset="0.5046" stop-color="#1f8483"/><stop offset="0.5061" stop-color="#269b95"/><stop offset="0.5077" stop-color="#36b0a8"/><stop offset="0.5092" stop-color="#49bbb5"/><stop offset="0.5123" stop-color="#64c6c5"/><stop offset="0.5138" stop-color="#6ecbcb"/><stop offset="0.5199" stop-color="#6dbbbc"/><stop offset="0.5245" stop-color="#74a8a9"/><stop offset="0.5414" stop-color="#819193"/><stop offset="0.5567" stop-color="#85888a"/><stop offset="0.6028" stop-color="#808285"/><stop offset="1" stop-color="#808285"/></linearGradient><linearGradient id="b21"><stop offset="0" stop-color="#808285"/><stop offset="0.4141" stop-color="#828587"/><stop offset="0.4371" stop-color="#848d8f"/><stop offset="0.4571" stop-color="#77a2a3"/><stop offset="0.4632" stop-color="#70b0b1"/><stop offset="0.4663" stop-color="#6cbfbf"/><stop offset="0.4709" stop-color="#6ec9c9"/><stop offset="0.4724" stop-color="#6ac9c8"/><stop offset="0.4755" stop-color="#53bfbb"/><stop offset="0.477" stop-color="#42b8b1"/><stop offset="0.4785" stop-color="#31a9a1"/><stop offset="0.4801" stop-color="#21948e"/><stop offset="0.4816" stop-color="#278080"/><stop offset="0.4831" stop-color="#6f7c80"/><stop offset="0.4847" stop-color="#d5777e"/><stop offset="0.4862" stop-color="#ee5c63"/><stop offset="0.4877" stop-color="#ef3d41"/><stop offset="0.4893" stop-color="#ee2d2e"/><stop offset="0.4969" stop-color="#ee2d2e"/><stop offset="0.4985" stop-color="#ee373a"/><stop offset="0.5" stop-color="#ef555c"/><stop offset="0.5015" stop-color="#e0737a"/><stop offset="0.5031" stop-color="#847b7f"/><stop offset="0.5046" stop-color="#328080"/><stop offset="0.5061" stop-color="#208f8b"/><stop offset="0.5092" stop-color="#3eb7ae"/><stop offset="0.5123" stop-color="#5dc4c1"/><stop offset="0.5153" stop-color="#6fcaca"/><stop offset="0.5215" stop-color="#6eb9ba"/><stop offset="0.5261" stop-color="#74a8a9"/><stop offset="0.5445" stop-color="#829092"/><stop offset="0.5598" stop-color="#85888a"/><stop offset="0.6074" stop-color="#808285"/><stop offset="1" stop-color="#808285"/></linearGradient><linearGradient id="b22"><stop offset="0" stop-color="#808285"/><stop offset="0.411" stop-color="#828487"/><stop offset="0.434" stop-color="#848c8e"/><stop offset="0.4555" stop-color="#77a1a3"/><stop offset="0.4617" stop-color="#71aeaf"/><stop offset="0.4663" stop-color="#6dc1c1"/><stop offset="0.4709" stop-color="#6ecbcb"/><stop offset="0.4755" stop-color="#4bbcb7"/><stop offset="0.477" stop-color="#39b3ab"/><stop offset="0.4785" stop-color="#2aa099"/><stop offset="0.4801" stop-color="#208a87"/><stop offset="0.4816" stop-color="#407f80"/><stop offset="0.4831" stop-color="#9e797f"/><stop offset="0.4847" stop-color="#ea6d74"/><stop offset="0.4862" stop-color="#ef4c53"/><stop offset="0.4877" stop-color="#ee2d2e"/><stop offset="0.4985" stop-color="#ee2d2e"/><stop offset="0.5" stop-color="#ef454b"/><stop offset="0.5015" stop-color="#ee676e"/><stop offset="0.5031" stop-color="#b1787f"/><stop offset="0.5046" stop-color="#4c7f80"/><stop offset="0.5061" stop-color="#208584"/><stop offset="0.5077" stop-color="#269c95"/><stop offset="0.5092" stop-color="#36b0a7"/><stop offset="0.5123" stop-color="#57c1bd"/><stop offset="0.5153" stop-color="#6dcaca"/><stop offset="0.5215" stop-color="#6cbfbf"/><stop offset="0.5261" stop-color="#72aaab"/><stop offset="0.5429" stop-color="#809395"/><stop offset="0.5613" stop-color="#85888a"/><stop offset="0.6104" stop-color="#808285"/><stop offset="1" stop-color="#808285"/></linearGradient><linearGradient id="b23"><stop offset="0" stop-color="#808285"/><stop offset="0.408" stop-color="#828487"/><stop offset="0.4325" stop-color="#848c8e"/><stop offset="0.454" stop-color="#78a0a2"/><stop offset="0.4601" stop-color="#72acad"/><stop offset="0.4647" stop-color="#6cc0c0"/><stop offset="0.4693" stop-color="#6fc9c9"/><stop offset="0.4709" stop-color="#6ac9c8"/><stop offset="0.4739" stop-color="#54c0bc"/><stop offset="0.4755" stop-color="#44b9b2"/><stop offset="0.477" stop-color="#33aca4"/><stop offset="0.4785" stop-color="#239892"/><stop offset="0.4801" stop-color="#1f8181"/><stop offset="0.4816" stop-color="#5a7e80"/><stop offset="0.4831" stop-color="#c1787e"/><stop offset="0.4847" stop-color="#ee6269"/><stop offset="0.4862" stop-color="#ef3f44"/><stop offset="0.4877" stop-color="#ee2d2e"/><stop offset="0.4985" stop-color="#ee2d2e"/><stop offset="0.5" stop-color="#ee393c"/><stop offset="0.5015" stop-color="#ef5b62"/><stop offset="0.5031" stop-color="#d5777e"/><stop offset="0.5046" stop-color="#6f7c80"/><stop offset="0.5061" stop-color="#278080"/><stop offset="0.5077" stop-color="#21938e"/><stop offset="0.5092" stop-color="#30a8a1"/><stop offset="0.5107" stop-color="#40b8b0"/><stop offset="0.5138" stop-color="#5ec4c1"/><stop offset="0.5169" stop-color="#6fcaca"/><stop offset="0.523" stop-color="#6dbbbb"/><stop offset="0.5276" stop-color="#73a9aa"/><stop offset="0.546" stop-color="#819294"/><stop offset="0.5629" stop-color="#85888b"/><stop offset="0.6135" stop-color="#808285"/><stop offset="1" stop-color="#808285"/></linearGradient><linearGradient id="b24"><stop offset="0" stop-color="#808285"/><stop offset="0.4064" stop-color="#828487"/><stop offset="0.431" stop-color="#848c8e"/><stop offset="0.4525" stop-color="#78a0a1"/><stop offset="0.4601" stop-color="#71afb0"/><stop offset="0.4632" stop-color="#6cbebe"/><stop offset="0.4693" stop-color="#6fcbcb"/><stop offset="0.4739" stop-color="#4fbeb9"/><stop offset="0.4755" stop-color="#3db6ae"/><stop offset="0.4785" stop-color="#21908c"/><stop offset="0.4801" stop-color="#2e8080"/><stop offset="0.4816" stop-color="#7d7b7f"/><stop offset="0.4831" stop-color="#dd757c"/><stop offset="0.4847" stop-color="#ef555c"/><stop offset="0.4862" stop-color="#ee3336"/><stop offset="0.4877" stop-color="#ee2d2e"/><stop offset="0.5" stop-color="#ee2d2e"/><stop offset="0.5015" stop-color="#ef4e55"/><stop offset="0.5031" stop-color="#e67077"/><stop offset="0.5046" stop-color="#937a7f"/><stop offset="0.5061" stop-color="#3a7f80"/><stop offset="0.5077" stop-color="#208c88"/><stop offset="0.5107" stop-color="#39b4ab"/><stop offset="0.5138" stop-color="#59c2bf"/><stop offset="0.5169" stop-color="#6ecaca"/><stop offset="0.523" stop-color="#6cbfbf"/><stop offset="0.5276" stop-color="#72abac"/><stop offset="0.5445" stop-color="#7f9496"/><stop offset="0.5644" stop-color="#85888b"/><stop offset="0.615" stop-color="#808285"/><stop offset="1" stop-color="#808285"/></linearGradient><linearGradient id="b25"><stop offset="0" stop-color="#808285"/><stop offset="0.4049" stop-color="#828587"/><stop offset="0.4294" stop-color="#848c8e"/><stop offset="0.4525" stop-color="#77a1a3"/><stop offset="0.4586" stop-color="#72adae"/><stop offset="0.4632" stop-color="#6cc0c0"/><stop offset="0.4678" stop-color="#6ec9c9"/><stop offset="0.4693" stop-color="#6ccac9"/><stop offset="0.4739" stop-color="#49bbb5"/><stop offset="0.4755" stop-color="#37b1a9"/><stop offset="0.477" stop-color="#289e98"/><stop offset="0.4785" stop-color="#208986"/><stop offset="0.4801" stop-color="#417f80"/><stop offset="0.4816" stop-color="#9e797f"/><stop offset="0.4831" stop-color="#eb6d74"/><stop offset="0.4847" stop-color="#ef4a51"/><stop offset="0.4862" stop-color="#ee2d2e"/><stop offset="0.5" stop-color="#ee2d2e"/><stop offset="0.5015" stop-color="#ef4349"/><stop offset="0.5031" stop-color="#ee676e"/><stop offset="0.5046" stop-color="#b2787f"/><stop offset="0.5061" stop-color="#4c7f80"/><stop offset="0.5077" stop-color="#1f8583"/><stop offset="0.5092" stop-color="#259a94"/><stop offset="0.5107" stop-color="#34aea6"/><stop offset="0.5123" stop-color="#45bab3"/><stop offset="0.5153" stop-color="#60c5c3"/><stop offset="0.5169" stop-color="#6ac9c8"/><stop offset="0.5184" stop-color="#6fc9c9"/><stop offset="0.5245" stop-color="#6dbbbc"/><stop offset="0.5291" stop-color="#73a9aa"/><stop offset="0.5475" stop-color="#809294"/><stop offset="0.566" stop-color="#85888b"/><stop offset="0.6181" stop-color="#808285"/><stop offset="1" stop-color="#808285"/></linearGradient><linearGradient id="b26"><stop offset="0" stop-color="#808285"/><stop offset="0.4034" stop-color="#828587"/><stop offset="0.4294" stop-color="#848d8f"/><stop offset="0.4525" stop-color="#77a2a4"/><stop offset="0.4586" stop-color="#71b0b0"/><stop offset="0.4632" stop-color="#6cc1c1"/><stop offset="0.4678" stop-color="#6fcaca"/><stop offset="0.4709" stop-color="#5ec4c2"/><stop offset="0.4739" stop-color="#43b9b2"/><stop offset="0.4755" stop-color="#33aca4"/><stop offset="0.477" stop-color="#239892"/><stop offset="0.4785" stop-color="#1f8282"/><stop offset="0.4801" stop-color="#547f80"/><stop offset="0.4816" stop-color="#ba787e"/><stop offset="0.4831" stop-color="#ee646b"/><stop offset="0.4847" stop-color="#ef4045"/><stop offset="0.4862" stop-color="#ee2d2e"/><stop offset="0.5" stop-color="#ee2d2e"/><stop offset="0.5015" stop-color="#ee393d"/><stop offset="0.5031" stop-color="#ee5c63"/><stop offset="0.5046" stop-color="#ce777e"/><stop offset="0.5061" stop-color="#687d80"/><stop offset="0.5077" stop-color="#248080"/><stop offset="0.5092" stop-color="#21948e"/><stop offset="0.5107" stop-color="#30a8a0"/><stop offset="0.5123" stop-color="#3fb7af"/><stop offset="0.5153" stop-color="#5cc3c0"/><stop offset="0.5184" stop-color="#6fcbcb"/><stop offset="0.5245" stop-color="#6cbfbf"/><stop offset="0.5291" stop-color="#72abac"/><stop offset="0.546" stop-color="#7f9597"/><stop offset="0.5675" stop-color="#85888b"/><stop offset="0.6212" stop-color="#808285"/><stop offset="1" stop-color="#808285"/></linearGradient><linearGradient id="b27"><stop offset="0" stop-color="#808285"/><stop offset="0.4018" stop-color="#828587"/><stop offset="0.4279" stop-color="#848d8f"/><stop offset="0.4509" stop-color="#77a1a3"/><stop offset="0.4571" stop-color="#72acad"/><stop offset="0.4617" stop-color="#6cc0c0"/><stop offset="0.4678" stop-color="#6ecbca"/><stop offset="0.4724" stop-color="#4ebeb9"/><stop offset="0.4739" stop-color="#3db6ae"/><stop offset="0.477" stop-color="#21928d"/><stop offset="0.4785" stop-color="#288080"/><stop offset="0.4801" stop-color="#6e7c80"/><stop offset="0.4816" stop-color="#d4777e"/><stop offset="0.4831" stop-color="#ef5b62"/><stop offset="0.4847" stop-color="#ee373a"/><stop offset="0.4862" stop-color="#ee2d2e"/><stop offset="0.5" stop-color="#ee2d2e"/><stop offset="0.5015" stop-color="#ee3032"/><stop offset="0.5031" stop-color="#ef535a"/><stop offset="0.5046" stop-color="#df737a"/><stop offset="0.5061" stop-color="#837b7f"/><stop offset="0.5077" stop-color="#338080"/><stop offset="0.5092" stop-color="#208e8a"/><stop offset="0.5123" stop-color="#3ab5ac"/><stop offset="0.5153" stop-color="#58c2be"/><stop offset="0.5184" stop-color="#6ccac9"/><stop offset="0.5261" stop-color="#6dbbbb"/><stop offset="0.5307" stop-color="#73a9aa"/><stop offset="0.5506" stop-color="#819294"/><stop offset="0.569" stop-color="#85888b"/><stop offset="0.6242" stop-color="#808285"/><stop offset="1" stop-color="#808285"/></linearGradient><linearGradient id="b28"><stop offset="0" stop-color="#808285"/><stop offset="0.4003" stop-color="#828587"/><stop offset="0.4264" stop-color="#848c8e"/><stop offset="0.4494" stop-color="#78a0a2"/><stop offset="0.4571" stop-color="#71afaf"/><stop offset="0.4617" stop-color="#6cc0c0"/><stop offset="0.4663" stop-color="#6ec9c9"/><stop offset="0.4678" stop-color="#6bcac9"/><stop offset="0.4724" stop-color="#4abcb6"/><stop offset="0.4739" stop-color="#39b4ab"/><stop offset="0.477" stop-color="#208d8a"/><stop offset="0.4785" stop-color="#348080"/><stop offset="0.4801" stop-color="#857b7f"/><stop offset="0.4816" stop-color="#e0737a"/><stop offset="0.4831" stop-color="#ef535a"/><stop offset="0.4847" stop-color="#ee2f31"/><stop offset="0.4985" stop-color="#ee2d2e"/><stop offset="0.5015" stop-color="#ee2d2e"/><stop offset="0.5031" stop-color="#ef4b52"/><stop offset="0.5046" stop-color="#e96e75"/><stop offset="0.5061" stop-color="#9a797f"/><stop offset="0.5077" stop-color="#3f7f80"/><stop offset="0.5092" stop-color="#208987"/><stop offset="0.5107" stop-color="#289e97"/><stop offset="0.5123" stop-color="#36b0a8"/><stop offset="0.5153" stop-color="#55c0bc"/><stop offset="0.5184" stop-color="#6ac9c8"/><stop offset="0.5199" stop-color="#6fcaca"/><stop offset="0.5261" stop-color="#6cbdbd"/><stop offset="0.5307" stop-color="#72abac"/><stop offset="0.5491" stop-color="#7f9496"/><stop offset="0.5706" stop-color="#85888b"/><stop offset="0.6258" stop-color="#808285"/><stop offset="1" stop-color="#808285"/></linearGradient><linearGradient id="b29"><stop offset="0" stop-color="#808285"/><stop offset="0.3988" stop-color="#828487"/><stop offset="0.4264" stop-color="#848d8f"/><stop offset="0.4494" stop-color="#77a1a2"/><stop offset="0.4571" stop-color="#70b1b1"/><stop offset="0.4601" stop-color="#6cbebe"/><stop offset="0.4663" stop-color="#6fcaca"/><stop offset="0.4693" stop-color="#60c5c3"/><stop offset="0.4724" stop-color="#47bab4"/><stop offset="0.4739" stop-color="#36b0a8"/><stop offset="0.4755" stop-color="#289e97"/><stop offset="0.477" stop-color="#208a87"/><stop offset="0.4785" stop-color="#3e7f80"/><stop offset="0.4801" stop-color="#97797f"/><stop offset="0.4816" stop-color="#e76f76"/><stop offset="0.4831" stop-color="#ef4c53"/><stop offset="0.4847" stop-color="#ee2d2e"/><stop offset="0.5015" stop-color="#ee2d2e"/><stop offset="0.5031" stop-color="#ef464b"/><stop offset="0.5046" stop-color="#ee6970"/><stop offset="0.5061" stop-color="#aa787f"/><stop offset="0.5077" stop-color="#497f80"/><stop offset="0.5092" stop-color="#1f8584"/><stop offset="0.5107" stop-color="#259a94"/><stop offset="0.5123" stop-color="#34ada5"/><stop offset="0.5138" stop-color="#44b9b2"/><stop offset="0.5169" stop-color="#5ec4c1"/><stop offset="0.5199" stop-color="#6fcbcb"/><stop offset="0.5261" stop-color="#6cbfbf"/><stop offset="0.5322" stop-color="#73a9aa"/><stop offset="0.5521" stop-color="#819294"/><stop offset="0.5721" stop-color="#85888a"/><stop offset="0.6288" stop-color="#808285"/><stop offset="1" stop-color="#808285"/></linearGradient><linearGradient id="b30"><stop offset="0" stop-color="#808285"/><stop offset="0.3972" stop-color="#828487"/><stop offset="0.4248" stop-color="#848c8e"/><stop offset="0.4494" stop-color="#77a1a3"/><stop offset="0.4555" stop-color="#72acad"/><stop offset="0.4601" stop-color="#6cbfbf"/><stop offset="0.4663" stop-color="#6fcaca"/><stop offset="0.4709" stop-color="#53bfbb"/><stop offset="0.4724" stop-color="#44b9b3"/><stop offset="0.4739" stop-color="#35aea6"/><stop offset="0.4755" stop-color="#269b95"/><stop offset="0.477" stop-color="#208785"/><stop offset="0.4785" stop-color="#457f80"/><stop offset="0.4801" stop-color="#a3797f"/><stop offset="0.4816" stop-color="#ec6c73"/><stop offset="0.4831" stop-color="#ef484f"/><stop offset="0.4847" stop-color="#ee2d2e"/><stop offset="0.5015" stop-color="#ee2d2e"/><stop offset="0.5031" stop-color="#ef4147"/><stop offset="0.5046" stop-color="#ee656c"/><stop offset="0.5061" stop-color="#b6787f"/><stop offset="0.5077" stop-color="#517f80"/><stop offset="0.5092" stop-color="#1f8282"/><stop offset="0.5107" stop-color="#239791"/><stop offset="0.5123" stop-color="#32aba3"/><stop offset="0.5138" stop-color="#41b8b0"/><stop offset="0.5169" stop-color="#5cc3c0"/><stop offset="0.5199" stop-color="#6fcbcb"/><stop offset="0.5276" stop-color="#6ebaba"/><stop offset="0.5322" stop-color="#73a9aa"/><stop offset="0.5521" stop-color="#809294"/><stop offset="0.5721" stop-color="#85888b"/><stop offset="0.6288" stop-color="#808285"/><stop offset="1" stop-color="#808285"/></linearGradient><linearGradient id="b31"><stop offset="0" stop-color="#808285"/><stop offset="0.3972" stop-color="#828487"/><stop offset="0.4248" stop-color="#848d8f"/><stop offset="0.4494" stop-color="#77a2a3"/><stop offset="0.4555" stop-color="#71adae"/><stop offset="0.4601" stop-color="#6cbfbf"/><stop offset="0.4663" stop-color="#6fcbcb"/><stop offset="0.4709" stop-color="#52bfbb"/><stop offset="0.4724" stop-color="#43b9b1"/><stop offset="0.4739" stop-color="#33aca4"/><stop offset="0.4755" stop-color="#249993"/><stop offset="0.477" stop-color="#1f8583"/><stop offset="0.4785" stop-color="#4a7f80"/><stop offset="0.4801" stop-color="#ac787f"/><stop offset="0.4816" stop-color="#ee6970"/><stop offset="0.4831" stop-color="#ef454b"/><stop offset="0.4847" stop-color="#ee2d2e"/><stop offset="0.5015" stop-color="#ee2d2e"/><stop offset="0.5031" stop-color="#ef3e43"/><stop offset="0.5046" stop-color="#ee6269"/><stop offset="0.5061" stop-color="#bf787e"/><stop offset="0.5077" stop-color="#5b7e80"/><stop offset="0.5092" stop-color="#1f8080"/><stop offset="0.5107" stop-color="#21958f"/><stop offset="0.5123" stop-color="#30a9a1"/><stop offset="0.5138" stop-color="#3fb7af"/><stop offset="0.5169" stop-color="#5bc3c0"/><stop offset="0.5199" stop-color="#6ecaca"/><stop offset="0.5276" stop-color="#6dbbbb"/><stop offset="0.5322" stop-color="#73aaab"/><stop offset="0.5521" stop-color="#809294"/><stop offset="0.5721" stop-color="#85888b"/><stop offset="0.6288" stop-color="#808285"/><stop offset="1" stop-color="#808285"/></linearGradient><linearGradient id="b32"><stop offset="0" stop-color="#808285"/><stop offset="0.3972" stop-color="#828587"/><stop offset="0.4248" stop-color="#848d8f"/><stop offset="0.4494" stop-color="#77a2a4"/><stop offset="0.4555" stop-color="#71aeaf"/><stop offset="0.4601" stop-color="#6cc0c0"/><stop offset="0.4663" stop-color="#6ecbcb"/><stop offset="0.4709" stop-color="#50beba"/><stop offset="0.4724" stop-color="#41b8b0"/><stop offset="0.4739" stop-color="#32aba2"/><stop offset="0.4755" stop-color="#239791"/><stop offset="0.477" stop-color="#1f8382"/><stop offset="0.4785" stop-color="#507f80"/><stop offset="0.4801" stop-color="#b4787f"/><stop offset="0.4816" stop-color="#ee666d"/><stop offset="0.4831" stop-color="#ef4248"/><stop offset="0.4847" stop-color="#ee2d2e"/><stop offset="0.5015" stop-color="#ee2d2e"/><stop offset="0.5031" stop-color="#ee3b3f"/><stop offset="0.5046" stop-color="#ee5f66"/><stop offset="0.5061" stop-color="#c8787e"/><stop offset="0.5077" stop-color="#647d80"/><stop offset="0.5092" stop-color="#248080"/><stop offset="0.5107" stop-color="#21938e"/><stop offset="0.5138" stop-color="#3db6ae"/><stop offset="0.5169" stop-color="#5ac2bf"/><stop offset="0.5199" stop-color="#6dcaca"/><stop offset="0.5276" stop-color="#6dbcbc"/><stop offset="0.5322" stop-color="#72aaab"/><stop offset="0.5521" stop-color="#809395"/><stop offset="0.5721" stop-color="#85898b"/><stop offset="0.6288" stop-color="#808285"/><stop offset="1" stop-color="#808285"/></linearGradient><linearGradient id="b33"><stop offset="0" stop-color="#808285"/><stop offset="0.3957" stop-color="#828487"/><stop offset="0.4248" stop-color="#848d8f"/><stop offset="0.4494" stop-color="#76a3a4"/><stop offset="0.4555" stop-color="#71afb0"/><stop offset="0.4601" stop-color="#6cc0c0"/><stop offset="0.4663" stop-color="#6dcaca"/><stop offset="0.4709" stop-color="#4fbeb9"/><stop offset="0.4724" stop-color="#3fb7af"/><stop offset="0.4739" stop-color="#31a9a1"/><stop offset="0.4755" stop-color="#21968f"/><stop offset="0.477" stop-color="#1f8180"/><stop offset="0.4785" stop-color="#587e80"/><stop offset="0.4801" stop-color="#bc787e"/><stop offset="0.4816" stop-color="#ee636a"/><stop offset="0.4831" stop-color="#ef4044"/><stop offset="0.4847" stop-color="#ee2d2e"/><stop offset="0.5015" stop-color="#ee2d2e"/><stop offset="0.5031" stop-color="#ee393c"/><stop offset="0.5046" stop-color="#ee5c63"/><stop offset="0.5061" stop-color="#cf777e"/><stop offset="0.5077" stop-color="#6c7d80"/><stop offset="0.5092" stop-color="#288080"/><stop offset="0.5107" stop-color="#21928d"/><stop offset="0.5138" stop-color="#3cb6ad"/><stop offset="0.5169" stop-color="#58c2be"/><stop offset="0.5199" stop-color="#6ccac9"/><stop offset="0.5245" stop-color="#6dc3c3"/><stop offset="0.5276" stop-color="#6dbdbd"/><stop offset="0.5337" stop-color="#74a8a9"/><stop offset="0.5552" stop-color="#819193"/><stop offset="0.5736" stop-color="#85888b"/><stop offset="0.6319" stop-color="#808285"/><stop offset="1" stop-color="#808285"/></linearGradient><linearGradient id="b34"><stop offset="0" stop-color="#808285"/><stop offset="0.3957" stop-color="#828487"/><stop offset="0.4233" stop-color="#848c8e"/><stop offset="0.4479" stop-color="#77a1a2"/><stop offset="0.4555" stop-color="#71afb0"/><stop offset="0.4601" stop-color="#6cc0c0"/><stop offset="0.4663" stop-color="#6dcaca"/><stop offset="0.4709" stop-color="#4ebdb9"/><stop offset="0.4724" stop-color="#3eb7ae"/><stop offset="0.4755" stop-color="#21948e"/><stop offset="0.477" stop-color="#218080"/><stop offset="0.4785" stop-color="#5e7e80"/><stop offset="0.4801" stop-color="#c2787e"/><stop offset="0.4816" stop-color="#ee6168"/><stop offset="0.4831" stop-color="#ef3d42"/><stop offset="0.4847" stop-color="#ee2d2e"/><stop offset="0.5015" stop-color="#ee2d2e"/><stop offset="0.5031" stop-color="#ee3639"/><stop offset="0.5046" stop-color="#ef5a61"/><stop offset="0.5061" stop-color="#d6777e"/><stop offset="0.5077" stop-color="#727c80"/><stop offset="0.5092" stop-color="#2b8080"/><stop offset="0.5107" stop-color="#21908c"/><stop offset="0.5138" stop-color="#3ab5ac"/><stop offset="0.5169" stop-color="#58c1be"/><stop offset="0.5199" stop-color="#6bc9c9"/><stop offset="0.523" stop-color="#6ec6c6"/><stop offset="0.5276" stop-color="#6cbebe"/><stop offset="0.5322" stop-color="#72abac"/><stop offset="0.5506" stop-color="#7f9597"/><stop offset="0.5736" stop-color="#85888b"/><stop offset="0.6319" stop-color="#808285"/><stop offset="1" stop-color="#808285"/></linearGradient><linearGradient id="b35"><stop offset="0" stop-color="#808285"/><stop offset="0.3957" stop-color="#828587"/><stop offset="0.4233" stop-color="#848d8f"/><stop offset="0.4479" stop-color="#77a1a3"/><stop offset="0.4555" stop-color="#71b0b1"/><stop offset="0.4601" stop-color="#6cc1c1"/><stop offset="0.4663" stop-color="#6ccac9"/><stop offset="0.4709" stop-color="#4dbdb8"/><stop offset="0.4724" stop-color="#3db6ae"/><stop offset="0.4755" stop-color="#21938d"/><stop offset="0.477" stop-color="#248080"/><stop offset="0.4785" stop-color="#647d80"/><stop offset="0.4801" stop-color="#c7787e"/><stop offset="0.4816" stop-color="#ee5f66"/><stop offset="0.4831" stop-color="#ee3b3f"/><stop offset="0.4847" stop-color="#ee2d2e"/><stop offset="0.5015" stop-color="#ee2d2e"/><stop offset="0.5031" stop-color="#ee3437"/><stop offset="0.5046" stop-color="#ef585f"/><stop offset="0.5061" stop-color="#da767d"/><stop offset="0.5077" stop-color="#787c7f"/><stop offset="0.5092" stop-color="#2e8080"/><stop offset="0.5107" stop-color="#208f8b"/><stop offset="0.5138" stop-color="#39b4ab"/><stop offset="0.5169" stop-color="#57c1bd"/><stop offset="0.5199" stop-color="#6ac9c8"/><stop offset="0.5215" stop-color="#6fcaca"/><stop offset="0.5276" stop-color="#6cbebe"/><stop offset="0.5337" stop-color="#73a8aa"/><stop offset="0.5552" stop-color="#819193"/><stop offset="0.5752" stop-color="#85888a"/><stop offset="0.6334" stop-color="#808285"/><stop offset="1" stop-color="#808285"/></linearGradient><linearGradient id="b36"><stop offset="0" stop-color="#808285"/><stop offset="0.3957" stop-color="#828587"/><stop offset="0.4233" stop-color="#848d8f"/><stop offset="0.4479" stop-color="#77a1a3"/><stop offset="0.4555" stop-color="#70b0b1"/><stop offset="0.4601" stop-color="#6cc1c1"/><stop offset="0.4647" stop-color="#6fc9c9"/><stop offset="0.4663" stop-color="#6ccac9"/><stop offset="0.4709" stop-color="#4cbdb8"/><stop offset="0.4724" stop-color="#3cb6ad"/><stop offset="0.4755" stop-color="#21928d"/><stop offset="0.477" stop-color="#268080"/><stop offset="0.4785" stop-color="#687d80"/><stop offset="0.4801" stop-color="#cb777e"/><stop offset="0.4816" stop-color="#ee5e65"/><stop offset="0.4831" stop-color="#ee3a3e"/><stop offset="0.4847" stop-color="#ee2d2e"/><stop offset="0.5015" stop-color="#ee2d2e"/><stop offset="0.5031" stop-color="#ee3335"/><stop offset="0.5046" stop-color="#ef575e"/><stop offset="0.5061" stop-color="#dc767d"/><stop offset="0.5077" stop-color="#7c7b7f"/><stop offset="0.5092" stop-color="#308080"/><stop offset="0.5107" stop-color="#208e8a"/><stop offset="0.5138" stop-color="#39b3aa"/><stop offset="0.5169" stop-color="#56c1bd"/><stop offset="0.5199" stop-color="#6ac9c8"/><stop offset="0.5215" stop-color="#6fcaca"/><stop offset="0.5276" stop-color="#6cbfbf"/><stop offset="0.5337" stop-color="#73a9aa"/><stop offset="0.5552" stop-color="#819193"/><stop offset="0.5752" stop-color="#85888a"/><stop offset="0.6334" stop-color="#808285"/><stop offset="1" stop-color="#808285"/></linearGradient><linearGradient id="b37"><stop offset="0" stop-color="#808285"/><stop offset="0.3957" stop-color="#828587"/><stop offset="0.4233" stop-color="#848d8f"/><stop offset="0.4479" stop-color="#77a1a3"/><stop offset="0.4555" stop-color="#70b1b1"/><stop offset="0.4601" stop-color="#6cc1c1"/><stop offset="0.4647" stop-color="#6fc9c9"/><stop offset="0.4663" stop-color="#6bc9c9"/><stop offset="0.4709" stop-color="#4cbdb7"/><stop offset="0.4724" stop-color="#3bb6ad"/><stop offset="0.4755" stop-color="#21928d"/><stop offset="0.477" stop-color="#278080"/><stop offset="0.4785" stop-color="#6a7d80"/><stop offset="0.4801" stop-color="#cd777e"/><stop offset="0.4816" stop-color="#ee5d64"/><stop offset="0.4831" stop-color="#ee393d"/><stop offset="0.4847" stop-color="#ee2d2e"/><stop offset="0.5015" stop-color="#ee2d2e"/><stop offset="0.5031" stop-color="#ee3234"/><stop offset="0.5046" stop-color="#ef565d"/><stop offset="0.5061" stop-color="#dc757c"/><stop offset="0.5077" stop-color="#7e7b7f"/><stop offset="0.5092" stop-color="#328080"/><stop offset="0.5107" stop-color="#208e8a"/><stop offset="0.5138" stop-color="#38b3aa"/><stop offset="0.5169" stop-color="#56c1bd"/><stop offset="0.5199" stop-color="#6ac9c8"/><stop offset="0.5215" stop-color="#6fcaca"/><stop offset="0.5276" stop-color="#6cbfbf"/><stop offset="0.5337" stop-color="#73a9aa"/><stop offset="0.5552" stop-color="#819193"/><stop offset="0.5752" stop-color="#85888a"/><stop offset="0.6334" stop-color="#808285"/><stop offset="1" stop-color="#808285"/></linearGradient><linearGradient id="b38"><stop offset="0" stop-color="#808285"/><stop offset="0.3957" stop-color="#828587"/><stop offset="0.4233" stop-color="#848d8f"/><stop offset="0.4479" stop-color="#77a1a3"/><stop offset="0.4555" stop-color="#70b1b1"/><stop offset="0.4601" stop-color="#6cc1c1"/><stop offset="0.4647" stop-color="#6fc9c9"/><stop offset="0.4663" stop-color="#6bc9c9"/><stop offset="0.4709" stop-color="#4cbdb7"/><stop offset="0.4724" stop-color="#3bb6ad"/><stop offset="0.4755" stop-color="#21928d"/><stop offset="0.477" stop-color="#278080"/><stop offset="0.4785" stop-color="#6a7d80"/><stop offset="0.4801" stop-color="#cd777e"/><stop offset="0.4816" stop-color="#ee5d64"/><stop offset="0.4831" stop-color="#ee3a3d"/><stop offset="0.4847" stop-color="#ee2d2e"/><stop offset="0.5015" stop-color="#ee2d2e"/><stop offset="0.5031" stop-color="#ee3234"/><stop offset="0.5046" stop-color="#ef565d"/><stop offset="0.5061" stop-color="#dc757c"/><stop offset="0.5077" stop-color="#7e7b7f"/><stop offset="0.5092" stop-color="#318080"/><stop offset="0.5107" stop-color="#208e8a"/><stop offset="0.5138" stop-color="#38b3aa"/><stop offset="0.5169" stop-color="#56c1bd"/><stop offset="0.5199" stop-color="#6ac9c8"/><stop offset="0.5215" stop-color="#6fcaca"/><stop offset="0.5276" stop-color="#6cbfbf"/><stop offset="0.5337" stop-color="#73a9aa"/><stop offset="0.5552" stop-color="#819193"/><stop offset="0.5752" stop-color="#85888a"/><stop offset="0.6334" stop-color="#808285"/><stop offset="1" stop-color="#808285"/></linearGradient><linearGradient id="b39"><stop offset="0" stop-color="#808285"/><stop offset="0.3957" stop-color="#828587"/><stop offset="0.4233" stop-color="#848d8f"/><stop offset="0.4479" stop-color="#77a1a3"/><stop offset="0.4555" stop-color="#70b0b1"/><stop offset="0.4601" stop-color="#6cc1c1"/><stop offset="0.4647" stop-color="#6fc9c9"/><stop offset="0.4663" stop-color="#6ccac9"/><stop offset="0.4709" stop-color="#4cbdb8"/><stop offset="0.4724" stop-color="#3cb6ad"/><stop offset="0.4755" stop-color="#21928d"/><stop offset="0.477" stop-color="#268080"/><stop offset="0.4785" stop-color="#677d80"/><stop offset="0.4801" stop-color="#cb777e"/><stop offset="0.4816" stop-color="#ee5e65"/><stop offset="0.4831" stop-color="#ee3a3e"/><stop offset="0.4847" stop-color="#ee2d2e"/><stop offset="0.5015" stop-color="#ee2d2e"/><stop offset="0.5031" stop-color="#ee3335"/><stop offset="0.5046" stop-color="#ef575e"/><stop offset="0.5061" stop-color="#db767d"/><stop offset="0.5077" stop-color="#7c7b7f"/><stop offset="0.5092" stop-color="#308080"/><stop offset="0.5107" stop-color="#208e8a"/><stop offset="0.5138" stop-color="#39b3ab"/><stop offset="0.5169" stop-color="#56c1bd"/><stop offset="0.5199" stop-color="#6ac9c8"/><stop offset="0.5215" stop-color="#6fcaca"/><stop offset="0.5276" stop-color="#6cbfbf"/><stop offset="0.5337" stop-color="#73a9aa"/><stop offset="0.5552" stop-color="#819193"/><stop offset="0.5752" stop-color="#85888a"/><stop offset="0.6334" stop-color="#808285"/><stop offset="1" stop-color="#808285"/></linearGradient><linearGradient id="b40"><stop offset="0" stop-color="#808285"/><stop offset="0.3957" stop-color="#828587"/><stop offset="0.4233" stop-color="#848d8f"/><stop offset="0.4479" stop-color="#77a1a3"/><stop offset="0.4555" stop-color="#71b0b1"/><stop offset="0.4601" stop-color="#6cc1c1"/><stop offset="0.4663" stop-color="#6ccac9"/><stop offset="0.4709" stop-color="#4dbdb8"/><stop offset="0.4724" stop-color="#3db6ae"/><stop offset="0.4755" stop-color="#21938e"/><stop offset="0.477" stop-color="#248080"/><stop offset="0.4785" stop-color="#637d80"/><stop offset="0.4801" stop-color="#c7787e"/><stop offset="0.4816" stop-color="#ee5f66"/><stop offset="0.4831" stop-color="#ee3c40"/><stop offset="0.4847" stop-color="#ee2d2e"/><stop offset="0.5015" stop-color="#ee2d2e"/><stop offset="0.5031" stop-color="#ee3437"/><stop offset="0.5046" stop-color="#ef585f"/><stop offset="0.5061" stop-color="#da777e"/><stop offset="0.5077" stop-color="#777c7f"/><stop offset="0.5092" stop-color="#2e8080"/><stop offset="0.5107" stop-color="#208f8b"/><stop offset="0.5138" stop-color="#39b4ab"/><stop offset="0.5169" stop-color="#57c1bd"/><stop offset="0.5199" stop-color="#6ac9c8"/><stop offset="0.5215" stop-color="#6fc9c9"/><stop offset="0.5276" stop-color="#6cbebe"/><stop offset="0.5337" stop-color="#73a8aa"/><stop offset="0.5552" stop-color="#819193"/><stop offset="0.5752" stop-color="#85888a"/><stop offset="0.6334" stop-color="#808285"/><stop offset="1" stop-color="#808285"/></linearGradient><linearGradient id="b41"><stop offset="0" stop-color="#808285"/><stop offset="0.3957" stop-color="#828487"/><stop offset="0.4233" stop-color="#848c8e"/><stop offset="0.4479" stop-color="#77a1a2"/><stop offset="0.4555" stop-color="#71afb0"/><stop offset="0.4601" stop-color="#6cc0c0"/><stop offset="0.4663" stop-color="#6dcaca"/><stop offset="0.4709" stop-color="#4ebdb9"/><stop offset="0.4724" stop-color="#3eb7ae"/><stop offset="0.4755" stop-color="#21948e"/><stop offset="0.477" stop-color="#218080"/><stop offset="0.4785" stop-color="#5e7e80"/><stop offset="0.4801" stop-color="#c1787e"/><stop offset="0.4816" stop-color="#ee6168"/><stop offset="0.4831" stop-color="#ef3e42"/><stop offset="0.4847" stop-color="#ee2d2e"/><stop offset="0.5015" stop-color="#ee2d2e"/><stop offset="0.5031" stop-color="#ee3639"/><stop offset="0.5046" stop-color="#ef5a61"/><stop offset="0.5061" stop-color="#d6777e"/><stop offset="0.5077" stop-color="#727c80"/><stop offset="0.5092" stop-color="#2b8080"/><stop offset="0.5107" stop-color="#21908c"/><stop offset="0.5138" stop-color="#3ab5ac"/><stop offset="0.5169" stop-color="#58c1be"/><stop offset="0.5199" stop-color="#6bc9c9"/><stop offset="0.523" stop-color="#6ec6c6"/><stop offset="0.5276" stop-color="#6cbebe"/><stop offset="0.5322" stop-color="#72abac"/><stop offset="0.5506" stop-color="#7f9496"/><stop offset="0.5736" stop-color="#85888b"/><stop offset="0.6319" stop-color="#808285"/><stop offset="1" stop-color="#808285"/></linearGradient><linearGradient id="b42"><stop offset="0" stop-color="#808285"/><stop offset="0.3957" stop-color="#828487"/><stop offset="0.4248" stop-color="#848d8f"/><stop offset="0.4494" stop-color="#76a3a4"/><stop offset="0.4555" stop-color="#71afaf"/><stop offset="0.4601" stop-color="#6cc0c0"/><stop offset="0.4663" stop-color="#6dcaca"/><stop offset="0.4709" stop-color="#4fbeb9"/><stop offset="0.4724" stop-color="#3fb7af"/><stop offset="0.4739" stop-color="#31a9a1"/><stop offset="0.4755" stop-color="#229690"/><stop offset="0.477" stop-color="#1f8181"/><stop offset="0.4785" stop-color="#577e80"/><stop offset="0.4801" stop-color="#bb787e"/><stop offset="0.4816" stop-color="#ee646b"/><stop offset="0.4831" stop-color="#ef4045"/><stop offset="0.4847" stop-color="#ee2d2e"/><stop offset="0.5015" stop-color="#ee2d2e"/><stop offset="0.5031" stop-color="#ee393c"/><stop offset="0.5046" stop-color="#ee5d64"/><stop offset="0.5061" stop-color="#cf777e"/><stop offset="0.5077" stop-color="#6b7d80"/><stop offset="0.5092" stop-color="#278080"/><stop offset="0.5107" stop-color="#21928d"/><stop offset="0.5138" stop-color="#3cb6ad"/><stop offset="0.5169" stop-color="#59c2be"/><stop offset="0.5199" stop-color="#6ccac9"/><stop offset="0.5245" stop-color="#6dc3c3"/><stop offset="0.5291" stop-color="#6fb6b6"/><stop offset="0.5337" stop-color="#74a8a9"/><stop offset="0.5552" stop-color="#819193"/><stop offset="0.5736" stop-color="#85888b"/><stop offset="0.6319" stop-color="#808285"/><stop offset="1" stop-color="#808285"/></linearGradient><linearGradient id="b43"><stop offset="0" stop-color="#808285"/><stop offset="0.3972" stop-color="#828587"/><stop offset="0.4248" stop-color="#848d8f"/><stop offset="0.4494" stop-color="#77a2a4"/><stop offset="0.4555" stop-color="#71aeaf"/><stop offset="0.4601" stop-color="#6cc0c0"/><stop offset="0.4663" stop-color="#6ecbcb"/><stop offset="0.4709" stop-color="#50beba"/><stop offset="0.4724" stop-color="#41b8b0"/><stop offset="0.4739" stop-color="#32aba3"/><stop offset="0.4755" stop-color="#239891"/><stop offset="0.477" stop-color="#1f8382"/><stop offset="0.4785" stop-color="#4f7f80"/><stop offset="0.4801" stop-color="#b3787f"/><stop offset="0.4816" stop-color="#ee666d"/><stop offset="0.4831" stop-color="#ef4348"/><stop offset="0.4847" stop-color="#ee2d2e"/><stop offset="0.5015" stop-color="#ee2d2e"/><stop offset="0.5031" stop-color="#ee3c3f"/><stop offset="0.5046" stop-color="#ee5f66"/><stop offset="0.5061" stop-color="#c7787e"/><stop offset="0.5077" stop-color="#637d80"/><stop offset="0.5092" stop-color="#238080"/><stop offset="0.5107" stop-color="#21938e"/><stop offset="0.5138" stop-color="#3db6ae"/><stop offset="0.5169" stop-color="#5ac2bf"/><stop offset="0.5199" stop-color="#6dcaca"/><stop offset="0.5276" stop-color="#6dbcbc"/><stop offset="0.5322" stop-color="#72aaab"/><stop offset="0.5521" stop-color="#809395"/><stop offset="0.5721" stop-color="#85898b"/><stop offset="0.6288" stop-color="#808285"/><stop offset="1" stop-color="#808285"/></linearGradient><linearGradient id="b44"><stop offset="0" stop-color="#808285"/><stop offset="0.3972" stop-color="#828487"/><stop offset="0.4248" stop-color="#848d8f"/><stop offset="0.4494" stop-color="#77a2a3"/><stop offset="0.4555" stop-color="#71adae"/><stop offset="0.4601" stop-color="#6cbfbf"/><stop offset="0.4663" stop-color="#6fcbcb"/><stop offset="0.4709" stop-color="#52bfbb"/><stop offset="0.4724" stop-color="#43b9b2"/><stop offset="0.4739" stop-color="#33aca4"/><stop offset="0.4755" stop-color="#259a93"/><stop offset="0.477" stop-color="#1f8583"/><stop offset="0.4785" stop-color="#497f80"/><stop offset="0.4801" stop-color="#ab787f"/><stop offset="0.4816" stop-color="#ee6970"/><stop offset="0.4831" stop-color="#ef454b"/><stop offset="0.4847" stop-color="#ee2d2e"/><stop offset="0.5015" stop-color="#ee2d2e"/><stop offset="0.5031" stop-color="#ef3f43"/><stop offset="0.5046" stop-color="#ee6269"/><stop offset="0.5061" stop-color="#be787e"/><stop offset="0.5077" stop-color="#5a7e80"/><stop offset="0.5092" stop-color="#1f8080"/><stop offset="0.5107" stop-color="#21958f"/><stop offset="0.5123" stop-color="#31a9a1"/><stop offset="0.5138" stop-color="#3fb7af"/><stop offset="0.5169" stop-color="#5bc3c0"/><stop offset="0.5199" stop-color="#6ecaca"/><stop offset="0.5276" stop-color="#6dbbbb"/><stop offset="0.5322" stop-color="#73aaab"/><stop offset="0.5521" stop-color="#809294"/><stop offset="0.5721" stop-color="#85888b"/><stop offset="0.6288" stop-color="#808285"/><stop offset="1" stop-color="#808285"/></linearGradient><linearGradient id="b45"><stop offset="0" stop-color="#808285"/><stop offset="0.3988" stop-color="#828587"/><stop offset="0.4264" stop-color="#848d8f"/><stop offset="0.4494" stop-color="#77a1a3"/><stop offset="0.4555" stop-color="#72acad"/><stop offset="0.4601" stop-color="#6cbfbf"/><stop offset="0.4663" stop-color="#6fcaca"/><stop offset="0.4709" stop-color="#53c0bb"/><stop offset="0.4724" stop-color="#45b9b3"/><stop offset="0.4739" stop-color="#35aea6"/><stop offset="0.4755" stop-color="#269c95"/><stop offset="0.477" stop-color="#208785"/><stop offset="0.4785" stop-color="#447f80"/><stop offset="0.4801" stop-color="#a2797f"/><stop offset="0.4816" stop-color="#ec6c73"/><stop offset="0.4831" stop-color="#ef494f"/><stop offset="0.4847" stop-color="#ee2d2e"/><stop offset="0.5015" stop-color="#ee2d2e"/><stop offset="0.5031" stop-color="#ef4247"/><stop offset="0.5046" stop-color="#ee666d"/><stop offset="0.5061" stop-color="#b5787f"/><stop offset="0.5077" stop-color="#517f80"/><stop offset="0.5092" stop-color="#1f8382"/><stop offset="0.5107" stop-color="#239891"/><stop offset="0.5123" stop-color="#32aba3"/><stop offset="0.5138" stop-color="#41b8b1"/><stop offset="0.5169" stop-color="#5cc3c1"/><stop offset="0.5199" stop-color="#6fcbcb"/><stop offset="0.5261" stop-color="#6cc0c0"/><stop offset="0.5322" stop-color="#73a9aa"/><stop offset="0.5521" stop-color="#809294"/><stop offset="0.5721" stop-color="#85888b"/><stop offset="0.6288" stop-color="#808285"/><stop offset="1" stop-color="#808285"/></linearGradient><linearGradient id="b46"><stop offset="0" stop-color="#808285"/><stop offset="0.3988" stop-color="#828487"/><stop offset="0.4264" stop-color="#848d8f"/><stop offset="0.4494" stop-color="#77a1a2"/><stop offset="0.4571" stop-color="#70b0b1"/><stop offset="0.4617" stop-color="#6cc1c1"/><stop offset="0.4663" stop-color="#6fcaca"/><stop offset="0.4693" stop-color="#60c5c3"/><stop offset="0.4724" stop-color="#47bbb4"/><stop offset="0.4739" stop-color="#37b1a8"/><stop offset="0.4755" stop-color="#289e98"/><stop offset="0.477" stop-color="#208a87"/><stop offset="0.4785" stop-color="#3d7f80"/><stop offset="0.4801" stop-color="#96797f"/><stop offset="0.4816" stop-color="#e76f76"/><stop offset="0.4831" stop-color="#ef4d54"/><stop offset="0.4847" stop-color="#ee2d2e"/><stop offset="0.5015" stop-color="#ee2d2e"/><stop offset="0.5031" stop-color="#ef464c"/><stop offset="0.5046" stop-color="#ee6a71"/><stop offset="0.5061" stop-color="#a9797f"/><stop offset="0.5077" stop-color="#487f80"/><stop offset="0.5092" stop-color="#208584"/><stop offset="0.5107" stop-color="#259a94"/><stop offset="0.5123" stop-color="#34ada5"/><stop offset="0.5138" stop-color="#44b9b2"/><stop offset="0.5169" stop-color="#5ec4c2"/><stop offset="0.5199" stop-color="#6fcaca"/><stop offset="0.5261" stop-color="#6cbfbf"/><stop offset="0.5322" stop-color="#73a8aa"/><stop offset="0.5537" stop-color="#819193"/><stop offset="0.5721" stop-color="#85888a"/><stop offset="0.6288" stop-color="#808285"/><stop offset="1" stop-color="#808285"/></linearGradient><linearGradient id="b47"><stop offset="0" stop-color="#808285"/><stop offset="0.4003" stop-color="#828587"/><stop offset="0.4264" stop-color="#848c8e"/><stop offset="0.4494" stop-color="#78a0a2"/><stop offset="0.4571" stop-color="#71aeaf"/><stop offset="0.4617" stop-color="#6cc0c0"/><stop offset="0.4663" stop-color="#6ec9c9"/><stop offset="0.4678" stop-color="#6ccac9"/><stop offset="0.4724" stop-color="#4bbcb7"/><stop offset="0.4739" stop-color="#39b4ab"/><stop offset="0.477" stop-color="#208e8a"/><stop offset="0.4785" stop-color="#338080"/><stop offset="0.4801" stop-color="#837b7f"/><stop offset="0.4816" stop-color="#df747b"/><stop offset="0.4831" stop-color="#ef535a"/><stop offset="0.4847" stop-color="#ee3032"/><stop offset="0.4893" stop-color="#ee2d2e"/><stop offset="0.5015" stop-color="#ee2d2e"/><stop offset="0.5031" stop-color="#ef4c53"/><stop offset="0.5046" stop-color="#e86f76"/><stop offset="0.5061" stop-color="#98797f"/><stop offset="0.5077" stop-color="#3e7f80"/><stop offset="0.5092" stop-color="#208a87"/><stop offset="0.5107" stop-color="#289e97"/><stop offset="0.5123" stop-color="#37b1a8"/><stop offset="0.5153" stop-color="#55c0bd"/><stop offset="0.5184" stop-color="#6ac9c8"/><stop offset="0.5199" stop-color="#6fcaca"/><stop offset="0.5261" stop-color="#6dbdbd"/><stop offset="0.5307" stop-color="#72aaab"/><stop offset="0.5491" stop-color="#7f9496"/><stop offset="0.569" stop-color="#85898b"/><stop offset="0.6242" stop-color="#808285"/><stop offset="1" stop-color="#808285"/></linearGradient><linearGradient id="b48"><stop offset="0" stop-color="#808285"/><stop offset="0.4018" stop-color="#828587"/><stop offset="0.4279" stop-color="#848d8f"/><stop offset="0.4509" stop-color="#77a1a3"/><stop offset="0.4571" stop-color="#72acad"/><stop offset="0.4617" stop-color="#6cbfbf"/><stop offset="0.4678" stop-color="#6ecbcb"/><stop offset="0.4724" stop-color="#4fbeb9"/><stop offset="0.4739" stop-color="#3eb7ae"/><stop offset="0.477" stop-color="#21938d"/><stop offset="0.4785" stop-color="#278080"/><stop offset="0.4801" stop-color="#6c7d80"/><stop offset="0.4816" stop-color="#d1777e"/><stop offset="0.4831" stop-color="#ee5b62"/><stop offset="0.4847" stop-color="#ee383b"/><stop offset="0.4862" stop-color="#ee2d2e"/><stop offset="0.5" stop-color="#ee2d2e"/><stop offset="0.5015" stop-color="#ee3133"/><stop offset="0.5031" stop-color="#ef545b"/><stop offset="0.5046" stop-color="#de747b"/><stop offset="0.5061" stop-color="#817b7f"/><stop offset="0.5077" stop-color="#318080"/><stop offset="0.5092" stop-color="#208f8a"/><stop offset="0.5123" stop-color="#3ab5ac"/><stop offset="0.5153" stop-color="#59c2be"/><stop offset="0.5184" stop-color="#6dcaca"/><stop offset="0.5261" stop-color="#6dbabb"/><stop offset="0.5307" stop-color="#73a9aa"/><stop offset="0.5506" stop-color="#819294"/><stop offset="0.569" stop-color="#85888b"/><stop offset="0.6227" stop-color="#808285"/><stop offset="1" stop-color="#808285"/></linearGradient><linearGradient id="b49"><stop offset="0" stop-color="#808285"/><stop offset="0.4034" stop-color="#828587"/><stop offset="0.4294" stop-color="#848d8f"/><stop offset="0.4525" stop-color="#77a2a4"/><stop offset="0.4586" stop-color="#71afb0"/><stop offset="0.4632" stop-color="#6cc1c1"/><stop offset="0.4678" stop-color="#6fcaca"/><stop offset="0.4709" stop-color="#5ec4c2"/><stop offset="0.4739" stop-color="#43b9b2"/><stop offset="0.4755" stop-color="#33aca4"/><stop offset="0.477" stop-color="#249892"/><stop offset="0.4785" stop-color="#1f8382"/><stop offset="0.4801" stop-color="#517f80"/><stop offset="0.4816" stop-color="#b8787f"/><stop offset="0.4831" stop-color="#ee656c"/><stop offset="0.4847" stop-color="#ef4146"/><stop offset="0.4862" stop-color="#ee2d2e"/><stop offset="0.5" stop-color="#ee2d2e"/><stop offset="0.5015" stop-color="#ee3a3e"/><stop offset="0.5031" stop-color="#ee5d64"/><stop offset="0.5046" stop-color="#cc777e"/><stop offset="0.5061" stop-color="#667d80"/><stop offset="0.5077" stop-color="#238080"/><stop offset="0.5092" stop-color="#21948e"/><stop offset="0.5107" stop-color="#30a9a1"/><stop offset="0.5123" stop-color="#40b7b0"/><stop offset="0.5153" stop-color="#5cc3c1"/><stop offset="0.5184" stop-color="#6fcbcb"/><stop offset="0.5245" stop-color="#6cbfbf"/><stop offset="0.5291" stop-color="#72abac"/><stop offset="0.546" stop-color="#7f9597"/><stop offset="0.5675" stop-color="#85888b"/><stop offset="0.6212" stop-color="#808285"/><stop offset="1" stop-color="#808285"/></linearGradient><linearGradient id="b50"><stop offset="0" stop-color="#808285"/><stop offset="0.4049" stop-color="#828487"/><stop offset="0.4294" stop-color="#858c8e"/><stop offset="0.4525" stop-color="#77a1a3"/><stop offset="0.4586" stop-color="#72acad"/><stop offset="0.4632" stop-color="#6cc0c0"/><stop offset="0.4693" stop-color="#6ccac9"/><stop offset="0.4739" stop-color="#49bbb6"/><stop offset="0.4755" stop-color="#38b2a9"/><stop offset="0.477" stop-color="#299f98"/><stop offset="0.4785" stop-color="#208a87"/><stop offset="0.4801" stop-color="#3f7f80"/><stop offset="0.4816" stop-color="#9b797f"/><stop offset="0.4831" stop-color="#ea6e75"/><stop offset="0.4847" stop-color="#ef4b52"/><stop offset="0.4862" stop-color="#ee2d2e"/><stop offset="0.5" stop-color="#ee2d2e"/><stop offset="0.5015" stop-color="#ef444a"/><stop offset="0.5031" stop-color="#ee686f"/><stop offset="0.5046" stop-color="#af787f"/><stop offset="0.5061" stop-color="#4a7f80"/><stop offset="0.5077" stop-color="#1f8584"/><stop offset="0.5092" stop-color="#269b94"/><stop offset="0.5107" stop-color="#35afa6"/><stop offset="0.5123" stop-color="#46bab3"/><stop offset="0.5153" stop-color="#60c5c3"/><stop offset="0.5169" stop-color="#6ac9c8"/><stop offset="0.5184" stop-color="#6fc9c9"/><stop offset="0.5245" stop-color="#6dbbbb"/><stop offset="0.5291" stop-color="#73a9aa"/><stop offset="0.5475" stop-color="#809294"/><stop offset="0.566" stop-color="#85888b"/><stop offset="0.6181" stop-color="#808285"/><stop offset="1" stop-color="#808285"/></linearGradient><linearGradient id="b51"><stop offset="0" stop-color="#808285"/><stop offset="0.4064" stop-color="#828487"/><stop offset="0.431" stop-color="#858c8e"/><stop offset="0.4525" stop-color="#78a0a1"/><stop offset="0.4601" stop-color="#71afb0"/><stop offset="0.4647" stop-color="#6cc1c1"/><stop offset="0.4693" stop-color="#6fcbcb"/><stop offset="0.4739" stop-color="#4fbeb9"/><stop offset="0.4755" stop-color="#3eb7ae"/><stop offset="0.4785" stop-color="#21918c"/><stop offset="0.4801" stop-color="#2d8080"/><stop offset="0.4816" stop-color="#797c7f"/><stop offset="0.4831" stop-color="#dc757c"/><stop offset="0.4847" stop-color="#ef575e"/><stop offset="0.4862" stop-color="#ee3537"/><stop offset="0.4877" stop-color="#ee2d2e"/><stop offset="0.5" stop-color="#ee2e2f"/><stop offset="0.5015" stop-color="#ef4f56"/><stop offset="0.5031" stop-color="#e47077"/><stop offset="0.5046" stop-color="#8f7a7f"/><stop offset="0.5061" stop-color="#387f80"/><stop offset="0.5077" stop-color="#208d89"/><stop offset="0.5107" stop-color="#3ab5ac"/><stop offset="0.5123" stop-color="#4cbdb7"/><stop offset="0.5169" stop-color="#6ecbca"/><stop offset="0.523" stop-color="#6cbfbf"/><stop offset="0.5276" stop-color="#72abac"/><stop offset="0.5445" stop-color="#7f9496"/><stop offset="0.5644" stop-color="#85888b"/><stop offset="0.615" stop-color="#808285"/><stop offset="1" stop-color="#808285"/></linearGradient><linearGradient id="b52"><stop offset="0" stop-color="#808285"/><stop offset="0.4095" stop-color="#828587"/><stop offset="0.4325" stop-color="#858c8e"/><stop offset="0.454" stop-color="#78a0a2"/><stop offset="0.4601" stop-color="#72acad"/><stop offset="0.4647" stop-color="#6cc0c0"/><stop offset="0.4693" stop-color="#6ec9c9"/><stop offset="0.4709" stop-color="#6bc9c9"/><stop offset="0.4739" stop-color="#54c0bc"/><stop offset="0.4755" stop-color="#45bab3"/><stop offset="0.477" stop-color="#34ada5"/><stop offset="0.4785" stop-color="#249992"/><stop offset="0.4801" stop-color="#1f8282"/><stop offset="0.4816" stop-color="#567e80"/><stop offset="0.4831" stop-color="#bd787e"/><stop offset="0.4847" stop-color="#ee636a"/><stop offset="0.4862" stop-color="#ef4146"/><stop offset="0.4877" stop-color="#ee2d2e"/><stop offset="0.4985" stop-color="#ee2d2e"/><stop offset="0.5" stop-color="#ee3a3e"/><stop offset="0.5015" stop-color="#ee5c63"/><stop offset="0.5031" stop-color="#d2777e"/><stop offset="0.5046" stop-color="#6b7d80"/><stop offset="0.5061" stop-color="#258080"/><stop offset="0.5077" stop-color="#21948e"/><stop offset="0.5092" stop-color="#31a9a1"/><stop offset="0.5107" stop-color="#41b8b0"/><stop offset="0.5138" stop-color="#5ec4c2"/><stop offset="0.5169" stop-color="#6fcaca"/><stop offset="0.523" stop-color="#6dbbbb"/><stop offset="0.5276" stop-color="#73a9aa"/><stop offset="0.546" stop-color="#819193"/><stop offset="0.5629" stop-color="#85888b"/><stop offset="0.6135" stop-color="#808285"/><stop offset="1" stop-color="#808285"/></linearGradient><linearGradient id="b53"><stop offset="0" stop-color="#808285"/><stop offset="0.411" stop-color="#828487"/><stop offset="0.4356" stop-color="#848d8f"/><stop offset="0.4555" stop-color="#77a1a3"/><stop offset="0.4617" stop-color="#71aeaf"/><stop offset="0.4663" stop-color="#6cc1c1"/><stop offset="0.4709" stop-color="#6fcbcb"/><stop offset="0.4755" stop-color="#4cbdb8"/><stop offset="0.477" stop-color="#39b4ab"/><stop offset="0.4801" stop-color="#208b88"/><stop offset="0.4816" stop-color="#3d7f80"/><stop offset="0.4831" stop-color="#9a797f"/><stop offset="0.4847" stop-color="#e86e75"/><stop offset="0.4862" stop-color="#ef4d54"/><stop offset="0.4877" stop-color="#ee2e30"/><stop offset="0.4985" stop-color="#ee2d2e"/><stop offset="0.5" stop-color="#ef474d"/><stop offset="0.5015" stop-color="#ee6970"/><stop offset="0.5031" stop-color="#ad787f"/><stop offset="0.5046" stop-color="#497f80"/><stop offset="0.5061" stop-color="#208684"/><stop offset="0.5077" stop-color="#279d96"/><stop offset="0.5092" stop-color="#37b1a8"/><stop offset="0.5123" stop-color="#57c1be"/><stop offset="0.5153" stop-color="#6dcaca"/><stop offset="0.5215" stop-color="#6cbebf"/><stop offset="0.5261" stop-color="#73aaab"/><stop offset="0.5429" stop-color="#809395"/><stop offset="0.5598" stop-color="#85898b"/><stop offset="0.6074" stop-color="#808285"/><stop offset="1" stop-color="#808285"/></linearGradient><linearGradient id="b54"><stop offset="0" stop-color="#808285"/><stop offset="0.4141" stop-color="#828587"/><stop offset="0.4371" stop-color="#848d8f"/><stop offset="0.4571" stop-color="#77a1a3"/><stop offset="0.4632" stop-color="#71b0b1"/><stop offset="0.4663" stop-color="#6cbfbf"/><stop offset="0.4709" stop-color="#6ec9c9"/><stop offset="0.4724" stop-color="#6bc9c9"/><stop offset="0.4755" stop-color="#53c0bc"/><stop offset="0.477" stop-color="#43b9b2"/><stop offset="0.4785" stop-color="#32aaa2"/><stop offset="0.4801" stop-color="#21958f"/><stop offset="0.4816" stop-color="#248080"/><stop offset="0.4831" stop-color="#6a7d80"/><stop offset="0.4847" stop-color="#d0777e"/><stop offset="0.4862" stop-color="#ee5e65"/><stop offset="0.4877" stop-color="#ef3e43"/><stop offset="0.4893" stop-color="#ee2d2e"/><stop offset="0.4969" stop-color="#ee2d2e"/><stop offset="0.4985" stop-color="#ee393c"/><stop offset="0.5" stop-color="#ef575e"/><stop offset="0.5015" stop-color="#dd747b"/><stop offset="0.5031" stop-color="#7f7b7f"/><stop offset="0.5046" stop-color="#2f8080"/><stop offset="0.5061" stop-color="#21918c"/><stop offset="0.5077" stop-color="#2fa69f"/><stop offset="0.5092" stop-color="#3fb7af"/><stop offset="0.5123" stop-color="#5ec4c1"/><stop offset="0.5138" stop-color="#69c8c8"/><stop offset="0.5153" stop-color="#6fc9c9"/><stop offset="0.5199" stop-color="#6cc0c0"/><stop offset="0.5245" stop-color="#72abac"/><stop offset="0.5399" stop-color="#7f9496"/><stop offset="0.5583" stop-color="#85898b"/><stop offset="0.6058" stop-color="#808285"/><stop offset="1" stop-color="#808285"/></linearGradient><linearGradient id="b55"><stop offset="0" stop-color="#808285"/><stop offset="0.4172" stop-color="#828587"/><stop offset="0.4387" stop-color="#848c8e"/><stop offset="0.4586" stop-color="#77a1a3"/><stop offset="0.4632" stop-color="#72abac"/><stop offset="0.4678" stop-color="#6cc0c0"/><stop offset="0.4724" stop-color="#6fcaca"/><stop offset="0.4755" stop-color="#5bc3c0"/><stop offset="0.477" stop-color="#4dbdb8"/><stop offset="0.4785" stop-color="#3ab5ac"/><stop offset="0.4801" stop-color="#2aa19a"/><stop offset="0.4816" stop-color="#208a87"/><stop offset="0.4831" stop-color="#3f7f80"/><stop offset="0.4847" stop-color="#9c797f"/><stop offset="0.4862" stop-color="#e86f76"/><stop offset="0.4877" stop-color="#ef5158"/><stop offset="0.4893" stop-color="#ee373a"/><stop offset="0.4908" stop-color="#ee2d2e"/><stop offset="0.4954" stop-color="#ee2d2e"/><stop offset="0.4969" stop-color="#ee3234"/><stop offset="0.4985" stop-color="#ef4b52"/><stop offset="0.5" stop-color="#ee6a71"/><stop offset="0.5015" stop-color="#af787f"/><stop offset="0.5031" stop-color="#4b7f80"/><stop offset="0.5046" stop-color="#208684"/><stop offset="0.5061" stop-color="#279c96"/><stop offset="0.5077" stop-color="#37b1a8"/><stop offset="0.5092" stop-color="#4abcb6"/><stop offset="0.5138" stop-color="#6fcbcb"/><stop offset="0.5199" stop-color="#6dbbbb"/><stop offset="0.5245" stop-color="#74a8a9"/><stop offset="0.5429" stop-color="#829092"/><stop offset="0.5567" stop-color="#85888a"/><stop offset="0.6028" stop-color="#808285"/><stop offset="1" stop-color="#808285"/></linearGradient><linearGradient id="b56"><stop offset="0" stop-color="#808285"/><stop offset="0.4202" stop-color="#828587"/><stop offset="0.4417" stop-color="#848d8f"/><stop offset="0.4601" stop-color="#77a2a3"/><stop offset="0.4647" stop-color="#72abac"/><stop offset="0.4693" stop-color="#6cc1c1"/><stop offset="0.4739" stop-color="#6ecbca"/><stop offset="0.477" stop-color="#56c1bd"/><stop offset="0.4785" stop-color="#46bab4"/><stop offset="0.4801" stop-color="#34ada5"/><stop offset="0.4816" stop-color="#239791"/><stop offset="0.4831" stop-color="#1f8080"/><stop offset="0.4847" stop-color="#607e80"/><stop offset="0.4862" stop-color="#c2787e"/><stop offset="0.4877" stop-color="#ee656c"/><stop offset="0.4893" stop-color="#ef4a51"/><stop offset="0.4908" stop-color="#ee373a"/><stop offset="0.4923" stop-color="#ee2d2e"/><stop offset="0.4939" stop-color="#ee2d2e"/><stop offset="0.4954" stop-color="#ee3437"/><stop offset="0.4969" stop-color="#ef464c"/><stop offset="0.4985" stop-color="#ee6067"/><stop offset="0.5" stop-color="#d5777e"/><stop offset="0.5015" stop-color="#747c7f"/><stop offset="0.5031" stop-color="#2a8080"/><stop offset="0.5046" stop-color="#21938d"/><stop offset="0.5061" stop-color="#30a9a1"/><stop offset="0.5077" stop-color="#42b8b1"/><stop offset="0.5107" stop-color="#61c5c3"/><stop offset="0.5123" stop-color="#6ccac9"/><stop offset="0.5184" stop-color="#6dbdbd"/><stop offset="0.523" stop-color="#73a8a9"/><stop offset="0.5399" stop-color="#819193"/><stop offset="0.5537" stop-color="#85888b"/><stop offset="0.5966" stop-color="#808285"/><stop offset="1" stop-color="#808285"/></linearGradient><linearGradient id="b57"><stop offset="0" stop-color="#808285"/><stop offset="0.4233" stop-color="#828587"/><stop offset="0.4433" stop-color="#848d8f"/><stop offset="0.4617" stop-color="#77a2a3"/><stop offset="0.4663" stop-color="#72acad"/><stop offset="0.4693" stop-color="#6dbdbd"/><stop offset="0.4739" stop-color="#6ec9c9"/><stop offset="0.4755" stop-color="#6ac9c8"/><stop offset="0.4785" stop-color="#51beba"/><stop offset="0.4801" stop-color="#3eb7ae"/><stop offset="0.4831" stop-color="#208d8a"/><stop offset="0.4847" stop-color="#377f80"/><stop offset="0.4877" stop-color="#dc757c"/><stop offset="0.4893" stop-color="#ee5f66"/><stop offset="0.4908" stop-color="#ef4b52"/><stop offset="0.4923" stop-color="#ef4146"/><stop offset="0.4939" stop-color="#ef4044"/><stop offset="0.4954" stop-color="#ef484f"/><stop offset="0.4969" stop-color="#ef5b62"/><stop offset="0.4985" stop-color="#e37178"/><stop offset="0.5" stop-color="#9c797f"/><stop offset="0.5015" stop-color="#427f80"/><stop offset="0.5031" stop-color="#208986"/><stop offset="0.5046" stop-color="#29a099"/><stop offset="0.5061" stop-color="#39b4ab"/><stop offset="0.5077" stop-color="#4ebdb8"/><stop offset="0.5107" stop-color="#68c8c7"/><stop offset="0.5123" stop-color="#6fc9c9"/><stop offset="0.5169" stop-color="#6cbfbf"/><stop offset="0.5215" stop-color="#73a9aa"/><stop offset="0.5368" stop-color="#819294"/><stop offset="0.5506" stop-color="#85898b"/><stop offset="0.592" stop-color="#808285"/><stop offset="1" stop-color="#808285"/></linearGradient><linearGradient id="b58"><stop offset="0" stop-color="#808285"/><stop offset="0.4248" stop-color="#828487"/><stop offset="0.4448" stop-color="#848c8e"/><stop offset="0.4617" stop-color="#789fa1"/><stop offset="0.4678" stop-color="#71aeaf"/><stop offset="0.4709" stop-color="#6cbfbf"/><stop offset="0.4755" stop-color="#6fcaca"/><stop offset="0.4785" stop-color="#59c2bf"/><stop offset="0.4801" stop-color="#49bbb5"/><stop offset="0.4816" stop-color="#36afa7"/><stop offset="0.4831" stop-color="#259a93"/><stop offset="0.4847" stop-color="#1f8382"/><stop offset="0.4862" stop-color="#507f80"/><stop offset="0.4877" stop-color="#ab787f"/><stop offset="0.4893" stop-color="#e57077"/><stop offset="0.4908" stop-color="#ee5f66"/><stop offset="0.4923" stop-color="#ef545b"/><stop offset="0.4939" stop-color="#ef535a"/><stop offset="0.4954" stop-color="#ee5c63"/><stop offset="0.4969" stop-color="#eb6d74"/><stop offset="0.4985" stop-color="#ba787e"/><stop offset="0.5" stop-color="#637d80"/><stop offset="0.5015" stop-color="#238080"/><stop offset="0.5031" stop-color="#21958f"/><stop offset="0.5046" stop-color="#32aba3"/><stop offset="0.5061" stop-color="#45bab3"/><stop offset="0.5092" stop-color="#63c6c4"/><stop offset="0.5107" stop-color="#6fcbcb"/><stop offset="0.5153" stop-color="#6cc0c0"/><stop offset="0.5199" stop-color="#73a9ab"/><stop offset="0.5353" stop-color="#819294"/><stop offset="0.5491" stop-color="#85888b"/><stop offset="0.589" stop-color="#808285"/><stop offset="1" stop-color="#808285"/></linearGradient><linearGradient id="b59"><stop offset="0" stop-color="#808285"/><stop offset="0.4279" stop-color="#828487"/><stop offset="0.4463" stop-color="#858c8e"/><stop offset="0.4632" stop-color="#78a0a1"/><stop offset="0.4693" stop-color="#70b0b1"/><stop offset="0.4724" stop-color="#6cc0c0"/><stop offset="0.477" stop-color="#6ccaca"/><stop offset="0.4801" stop-color="#52bfbb"/><stop offset="0.4816" stop-color="#3fb7af"/><stop offset="0.4847" stop-color="#208f8b"/><stop offset="0.4862" stop-color="#308080"/><stop offset="0.4877" stop-color="#737c80"/><stop offset="0.4893" stop-color="#be787e"/><stop offset="0.4908" stop-color="#e57077"/><stop offset="0.4923" stop-color="#ee676e"/><stop offset="0.4939" stop-color="#ee666d"/><stop offset="0.4954" stop-color="#e96e75"/><stop offset="0.4969" stop-color="#cb777e"/><stop offset="0.5" stop-color="#3a7f80"/><stop offset="0.5015" stop-color="#208b88"/><stop offset="0.5031" stop-color="#2ba19a"/><stop offset="0.5046" stop-color="#3bb5ad"/><stop offset="0.5061" stop-color="#4fbeb9"/><stop offset="0.5092" stop-color="#6ac9c8"/><stop offset="0.5107" stop-color="#6ec8c8"/><stop offset="0.5153" stop-color="#6dbbbb"/><stop offset="0.5184" stop-color="#72aaab"/><stop offset="0.5322" stop-color="#809395"/><stop offset="0.546" stop-color="#85898b"/><stop offset="0.5844" stop-color="#808285"/><stop offset="1" stop-color="#808285"/></linearGradient><linearGradient id="b60"><stop offset="0" stop-color="#808285"/><stop offset="0.431" stop-color="#828587"/><stop offset="0.4494" stop-color="#848d8f"/><stop offset="0.4647" stop-color="#78a0a2"/><stop offset="0.4693" stop-color="#72abac"/><stop offset="0.4724" stop-color="#6dbcbd"/><stop offset="0.477" stop-color="#6fc9c9"/><stop offset="0.4785" stop-color="#67c8c7"/><stop offset="0.4816" stop-color="#4abcb6"/><stop offset="0.4831" stop-color="#36b0a8"/><stop offset="0.4847" stop-color="#269b95"/><stop offset="0.4862" stop-color="#208584"/><stop offset="0.4877" stop-color="#447f80"/><stop offset="0.4893" stop-color="#8a7a7f"/><stop offset="0.4908" stop-color="#c2787e"/><stop offset="0.4923" stop-color="#dc757c"/><stop offset="0.4939" stop-color="#dd747b"/><stop offset="0.4954" stop-color="#ca777e"/><stop offset="0.4969" stop-color="#98797f"/><stop offset="0.4985" stop-color="#4e7f80"/><stop offset="0.5" stop-color="#1f8181"/><stop offset="0.5015" stop-color="#229790"/><stop offset="0.5031" stop-color="#33aca4"/><stop offset="0.5046" stop-color="#46bab4"/><stop offset="0.5077" stop-color="#65c7c5"/><stop offset="0.5092" stop-color="#6fcaca"/><stop offset="0.5138" stop-color="#6cbfbf"/><stop offset="0.5169" stop-color="#72acad"/><stop offset="0.5276" stop-color="#7d9799"/><stop offset="0.5429" stop-color="#85898b"/><stop offset="0.5798" stop-color="#808285"/><stop offset="1" stop-color="#808285"/></linearGradient><linearGradient id="b61"><stop offset="0" stop-color="#808285"/><stop offset="0.4325" stop-color="#828487"/><stop offset="0.4509" stop-color="#848d8f"/><stop offset="0.4663" stop-color="#77a1a3"/><stop offset="0.4709" stop-color="#71aeaf"/><stop offset="0.4739" stop-color="#6cc0c0"/><stop offset="0.4785" stop-color="#6dcaca"/><stop offset="0.4816" stop-color="#52bfbb"/><stop offset="0.4831" stop-color="#3fb7af"/><stop offset="0.4862" stop-color="#21908b"/><stop offset="0.4877" stop-color="#2a8080"/><stop offset="0.4893" stop-color="#5a7e80"/><stop offset="0.4908" stop-color="#94797f"/><stop offset="0.4923" stop-color="#b2787f"/><stop offset="0.4939" stop-color="#b5787f"/><stop offset="0.4954" stop-color="#9d797f"/><stop offset="0.4985" stop-color="#338080"/><stop offset="0.5" stop-color="#208c88"/><stop offset="0.5015" stop-color="#2aa19a"/><stop offset="0.5031" stop-color="#3bb5ac"/><stop offset="0.5046" stop-color="#4fbeb9"/><stop offset="0.5077" stop-color="#6bc9c9"/><stop offset="0.5107" stop-color="#6dc4c4"/><stop offset="0.5138" stop-color="#6eb9b9"/><stop offset="0.5169" stop-color="#73a9aa"/><stop offset="0.5307" stop-color="#819294"/><stop offset="0.5429" stop-color="#85888b"/><stop offset="0.5798" stop-color="#808285"/><stop offset="1" stop-color="#808285"/></linearGradient><linearGradient id="b62"><stop offset="0" stop-color="#808285"/><stop offset="0.434" stop-color="#828487"/><stop offset="0.4509" stop-color="#858c8e"/><stop offset="0.4663" stop-color="#789fa1"/><stop offset="0.4709" stop-color="#72aaab"/><stop offset="0.4755" stop-color="#6dc1c1"/><stop offset="0.4785" stop-color="#6fcaca"/><stop offset="0.4816" stop-color="#58c2be"/><stop offset="0.4831" stop-color="#48bbb5"/><stop offset="0.4847" stop-color="#35aea6"/><stop offset="0.4862" stop-color="#249993"/><stop offset="0.4877" stop-color="#208584"/><stop offset="0.4893" stop-color="#3c7f80"/><stop offset="0.4908" stop-color="#687d80"/><stop offset="0.4923" stop-color="#887a7f"/><stop offset="0.4939" stop-color="#8b7a7f"/><stop offset="0.4954" stop-color="#707c80"/><stop offset="0.4969" stop-color="#447f80"/><stop offset="0.4985" stop-color="#1f8281"/><stop offset="0.5" stop-color="#21958f"/><stop offset="0.5015" stop-color="#31aaa2"/><stop offset="0.5031" stop-color="#43b9b2"/><stop offset="0.5061" stop-color="#63c6c5"/><stop offset="0.5077" stop-color="#6fcbcb"/><stop offset="0.5123" stop-color="#6cbebe"/><stop offset="0.5153" stop-color="#72abac"/><stop offset="0.5276" stop-color="#7f9496"/><stop offset="0.5414" stop-color="#85888b"/><stop offset="0.5767" stop-color="#808285"/><stop offset="1" stop-color="#808285"/></linearGradient><linearGradient id="b63"><stop offset="0" stop-color="#808285"/><stop offset="0.4356" stop-color="#828487"/><stop offset="0.4525" stop-color="#858c8e"/><stop offset="0.4678" stop-color="#77a1a2"/><stop offset="0.4724" stop-color="#71aeaf"/><stop offset="0.4755" stop-color="#6cc0c0"/><stop offset="0.4785" stop-color="#6ec8c8"/><stop offset="0.4801" stop-color="#6bc9c9"/><stop offset="0.4831" stop-color="#4fbeb9"/><stop offset="0.4847" stop-color="#3bb5ad"/><stop offset="0.4877" stop-color="#208f8a"/><stop offset="0.4893" stop-color="#258080"/><stop offset="0.4908" stop-color="#457f80"/><stop offset="0.4923" stop-color="#5e7e80"/><stop offset="0.4939" stop-color="#617d80"/><stop offset="0.4954" stop-color="#4a7f80"/><stop offset="0.4969" stop-color="#2d8080"/><stop offset="0.4985" stop-color="#208b88"/><stop offset="0.5" stop-color="#289e97"/><stop offset="0.5015" stop-color="#38b2a9"/><stop offset="0.5046" stop-color="#5bc3c0"/><stop offset="0.5061" stop-color="#69c8c7"/><stop offset="0.5077" stop-color="#6ec9c9"/><stop offset="0.5123" stop-color="#6eb9b9"/><stop offset="0.5153" stop-color="#73a9aa"/><stop offset="0.5291" stop-color="#819193"/><stop offset="0.5399" stop-color="#85888b"/><stop offset="0.5736" stop-color="#808285"/><stop offset="1" stop-color="#808285"/></linearGradient><linearGradient id="b64"><stop offset="0" stop-color="#808285"/><stop offset="0.4371" stop-color="#828487"/><stop offset="0.454" stop-color="#848c8e"/><stop offset="0.4678" stop-color="#789fa1"/><stop offset="0.4724" stop-color="#72aaab"/><stop offset="0.4755" stop-color="#6dbdbd"/><stop offset="0.4801" stop-color="#6fcbcb"/><stop offset="0.4831" stop-color="#56c1bd"/><stop offset="0.4847" stop-color="#44b9b2"/><stop offset="0.4862" stop-color="#32aba3"/><stop offset="0.4877" stop-color="#239892"/><stop offset="0.4893" stop-color="#208785"/><stop offset="0.4908" stop-color="#2d8080"/><stop offset="0.4923" stop-color="#3f7f80"/><stop offset="0.4939" stop-color="#417f80"/><stop offset="0.4969" stop-color="#1f8483"/><stop offset="0.4985" stop-color="#21948e"/><stop offset="0.5015" stop-color="#40b7b0"/><stop offset="0.5046" stop-color="#61c5c3"/><stop offset="0.5061" stop-color="#6ecaca"/><stop offset="0.5107" stop-color="#6cbfbf"/><stop offset="0.5138" stop-color="#72abac"/><stop offset="0.5245" stop-color="#7e9597"/><stop offset="0.5383" stop-color="#85898b"/><stop offset="0.5721" stop-color="#808285"/><stop offset="1" stop-color="#808285"/></linearGradient><linearGradient id="b65"><stop offset="0" stop-color="#808285"/><stop offset="0.4387" stop-color="#828487"/><stop offset="0.4555" stop-color="#848d8f"/><stop offset="0.4693" stop-color="#78a0a2"/><stop offset="0.4739" stop-color="#71aeaf"/><stop offset="0.477" stop-color="#6cc0c0"/><stop offset="0.4801" stop-color="#6ec9c9"/><stop offset="0.4816" stop-color="#69c8c8"/><stop offset="0.4847" stop-color="#4cbdb7"/><stop offset="0.4862" stop-color="#39b3aa"/><stop offset="0.4893" stop-color="#21908c"/><stop offset="0.4908" stop-color="#1f8483"/><stop offset="0.4923" stop-color="#278080"/><stop offset="0.4939" stop-color="#298080"/><stop offset="0.4954" stop-color="#1f8281"/><stop offset="0.4969" stop-color="#208e8a"/><stop offset="0.4985" stop-color="#289e97"/><stop offset="0.5" stop-color="#36b0a7"/><stop offset="0.5031" stop-color="#59c2bf"/><stop offset="0.5046" stop-color="#66c7c6"/><stop offset="0.5061" stop-color="#6fcaca"/><stop offset="0.5107" stop-color="#6ebaba"/><stop offset="0.5138" stop-color="#73a9aa"/><stop offset="0.5261" stop-color="#819294"/><stop offset="0.5368" stop-color="#85898b"/><stop offset="0.569" stop-color="#808285"/><stop offset="1" stop-color="#808285"/></linearGradient><linearGradient id="b66"><stop offset="0" stop-color="#808285"/><stop offset="0.4402" stop-color="#828487"/><stop offset="0.4571" stop-color="#848d8f"/><stop offset="0.4709" stop-color="#77a2a3"/><stop offset="0.4739" stop-color="#72aaab"/><stop offset="0.477" stop-color="#6cbebe"/><stop offset="0.4816" stop-color="#6ecbca"/><stop offset="0.4847" stop-color="#53bfbb"/><stop offset="0.4862" stop-color="#41b8b1"/><stop offset="0.4893" stop-color="#259a93"/><stop offset="0.4908" stop-color="#208d8a"/><stop offset="0.4923" stop-color="#208685"/><stop offset="0.4939" stop-color="#208684"/><stop offset="0.4954" stop-color="#208c88"/><stop offset="0.4969" stop-color="#229791"/><stop offset="0.5" stop-color="#3db6ae"/><stop offset="0.5031" stop-color="#5fc4c2"/><stop offset="0.5046" stop-color="#6bcac9"/><stop offset="0.5092" stop-color="#6cbfbf"/><stop offset="0.5123" stop-color="#72abac"/><stop offset="0.523" stop-color="#7f9496"/><stop offset="0.5353" stop-color="#85898b"/><stop offset="0.566" stop-color="#808285"/><stop offset="1" stop-color="#808285"/></linearGradient><linearGradient id="b67"><stop offset="0" stop-color="#808285"/><stop offset="0.4417" stop-color="#828487"/><stop offset="0.4571" stop-color="#858c8e"/><stop offset="0.4709" stop-color="#78a0a2"/><stop offset="0.4755" stop-color="#71aeaf"/><stop offset="0.4785" stop-color="#6cc1c1"/><stop offset="0.4816" stop-color="#6fc9c9"/><stop offset="0.4831" stop-color="#67c8c6"/><stop offset="0.4862" stop-color="#4abcb6"/><stop offset="0.4877" stop-color="#38b3aa"/><stop offset="0.4908" stop-color="#229791"/><stop offset="0.4923" stop-color="#21908b"/><stop offset="0.4939" stop-color="#208f8b"/><stop offset="0.4954" stop-color="#21958f"/><stop offset="0.4985" stop-color="#36afa7"/><stop offset="0.5015" stop-color="#56c1bd"/><stop offset="0.5046" stop-color="#6fcaca"/><stop offset="0.5092" stop-color="#6dbbbb"/><stop offset="0.5123" stop-color="#73a9aa"/><stop offset="0.5245" stop-color="#819193"/><stop offset="0.5353" stop-color="#84888a"/><stop offset="0.566" stop-color="#808285"/><stop offset="1" stop-color="#808285"/></linearGradient><linearGradient id="b68"><stop offset="0" stop-color="#808285"/><stop offset="0.4433" stop-color="#828487"/><stop offset="0.4586" stop-color="#848c8e"/><stop offset="0.4724" stop-color="#77a2a3"/><stop offset="0.4755" stop-color="#72aaab"/><stop offset="0.4785" stop-color="#6cbfbf"/><stop offset="0.4831" stop-color="#6ccac9"/><stop offset="0.4877" stop-color="#40b8b0"/><stop offset="0.4908" stop-color="#2aa099"/><stop offset="0.4923" stop-color="#249993"/><stop offset="0.4939" stop-color="#249992"/><stop offset="0.4954" stop-color="#289f98"/><stop offset="0.4985" stop-color="#3db6ae"/><stop offset="0.5031" stop-color="#69c9c8"/><stop offset="0.5046" stop-color="#6ec8c8"/><stop offset="0.5077" stop-color="#6cc0c0"/><stop offset="0.5107" stop-color="#72acad"/><stop offset="0.5199" stop-color="#7e9698"/><stop offset="0.5322" stop-color="#85898b"/><stop offset="0.5613" stop-color="#808285"/><stop offset="1" stop-color="#808285"/></linearGradient><linearGradient id="b69"><stop offset="0" stop-color="#808285"/><stop offset="0.4448" stop-color="#828487"/><stop offset="0.4601" stop-color="#848d8f"/><stop offset="0.4724" stop-color="#78a0a1"/><stop offset="0.477" stop-color="#71afaf"/><stop offset="0.4801" stop-color="#6cc1c1"/><stop offset="0.4831" stop-color="#6fcaca"/><stop offset="0.4862" stop-color="#58c1be"/><stop offset="0.4893" stop-color="#3ab5ac"/><stop offset="0.4923" stop-color="#2ca39c"/><stop offset="0.4939" stop-color="#2ca39b"/><stop offset="0.4969" stop-color="#38b2aa"/><stop offset="0.5031" stop-color="#6fcbcb"/><stop offset="0.5077" stop-color="#6dbcbc"/><stop offset="0.5107" stop-color="#73a9aa"/><stop offset="0.523" stop-color="#829092"/><stop offset="0.5322" stop-color="#85888a"/><stop offset="0.5613" stop-color="#808285"/><stop offset="1" stop-color="#808285"/></linearGradient><linearGradient id="b70"><stop offset="0" stop-color="#808285"/><stop offset="0.4479" stop-color="#828587"/><stop offset="0.4617" stop-color="#848d8f"/><stop offset="0.4739" stop-color="#77a1a3"/><stop offset="0.477" stop-color="#72aaab"/><stop offset="0.4801" stop-color="#6cbfbf"/><stop offset="0.4831" stop-color="#6ec7c7"/><stop offset="0.4847" stop-color="#6bcac9"/><stop offset="0.4908" stop-color="#39b4ab"/><stop offset="0.4923" stop-color="#35aea6"/><stop offset="0.4939" stop-color="#34ada5"/><stop offset="0.4954" stop-color="#38b3aa"/><stop offset="0.5015" stop-color="#69c9c8"/><stop offset="0.5031" stop-color="#6ec8c8"/><stop offset="0.5061" stop-color="#6cc0c0"/><stop offset="0.5092" stop-color="#72abac"/><stop offset="0.5199" stop-color="#809395"/><stop offset="0.5307" stop-color="#85888a"/><stop offset="0.5583" stop-color="#808285"/><stop offset="1" stop-color="#808285"/></linearGradient><linearGradient id="b71"><stop offset="0" stop-color="#808285"/><stop offset="0.4494" stop-color="#828487"/><stop offset="0.4632" stop-color="#848d8f"/><stop offset="0.4755" stop-color="#77a2a4"/><stop offset="0.4785" stop-color="#72adad"/><stop offset="0.4816" stop-color="#6cc0c0"/><stop offset="0.4847" stop-color="#6fc9c9"/><stop offset="0.4877" stop-color="#5cc3c0"/><stop offset="0.4908" stop-color="#47bab4"/><stop offset="0.4923" stop-color="#40b8b0"/><stop offset="0.4939" stop-color="#3fb7af"/><stop offset="0.4969" stop-color="#4fbeb9"/><stop offset="0.5015" stop-color="#6fcaca"/><stop offset="0.5061" stop-color="#6ebaba"/><stop offset="0.5092" stop-color="#74a8a9"/><stop offset="0.5215" stop-color="#838f91"/><stop offset="0.5291" stop-color="#85888a"/><stop offset="0.5552" stop-color="#808285"/><stop offset="1" stop-color="#808285"/></linearGradient><linearGradient id="b72"><stop offset="0" stop-color="#808285"/><stop offset="0.4525" stop-color="#828587"/><stop offset="0.4647" stop-color="#848c8e"/><stop offset="0.477" stop-color="#76a3a4"/><stop offset="0.4801" stop-color="#71afaf"/><stop offset="0.4831" stop-color="#6dc1c1"/><stop offset="0.4862" stop-color="#6fcaca"/><stop offset="0.4908" stop-color="#54c0bc"/><stop offset="0.4939" stop-color="#4fbeb9"/><stop offset="0.4969" stop-color="#5bc3c0"/><stop offset="0.5" stop-color="#6fcbcb"/><stop offset="0.5046" stop-color="#6dbcbd"/><stop offset="0.5077" stop-color="#73a9aa"/><stop offset="0.5184" stop-color="#819193"/><stop offset="0.5261" stop-color="#85898b"/><stop offset="0.5506" stop-color="#808285"/><stop offset="1" stop-color="#808285"/></linearGradient><linearGradient id="b73"><stop offset="0" stop-color="#808285"/><stop offset="0.454" stop-color="#828487"/><stop offset="0.4663" stop-color="#858c8e"/><stop offset="0.477" stop-color="#789fa1"/><stop offset="0.4816" stop-color="#71afb0"/><stop offset="0.4847" stop-color="#6dc2c2"/><stop offset="0.4877" stop-color="#6fcaca"/><stop offset="0.4923" stop-color="#5dc4c1"/><stop offset="0.4954" stop-color="#60c5c3"/><stop offset="0.4985" stop-color="#6fcbcb"/><stop offset="0.5031" stop-color="#6cbdbe"/><stop offset="0.5061" stop-color="#73a9aa"/><stop offset="0.5169" stop-color="#829092"/><stop offset="0.5245" stop-color="#85888a"/><stop offset="0.5475" stop-color="#808285"/><stop offset="1" stop-color="#808285"/></linearGradient><linearGradient id="b74"><stop offset="0" stop-color="#808285"/><stop offset="0.4571" stop-color="#828487"/><stop offset="0.4693" stop-color="#848d8f"/><stop offset="0.4801" stop-color="#76a3a4"/><stop offset="0.4831" stop-color="#71afb0"/><stop offset="0.4862" stop-color="#6dc1c1"/><stop offset="0.4908" stop-color="#6ecbcb"/><stop offset="0.4939" stop-color="#6ac9c8"/><stop offset="0.4969" stop-color="#6fc9c9"/><stop offset="0.5015" stop-color="#6dbdbd"/><stop offset="0.5046" stop-color="#73a9aa"/><stop offset="0.5153" stop-color="#828f91"/><stop offset="0.5215" stop-color="#85898b"/><stop offset="0.5429" stop-color="#808285"/><stop offset="1" stop-color="#808285"/></linearGradient><linearGradient id="b75"><stop offset="0" stop-color="#808285"/><stop offset="0.4601" stop-color="#828487"/><stop offset="0.4709" stop-color="#858c8e"/><stop offset="0.4816" stop-color="#77a2a4"/><stop offset="0.4847" stop-color="#71aeaf"/><stop offset="0.4877" stop-color="#6cc0c0"/><stop offset="0.4939" stop-color="#6ec7c7"/><stop offset="0.4985" stop-color="#6cc1c1"/><stop offset="0.5046" stop-color="#76a3a4"/><stop offset="0.5153" stop-color="#848c8e"/><stop offset="0.5337" stop-color="#808285"/><stop offset="1" stop-color="#808285"/></linearGradient><linearGradient id="b76"><stop offset="0" stop-color="#808285"/><stop offset="0.4632" stop-color="#828487"/><stop offset="0.4739" stop-color="#848d8f"/><stop offset="0.4847" stop-color="#75a6a8"/><stop offset="0.4893" stop-color="#6cbebf"/><stop offset="0.4954" stop-color="#6dc1c1"/><stop offset="0.4969" stop-color="#6cbfbf"/><stop offset="0.5015" stop-color="#74a7a8"/><stop offset="0.5123" stop-color="#838e90"/><stop offset="0.5184" stop-color="#84878a"/><stop offset="0.5383" stop-color="#808285"/><stop offset="1" stop-color="#808285"/></linearGradient><linearGradient id="b77"><stop offset="0" stop-color="#808285"/><stop offset="0.4663" stop-color="#828487"/><stop offset="0.4755" stop-color="#848c8e"/><stop offset="0.4877" stop-color="#73a9aa"/><stop offset="0.4923" stop-color="#6eb9b9"/><stop offset="0.4954" stop-color="#6fb6b7"/><stop offset="0.5031" stop-color="#799d9f"/><stop offset="0.5138" stop-color="#85898b"/><stop offset="0.5307" stop-color="#808285"/><stop offset="1" stop-color="#808285"/></linearGradient><linearGradient id="b78"><stop offset="0" stop-color="#808285"/><stop offset="0.4693" stop-color="#828487"/><stop offset="0.4785" stop-color="#848d8f"/><stop offset="0.4923" stop-color="#73aaab"/><stop offset="0.4985" stop-color="#76a3a4"/><stop offset="0.5107" stop-color="#86898c"/><stop offset="0.5261" stop-color="#808285"/><stop offset="1" stop-color="#808285"/></linearGradient><linearGradient id="b79"><stop offset="0" stop-color="#808285"/><stop offset="0.4724" stop-color="#828487"/><stop offset="0.4801" stop-color="#858c8e"/><stop offset="0.4923" stop-color="#77a2a4"/><stop offset="0.4985" stop-color="#7a9c9e"/><stop offset="0.5077" stop-color="#868a8c"/><stop offset="0.523" stop-color="#808285"/><stop offset="1" stop-color="#808285"/></linearGradient><linearGradient id="b80"><stop offset="0" stop-color="#808285"/><stop offset="0.4739" stop-color="#818486"/><stop offset="0.4831" stop-color="#848d8f"/><stop offset="0.4923" stop-color="#7a9c9e"/><stop offset="0.4985" stop-color="#7d9698"/><stop offset="0.5061" stop-color="#85898b"/><stop offset="0.5199" stop-color="#808285"/><stop offset="1" stop-color="#808285"/></linearGradient><linearGradient id="b81"><stop offset="0" stop-color="#808285"/><stop offset="0.477" stop-color="#818486"/><stop offset="0.4847" stop-color="#858b8d"/><stop offset="0.4939" stop-color="#7e9698"/><stop offset="0.5046" stop-color="#84888a"/><stop offset="0.5169" stop-color="#808285"/><stop offset="1" stop-color="#808285"/></linearGradient><linearGradient id="b82"><stop offset="0" stop-color="#808285"/><stop offset="0.4801" stop-color="#818487"/><stop offset="0.4877" stop-color="#858b8d"/><stop offset="0.4954" stop-color="#838f91"/><stop offset="0.5015" stop-color="#85888a"/><stop offset="0.5138" stop-color="#808285"/><stop offset="1" stop-color="#808285"/></linearGradient><linearGradient id="b83"><stop offset="0" stop-color="#808285"/><stop offset="0.4831" stop-color="#818487"/><stop offset="0.4954" stop-color="#868a8c"/><stop offset="0.5107" stop-color="#808285"/><stop offset="1" stop-color="#808285"/></linearGradient><linearGradient id="b84"><stop offset="0" stop-color="#808285"/><stop offset="0.4862" stop-color="#818487"/><stop offset="0.4969" stop-color="#838688"/><stop offset="0.5138" stop-color="#808285"/><stop offset="1" stop-color="#808285"/></linearGradient><linearGradient id="b85"><stop offset="0" stop-color="#808285"/><stop offset="1" stop-color="#808285"/></linearGradient><linearGradient id="b86"><stop offset="0" stop-color="#808285"/><stop offset="1" stop-color="#808285"/></linearGradient><linearGradient id="b87"><stop offset="0" stop-color="#808285"/><stop offset="1" stop-color="#808285"/></linearGradient><linearGradient id="b88"><stop offset="0" stop-color="#808285"/><stop offset="1" stop-color="#808285"/></linearGradient><linearGradient id="b89"><stop offset="0" stop-color="#808285"/><stop offset="1" stop-color="#808285"/></linearGradient><linearGradient id="b90"><stop offset="0" stop-color="#808285"/><stop offset="1" stop-color="#808285"/></linearGradient><linearGradient id="b91"><stop offset="0" stop-color="#808285"/><stop offset="1" stop-color="#808285"/></linearGradient><linearGradient id="b92"><stop offset="0" stop-color="#808285"/><stop offset="1" stop-color="#808285"/></linearGradient><linearGradient id="b93"><stop offset="0" stop-color="#808285"/><stop offset="1" stop-color="#808285"/></linearGradient><linearGradient id="b94"><stop offset="0" stop-color="#808285"/><stop offset="1" stop-color="#808285"/></linearGradient><linearGradient id="b95"><stop offset="0" stop-color="#808285"/><stop offset="1" stop-color="#808285"/></linearGradient><linearGradient id="b96"><stop offset="0" stop-color="#808285"/><stop offset="1" stop-color="#808285"/></linearGradient><linearGradient id="b97"><stop offset="0" stop-color="#808285"/><stop offset="1" stop-color="#808285"/></linearGradient><linearGradient id="b98"><stop offset="0" stop-color="#808285"/><stop offset="1" stop-color="#808285"/></linearGradient><linearGradient id="b99"><stop offset="0" stop-color="#808285"/><stop offset="1" stop-color="#808285"/></linearGradient><linearGradient id="b100"><stop offset="0" stop-color="#808285"/><stop offset="1" stop-color="#808285"/></linearGradient><linearGradient id="b101"><stop offset="0" stop-color="#808285"/><stop offset="1" stop-color="#808285"/></linearGradient><linearGradient id="b102"><stop offset="0" stop-color="#808285"/><stop offset="1" stop-color="#808285"/></linearGradient><linearGradient id="cb1" x1="0" y1="0" x2="0" y2="1"><stop offset="0.0000" stop-color="#EE2A22"/><stop offset="0.0730" stop-color="#F04E2A"/><stop offset="0.1200" stop-color="#F37A2A"/><stop offset="0.1670" stop-color="#F9A72B"/><stop offset="0.2130" stop-color="#FCD22F"/><stop offset="0.2500" stop-color="#F5E13A"/><stop offset="0.2700" stop-color="#D4DC3C"/><stop offset="0.2900" stop-color="#A5CF3F"/><stop offset="0.3390" stop-color="#86C540"/><stop offset="0.4140" stop-color="#74BF43"/><stop offset="0.5090" stop-color="#62BB46"/><stop offset="0.5840" stop-color="#58B957"/><stop offset="0.6290" stop-color="#55B870"/><stop offset="0.6740" stop-color="#4DB89E"/><stop offset="0.7340" stop-color="#3FB5C8"/><stop offset="0.7780" stop-color="#27AAE1"/><stop offset="0.8280" stop-color="#2A8FD3"/><stop offset="0.8730" stop-color="#2B74C0"/><stop offset="0.9280" stop-color="#2A5DB0"/><stop offset="0.9880" stop-color="#2450A4"/><stop offset="1.0000" stop-color="#234EA2"/></linearGradient><linearGradient id="cb2" x1="0" y1="0" x2="0" y2="1"><stop offset="0.0000" stop-color="#EE2D2E"/><stop offset="0.1140" stop-color="#EF4B52"/><stop offset="0.2190" stop-color="#EE6B72"/><stop offset="0.2710" stop-color="#D9777E"/><stop offset="0.3350" stop-color="#99797F"/><stop offset="0.3990" stop-color="#4E7F80"/><stop offset="0.4650" stop-color="#1F8080"/><stop offset="0.5300" stop-color="#21958F"/><stop offset="0.6200" stop-color="#3AB5AC"/><stop offset="0.6660" stop-color="#4DBDB8"/><stop offset="0.7650" stop-color="#6FCBCB"/><stop offset="0.8400" stop-color="#6CBFBF"/><stop offset="0.8750" stop-color="#72ABAC"/><stop offset="0.9270" stop-color="#7B9A9C"/><stop offset="0.9850" stop-color="#808285"/><stop offset="1.0000" stop-color="#808285"/></linearGradient></defs>
<rect width="520" height="643" fill="#fff"/>
<g shape-rendering="crispEdges"><rect x="116" y="103" width="326" height="2.6" fill="url(#a0)"/><rect x="116" y="105" width="326" height="2.6" fill="url(#a1)"/><rect x="116" y="107" width="326" height="2.6" fill="url(#a2)"/><rect x="116" y="109" width="326" height="2.6" fill="url(#a3)"/><rect x="116" y="111" width="326" height="2.6" fill="url(#a4)"/><rect x="116" y="113" width="326" height="2.6" fill="url(#a5)"/><rect x="116" y="115" width="326" height="2.6" fill="url(#a6)"/><rect x="116" y="117" width="326" height="2.6" fill="url(#a7)"/><rect x="116" y="119" width="326" height="2.6" fill="url(#a8)"/><rect x="116" y="121" width="326" height="2.6" fill="url(#a9)"/><rect x="116" y="123" width="326" height="2.6" fill="url(#a10)"/><rect x="116" y="125" width="326" height="2.6" fill="url(#a11)"/><rect x="116" y="127" width="326" height="2.6" fill="url(#a12)"/><rect x="116" y="129" width="326" height="2.6" fill="url(#a13)"/><rect x="116" y="131" width="326" height="2.6" fill="url(#a14)"/><rect x="116" y="133" width="326" height="2.6" fill="url(#a15)"/><rect x="116" y="135" width="326" height="2.6" fill="url(#a16)"/><rect x="116" y="137" width="326" height="2.6" fill="url(#a17)"/><rect x="116" y="139" width="326" height="2.6" fill="url(#a18)"/><rect x="116" y="141" width="326" height="2.6" fill="url(#a19)"/><rect x="116" y="143" width="326" height="2.6" fill="url(#a20)"/><rect x="116" y="145" width="326" height="2.6" fill="url(#a21)"/><rect x="116" y="147" width="326" height="2.6" fill="url(#a22)"/><rect x="116" y="149" width="326" height="2.6" fill="url(#a23)"/><rect x="116" y="151" width="326" height="2.6" fill="url(#a24)"/><rect x="116" y="153" width="326" height="2.6" fill="url(#a25)"/><rect x="116" y="155" width="326" height="2.6" fill="url(#a26)"/><rect x="116" y="157" width="326" height="2.6" fill="url(#a27)"/><rect x="116" y="159" width="326" height="2.6" fill="url(#a28)"/><rect x="116" y="161" width="326" height="2.6" fill="url(#a29)"/><rect x="116" y="163" width="326" height="2.6" fill="url(#a30)"/><rect x="116" y="165" width="326" height="2.6" fill="url(#a31)"/><rect x="116" y="167" width="326" height="2.6" fill="url(#a32)"/><rect x="116" y="169" width="326" height="2.6" fill="url(#a33)"/><rect x="116" y="171" width="326" height="2.6" fill="url(#a34)"/><rect x="116" y="173" width="326" height="2.6" fill="url(#a35)"/><rect x="116" y="175" width="326" height="2.6" fill="url(#a36)"/><rect x="116" y="177" width="326" height="2.6" fill="url(#a37)"/><rect x="116" y="179" width="326" height="2.6" fill="url(#a38)"/><rect x="116" y="181" width="326" height="2.6" fill="url(#a39)"/><rect x="116" y="183" width="326" height="2.6" fill="url(#a40)"/><rect x="116" y="185" width="326" height="2.6" fill="url(#a41)"/><rect x="116" y="187" width="326" height="2.6" fill="url(#a42)"/><rect x="116" y="189" width="326" height="2.6" fill="url(#a43)"/><rect x="116" y="191" width="326" height="2.6" fill="url(#a44)"/><rect x="116" y="193" width="326" height="2.6" fill="url(#a45)"/><rect x="116" y="195" width="326" height="2.6" fill="url(#a46)"/><rect x="116" y="197" width="326" height="2.6" fill="url(#a47)"/><rect x="116" y="199" width="326" height="2.6" fill="url(#a48)"/><rect x="116" y="201" width="326" height="2.6" fill="url(#a49)"/><rect x="116" y="203" width="326" height="2.6" fill="url(#a50)"/><rect x="116" y="205" width="326" height="2.6" fill="url(#a51)"/><rect x="116" y="207" width="326" height="2.6" fill="url(#a52)"/><rect x="116" y="209" width="326" height="2.6" fill="url(#a53)"/><rect x="116" y="211" width="326" height="2.6" fill="url(#a54)"/><rect x="116" y="213" width="326" height="2.6" fill="url(#a55)"/><rect x="116" y="215" width="326" height="2.6" fill="url(#a56)"/><rect x="116" y="217" width="326" height="2.6" fill="url(#a57)"/><rect x="116" y="219" width="326" height="2.6" fill="url(#a58)"/><rect x="116" y="221" width="326" height="2.6" fill="url(#a59)"/><rect x="116" y="223" width="326" height="2.6" fill="url(#a60)"/><rect x="116" y="225" width="326" height="2.6" fill="url(#a61)"/><rect x="116" y="227" width="326" height="2.6" fill="url(#a62)"/><rect x="116" y="229" width="326" height="2.6" fill="url(#a63)"/><rect x="116" y="231" width="326" height="2.6" fill="url(#a64)"/><rect x="116" y="233" width="326" height="2.6" fill="url(#a65)"/><rect x="116" y="235" width="326" height="2.6" fill="url(#a66)"/><rect x="116" y="237" width="326" height="2.6" fill="url(#a67)"/><rect x="116" y="239" width="326" height="2.6" fill="url(#a68)"/><rect x="116" y="241" width="326" height="2.6" fill="url(#a69)"/><rect x="116" y="243" width="326" height="2.6" fill="url(#a70)"/><rect x="116" y="245" width="326" height="2.6" fill="url(#a71)"/><rect x="116" y="247" width="326" height="2.6" fill="url(#a72)"/><rect x="116" y="249" width="326" height="2.6" fill="url(#a73)"/><rect x="116" y="251" width="326" height="2.6" fill="url(#a74)"/><rect x="116" y="253" width="326" height="2.6" fill="url(#a75)"/><rect x="116" y="255" width="326" height="2.6" fill="url(#a76)"/><rect x="116" y="257" width="326" height="2.6" fill="url(#a77)"/><rect x="116" y="259" width="326" height="2.6" fill="url(#a78)"/><rect x="116" y="261" width="326" height="2.6" fill="url(#a79)"/><rect x="116" y="263" width="326" height="2.6" fill="url(#a80)"/><rect x="116" y="265" width="326" height="2.6" fill="url(#a81)"/><rect x="116" y="267" width="326" height="2.6" fill="url(#a82)"/><rect x="116" y="269" width="326" height="2.6" fill="url(#a83)"/><rect x="116" y="271" width="326" height="2.6" fill="url(#a84)"/><rect x="116" y="273" width="326" height="2.6" fill="url(#a85)"/><rect x="116" y="275" width="326" height="2.6" fill="url(#a86)"/><rect x="116" y="277" width="326" height="2.6" fill="url(#a87)"/><rect x="116" y="279" width="326" height="2.6" fill="url(#a88)"/><rect x="116" y="281" width="326" height="2.6" fill="url(#a89)"/><rect x="116" y="283" width="326" height="2.6" fill="url(#a90)"/><rect x="116" y="285" width="326" height="2.6" fill="url(#a91)"/><rect x="116" y="287" width="326" height="2.6" fill="url(#a92)"/><rect x="116" y="289" width="326" height="2.6" fill="url(#a93)"/><rect x="116" y="291" width="326" height="2.6" fill="url(#a94)"/><rect x="116" y="293" width="326" height="2.6" fill="url(#a95)"/><rect x="116" y="295" width="326" height="2.6" fill="url(#a96)"/><rect x="116" y="297" width="326" height="2.6" fill="url(#a97)"/><rect x="116" y="299" width="326" height="2.6" fill="url(#a98)"/><rect x="116" y="301" width="326" height="2.6" fill="url(#a99)"/><rect x="116" y="303" width="326" height="2.6" fill="url(#a100)"/><rect x="116" y="305" width="326" height="2.6" fill="url(#a101)"/><rect x="116" y="307" width="326" height="2.6" fill="url(#a102)"/><rect x="116" y="309" width="326" height="2.6" fill="url(#a103)"/><rect x="116" y="311" width="326" height="2.6" fill="url(#a104)"/><rect x="116" y="313" width="326" height="2.6" fill="url(#a105)"/><rect x="116" y="315" width="326" height="2.6" fill="url(#a106)"/><rect x="116" y="317" width="326" height="2.6" fill="url(#a107)"/><rect x="116" y="319" width="326" height="2.6" fill="url(#a108)"/><rect x="116" y="321" width="326" height="2.6" fill="url(#a109)"/><rect x="116" y="323" width="326" height="2.6" fill="url(#a110)"/><rect x="116" y="325" width="326" height="2.6" fill="url(#a111)"/><rect x="116" y="327" width="326" height="2.6" fill="url(#a112)"/><rect x="116" y="329" width="326" height="2.6" fill="url(#a113)"/><rect x="116" y="331" width="326" height="2.6" fill="url(#a114)"/><rect x="116" y="333" width="326" height="2.6" fill="url(#a115)"/><rect x="116" y="335" width="326" height="2.6" fill="url(#a116)"/><rect x="116" y="337" width="326" height="2.6" fill="url(#a117)"/><rect x="116" y="339" width="326" height="2.6" fill="url(#a118)"/><rect x="116" y="341" width="326" height="2.6" fill="url(#a119)"/><rect x="116" y="343" width="326" height="2.6" fill="url(#a120)"/><rect x="116" y="345" width="326" height="2.6" fill="url(#a121)"/><rect x="116" y="347" width="326" height="2.6" fill="url(#a122)"/><rect x="116" y="349" width="326" height="2.6" fill="url(#a123)"/><rect x="116" y="351" width="326" height="2.6" fill="url(#a124)"/></g>
<rect x="110" y="352.4" width="340" height="5.2" fill="#fff"/>
<g shape-rendering="crispEdges"><rect x="115" y="357.6" width="326" height="2.6" fill="url(#b0)"/><rect x="115" y="359.6" width="326" height="2.6" fill="url(#b1)"/><rect x="115" y="361.6" width="326" height="2.6" fill="url(#b2)"/><rect x="115" y="363.6" width="326" height="2.6" fill="url(#b3)"/><rect x="115" y="365.6" width="326" height="2.6" fill="url(#b4)"/><rect x="115" y="367.6" width="326" height="2.6" fill="url(#b5)"/><rect x="115" y="369.6" width="326" height="2.6" fill="url(#b6)"/><rect x="115" y="371.6" width="326" height="2.6" fill="url(#b7)"/><rect x="115" y="373.6" width="326" height="2.6" fill="url(#b8)"/><rect x="115" y="375.6" width="326" height="2.6" fill="url(#b9)"/><rect x="115" y="377.6" width="326" height="2.6" fill="url(#b10)"/><rect x="115" y="379.6" width="326" height="2.6" fill="url(#b11)"/><rect x="115" y="381.6" width="326" height="2.6" fill="url(#b12)"/><rect x="115" y="383.6" width="326" height="2.6" fill="url(#b13)"/><rect x="115" y="385.6" width="326" height="2.6" fill="url(#b14)"/><rect x="115" y="387.6" width="326" height="2.6" fill="url(#b15)"/><rect x="115" y="389.6" width="326" height="2.6" fill="url(#b16)"/><rect x="115" y="391.6" width="326" height="2.6" fill="url(#b17)"/><rect x="115" y="393.6" width="326" height="2.6" fill="url(#b18)"/><rect x="115" y="395.6" width="326" height="2.6" fill="url(#b19)"/><rect x="115" y="397.6" width="326" height="2.6" fill="url(#b20)"/><rect x="115" y="399.6" width="326" height="2.6" fill="url(#b21)"/><rect x="115" y="401.6" width="326" height="2.6" fill="url(#b22)"/><rect x="115" y="403.6" width="326" height="2.6" fill="url(#b23)"/><rect x="115" y="405.6" width="326" height="2.6" fill="url(#b24)"/><rect x="115" y="407.6" width="326" height="2.6" fill="url(#b25)"/><rect x="115" y="409.6" width="326" height="2.6" fill="url(#b26)"/><rect x="115" y="411.6" width="326" height="2.6" fill="url(#b27)"/><rect x="115" y="413.6" width="326" height="2.6" fill="url(#b28)"/><rect x="115" y="415.6" width="326" height="2.6" fill="url(#b29)"/><rect x="115" y="417.6" width="326" height="2.6" fill="url(#b30)"/><rect x="115" y="419.6" width="326" height="2.6" fill="url(#b31)"/><rect x="115" y="421.6" width="326" height="2.6" fill="url(#b32)"/><rect x="115" y="423.6" width="326" height="2.6" fill="url(#b33)"/><rect x="115" y="425.6" width="326" height="2.6" fill="url(#b34)"/><rect x="115" y="427.6" width="326" height="2.6" fill="url(#b35)"/><rect x="115" y="429.6" width="326" height="2.6" fill="url(#b36)"/><rect x="115" y="431.6" width="326" height="2.6" fill="url(#b37)"/><rect x="115" y="433.6" width="326" height="2.6" fill="url(#b38)"/><rect x="115" y="435.6" width="326" height="2.6" fill="url(#b39)"/><rect x="115" y="437.6" width="326" height="2.6" fill="url(#b40)"/><rect x="115" y="439.6" width="326" height="2.6" fill="url(#b41)"/><rect x="115" y="441.6" width="326" height="2.6" fill="url(#b42)"/><rect x="115" y="443.6" width="326" height="2.6" fill="url(#b43)"/><rect x="115" y="445.6" width="326" height="2.6" fill="url(#b44)"/><rect x="115" y="447.6" width="326" height="2.6" fill="url(#b45)"/><rect x="115" y="449.6" width="326" height="2.6" fill="url(#b46)"/><rect x="115" y="451.6" width="326" height="2.6" fill="url(#b47)"/><rect x="115" y="453.6" width="326" height="2.6" fill="url(#b48)"/><rect x="115" y="455.6" width="326" height="2.6" fill="url(#b49)"/><rect x="115" y="457.6" width="326" height="2.6" fill="url(#b50)"/><rect x="115" y="459.6" width="326" height="2.6" fill="url(#b51)"/><rect x="115" y="461.6" width="326" height="2.6" fill="url(#b52)"/><rect x="115" y="463.6" width="326" height="2.6" fill="url(#b53)"/><rect x="115" y="465.6" width="326" height="2.6" fill="url(#b54)"/><rect x="115" y="467.6" width="326" height="2.6" fill="url(#b55)"/><rect x="115" y="469.6" width="326" height="2.6" fill="url(#b56)"/><rect x="115" y="471.6" width="326" height="2.6" fill="url(#b57)"/><rect x="115" y="473.6" width="326" height="2.6" fill="url(#b58)"/><rect x="115" y="475.6" width="326" height="2.6" fill="url(#b59)"/><rect x="115" y="477.6" width="326" height="2.6" fill="url(#b60)"/><rect x="115" y="479.6" width="326" height="2.6" fill="url(#b61)"/><rect x="115" y="481.6" width="326" height="2.6" fill="url(#b62)"/><rect x="115" y="483.6" width="326" height="2.6" fill="url(#b63)"/><rect x="115" y="485.6" width="326" height="2.6" fill="url(#b64)"/><rect x="115" y="487.6" width="326" height="2.6" fill="url(#b65)"/><rect x="115" y="489.6" width="326" height="2.6" fill="url(#b66)"/><rect x="115" y="491.6" width="326" height="2.6" fill="url(#b67)"/><rect x="115" y="493.6" width="326" height="2.6" fill="url(#b68)"/><rect x="115" y="495.6" width="326" height="2.6" fill="url(#b69)"/><rect x="115" y="497.6" width="326" height="2.6" fill="url(#b70)"/><rect x="115" y="499.6" width="326" height="2.6" fill="url(#b71)"/><rect x="115" y="501.6" width="326" height="2.6" fill="url(#b72)"/><rect x="115" y="503.6" width="326" height="2.6" fill="url(#b73)"/><rect x="115" y="505.6" width="326" height="2.6" fill="url(#b74)"/><rect x="115" y="507.6" width="326" height="2.6" fill="url(#b75)"/><rect x="115" y="509.6" width="326" height="2.6" fill="url(#b76)"/><rect x="115" y="511.6" width="326" height="2.6" fill="url(#b77)"/><rect x="115" y="513.6" width="326" height="2.6" fill="url(#b78)"/><rect x="115" y="515.6" width="326" height="2.6" fill="url(#b79)"/><rect x="115" y="517.6" width="326" height="2.6" fill="url(#b80)"/><rect x="115" y="519.6" width="326" height="2.6" fill="url(#b81)"/><rect x="115" y="521.6" width="326" height="2.6" fill="url(#b82)"/><rect x="115" y="523.6" width="326" height="2.6" fill="url(#b83)"/><rect x="115" y="525.6" width="326" height="2.6" fill="url(#b84)"/><rect x="115" y="527.6" width="326" height="2.6" fill="url(#b85)"/><rect x="115" y="529.6" width="326" height="2.6" fill="url(#b86)"/><rect x="115" y="531.6" width="326" height="2.6" fill="url(#b87)"/><rect x="115" y="533.6" width="326" height="2.6" fill="url(#b88)"/><rect x="115" y="535.6" width="326" height="2.6" fill="url(#b89)"/><rect x="115" y="537.6" width="326" height="2.6" fill="url(#b90)"/><rect x="115" y="539.6" width="326" height="2.6" fill="url(#b91)"/><rect x="115" y="541.6" width="326" height="2.6" fill="url(#b92)"/><rect x="115" y="543.6" width="326" height="2.6" fill="url(#b93)"/><rect x="115" y="545.6" width="326" height="2.6" fill="url(#b94)"/><rect x="115" y="547.6" width="326" height="2.6" fill="url(#b95)"/><rect x="115" y="549.6" width="326" height="2.6" fill="url(#b96)"/><rect x="115" y="551.6" width="326" height="2.6" fill="url(#b97)"/><rect x="115" y="553.6" width="326" height="2.6" fill="url(#b98)"/><rect x="115" y="555.6" width="326" height="2.6" fill="url(#b99)"/><rect x="115" y="557.6" width="326" height="2.6" fill="url(#b100)"/><rect x="115" y="559.6" width="326" height="2.6" fill="url(#b101)"/><rect x="115" y="561.6" width="326" height="1" fill="url(#b102)"/></g>
<path d="M140.6 443C142 438 146 435 153 432C162 428 170 421.5 177.5 417C188 411 199 405.5 208.3 400C214 396.5 219 393 223.7 389C230 383.5 235 378 239 372C242 367.5 245 363 250 357.6 H273 V526 H246 C243.5 522.5 241.5 518.5 239 514C235 507.5 230 501 223.7 495C219 490.5 214 486.5 208.3 483C199 478 188 473 177.5 467.7C170 463.5 162 458 153 454C146 451 142 448 140.6 443 Z" fill="#d0ecec" fill-opacity="0.045"/>
<path d="M140.6 443C142 438 146 435 153 432C162 428 170 421.5 177.5 417C188 411 199 405.5 208.3 400C214 396.5 219 393 223.7 389C230 383.5 235 378 239 372C242 367.5 245 363 250 357.6" fill="none" stroke="#fff" stroke-opacity="0.05"/>
<path d="M140.6 443C142 448 146 451 153 454C162 458 170 463.5 177.5 467.7C188 473 199 478 208.3 483C214 486.5 219 490.5 223.7 495C230 501 235 507.5 239 514C241.5 518.5 243.5 522.5 246 526" fill="none" stroke="#fff" stroke-opacity="0.05"/>
<rect x="110" y="562" width="340" height="10" fill="#fff"/>
<rect x="116" y="145.9" width="326" height="4.3" fill="#fff"/>
<rect x="116" y="281.8" width="326" height="4.2" fill="#fff"/>
<rect x="115" y="526.0" width="326" height="4.6" fill="#fff"/>
<rect x="451.7" y="127.9" width="16" height="200.6" fill="url(#cb1)"/>
<rect x="450.3" y="365.6" width="15.9" height="171.7" fill="url(#cb2)"/>
<g stroke="#1a1516" fill="none" stroke-linecap="butt">
<path d="M116.1 354V103.8H441.8V354" stroke-width="3.8" stroke-linejoin="round"/>
<path d="M115.2 356.5V570" stroke-width="3.7"/>
<path d="M440.7 352.8V570" stroke-width="3.7"/>
<path d="M106.5 562.2H442.5" stroke-width="4.4"/>
<path d="M107.6 103.9H115" stroke-width="3.3" stroke-linecap="round"/>
<path d="M107.6 149.6H115" stroke-width="3.3" stroke-linecap="round"/>
<path d="M107.6 195.2H115" stroke-width="3.3" stroke-linecap="round"/>
<path d="M107.6 240.7H115" stroke-width="3.3" stroke-linecap="round"/>
<path d="M107.6 286.3H115" stroke-width="3.3" stroke-linecap="round"/>
<path d="M107.6 331.8H115" stroke-width="3.3" stroke-linecap="round"/>
<path d="M111.2 126.8H115" stroke-width="3.3" stroke-linecap="round"/>
<path d="M111.2 172.4H115" stroke-width="3.3" stroke-linecap="round"/>
<path d="M111.2 217.9H115" stroke-width="3.3" stroke-linecap="round"/>
<path d="M111.2 263.5H115" stroke-width="3.3" stroke-linecap="round"/>
<path d="M111.2 309.1H115" stroke-width="3.3" stroke-linecap="round"/>
<path d="M107 380.2H115" stroke-width="3.3" stroke-linecap="round"/>
<path d="M107 425.6H115" stroke-width="3.3" stroke-linecap="round"/>
<path d="M107 471.6H115" stroke-width="3.3" stroke-linecap="round"/>
<path d="M107 516.7H115" stroke-width="3.3" stroke-linecap="round"/>
<path d="M110.6 357.3H115" stroke-width="3.3" stroke-linecap="round"/>
<path d="M110.6 403.0H115" stroke-width="3.3" stroke-linecap="round"/>
<path d="M110.6 448.6H115" stroke-width="3.3" stroke-linecap="round"/>
<path d="M110.6 494.1H115" stroke-width="3.3" stroke-linecap="round"/>
<path d="M110.6 539.5H115" stroke-width="3.3" stroke-linecap="round"/>
<path d="M170.0 562V575.3" stroke-width="3.5"/>
<path d="M277.6 562V575.3" stroke-width="3.5"/>
<path d="M386.4 562V575.3" stroke-width="3.5"/>
<path d="M223.6 562V570" stroke-width="3.3"/>
<path d="M332.2 562V570" stroke-width="3.3"/>
</g>
<g stroke="#e0a244" stroke-opacity="0.92" stroke-dasharray="6.3 7.374" fill="none">
<path d="M114.3 148.4H443.4" stroke-width="2.4" stroke-dashoffset="2.7"/>
<path d="M114.3 216H443.4" stroke-width="2.3" stroke-dashoffset="3.3"/>
<path d="M114.3 283.3H443.4" stroke-width="2.6" stroke-dashoffset="2.7"/>
</g>
<path d="M280.5 1.2V103" stroke="#1a1516" stroke-width="3.3" stroke-dasharray="6.3 4.7" fill="none"/>
<path d="M281 41.1A39.5 39.5 0 0 0 241.6 78.2" stroke="#1a1516" stroke-width="2.35" fill="none"/>
<path d="M160.9 25.6 L157.3 31.2 L247.8 87.9 L244.1 94.5 L277.6 102.6 L255.2 78.3 L251.6 82.5 Z" fill="#2a4aa2"/>
<text transform="matrix(1.0821 0 0 1 88.03 112.83)" font-size="27.04" font-family='"Liberation Sans", Arial, Helvetica, sans-serif' fill="#1a1718">0</text>
<text transform="matrix(1.0438 0 0 1 57.09 158.33)" font-size="27.04" font-family='"Liberation Sans", Arial, Helvetica, sans-serif' fill="#1a1718">200</text>
<text transform="matrix(1.0414 0 0 1 57.20 204.23)" font-size="27.04" font-family='"Liberation Sans", Arial, Helvetica, sans-serif' fill="#1a1718">400</text>
<text transform="matrix(1.0485 0 0 1 56.88 249.73)" font-size="27.04" font-family='"Liberation Sans", Arial, Helvetica, sans-serif' fill="#1a1718">600</text>
<text transform="matrix(1.0452 0 0 1 57.03 295.23)" font-size="27.04" font-family='"Liberation Sans", Arial, Helvetica, sans-serif' fill="#1a1718">800</text>
<text transform="matrix(1.0235 0 0 1 42.82 340.53)" font-size="27.04" font-family='"Liberation Sans", Arial, Helvetica, sans-serif' fill="#1a1718">1000</text>
<text transform="matrix(1.0200 0 0 1 42.83 389.23)" font-size="27.04" font-family='"Liberation Sans", Arial, Helvetica, sans-serif' fill="#1a1718">1200</text>
<text transform="matrix(1.0200 0 0 1 42.83 434.73)" font-size="27.04" font-family='"Liberation Sans", Arial, Helvetica, sans-serif' fill="#1a1718">1400</text>
<text transform="matrix(1.0200 0 0 1 42.83 480.63)" font-size="27.04" font-family='"Liberation Sans", Arial, Helvetica, sans-serif' fill="#1a1718">1600</text>
<text transform="matrix(1.0200 0 0 1 42.83 525.73)" font-size="27.04" font-family='"Liberation Sans", Arial, Helvetica, sans-serif' fill="#1a1718">1800</text>
<text transform="matrix(1.0514 0 0 1 40.78 570.93)" font-size="27.04" font-family='"Liberation Sans", Arial, Helvetica, sans-serif' fill="#1a1718">2000</text>
<text transform="matrix(1.0528 0 0 1 136.65 603.34)" font-size="25.92" font-family='"Liberation Sans", Arial, Helvetica, sans-serif' fill="#1a1718">1.592</text>
<text transform="matrix(1.0581 0 0 1 244.24 603.34)" font-size="25.92" font-family='"Liberation Sans", Arial, Helvetica, sans-serif' fill="#1a1718">1.596</text>
<text transform="matrix(1.0333 0 0 1 353.99 603.34)" font-size="25.92" font-family='"Liberation Sans", Arial, Helvetica, sans-serif' fill="#1a1718">1.600</text>
<text transform="matrix(1.3107 0 0 1 260.51 640.06)" font-size="34.17" font-family='"Liberation Serif", "Times New Roman", serif' fill="#1a1718">α</text>
<text transform="matrix(1.0984 0 0 1 348.23 77.44)" font-size="25.78" font-family='"Liberation Sans", Arial, Helvetica, sans-serif' fill="#1a1718">Prism</text>
<text transform="matrix(0.9989 0 0 1 467.08 103.90)" font-size="27.83" font-family='"Liberation Sans", Arial, Helvetica, sans-serif' fill="#1a1718">FEF</text>
<text transform="matrix(1.0029 0 0 1 475.12 137.68)" font-size="22.39" font-family='"Liberation Sans", Arial, Helvetica, sans-serif' fill="#1a1718">18.0</text>
<text transform="matrix(1.0092 0 0 1 475.12 186.58)" font-size="22.25" font-family='"Liberation Sans", Arial, Helvetica, sans-serif' fill="#1a1718">13.5</text>
<text transform="matrix(1.0251 0 0 1 474.17 236.08)" font-size="22.39" font-family='"Liberation Sans", Arial, Helvetica, sans-serif' fill="#1a1718">9.00</text>
<text transform="matrix(1.0440 0 0 1 473.72 285.68)" font-size="22.11" font-family='"Liberation Sans", Arial, Helvetica, sans-serif' fill="#1a1718">4.50</text>
<text transform="matrix(1.0176 0 0 1 474.29 334.88)" font-size="22.39" font-family='"Liberation Sans", Arial, Helvetica, sans-serif' fill="#1a1718">0.00</text>
<text transform="matrix(1.0320 0 0 1 471.95 374.28)" font-size="22.25" font-family='"Liberation Sans", Arial, Helvetica, sans-serif' fill="#1a1718">62.0</text>
<text transform="matrix(1.0190 0 0 1 471.93 416.98)" font-size="22.39" font-family='"Liberation Sans", Arial, Helvetica, sans-serif' fill="#1a1718">46.5</text>
<text transform="matrix(1.0506 0 0 1 472.09 459.18)" font-size="21.69" font-family='"Liberation Sans", Arial, Helvetica, sans-serif' fill="#1a1718">31.0</text>
<text transform="matrix(1.0019 0 0 1 473.24 501.18)" font-size="22.14" font-family='"Liberation Sans", Arial, Helvetica, sans-serif' fill="#1a1718">15.5</text>
<text transform="matrix(1.0080 0 0 1 472.50 543.48)" font-size="22.39" font-family='"Liberation Sans", Arial, Helvetica, sans-serif' fill="#1a1718">0.00</text>
<text transform="matrix(0.8967 0 0 1 356.53 135.31)" font-size="29.01" font-family='"Liberation Sans", Arial, Helvetica, sans-serif' fill="#fff">S1</text>
<text transform="matrix(0.9902 0 0 1 400.49 173.00)" font-size="25.36" font-family='"Liberation Sans", Arial, Helvetica, sans-serif' fill="#e9ad55">P1</text>
<text transform="matrix(0.9145 0 0 1 328.62 210.21)" font-size="28.87" font-family='"Liberation Sans", Arial, Helvetica, sans-serif' fill="#fff">WG1</text>
<text transform="matrix(0.9690 0 0 1 399.95 209.74)" font-size="26.41" font-family='"Liberation Sans", Arial, Helvetica, sans-serif' fill="#e9ad55">PC</text>
<text transform="matrix(0.9944 0 0 1 399.95 277.50)" font-size="25.71" font-family='"Liberation Sans", Arial, Helvetica, sans-serif' fill="#e9ad55">P2</text>
<text transform="matrix(0.9841 0 0 1 356.21 320.96)" font-size="29.23" font-family='"Liberation Sans", Arial, Helvetica, sans-serif' fill="#fff">S2</text>
<text transform="matrix(0.9595 0 0 1 333.61 450.46)" font-size="28.52" font-family='"Liberation Sans", Arial, Helvetica, sans-serif' fill="#fff">WG2</text>
<text transform="matrix(1.0859 0 0 1 367.86 555.50)" font-size="25.52" font-family='"Liberation Sans", Arial, Helvetica, sans-serif' fill="#fff">Air</text>
<text transform="matrix(1.2542 0 0 1 224.88 30.89)" font-size="30.56" font-family='"Liberation Serif", "Times New Roman", serif' fill="#1a1718" style="font-style:italic">θ</text>
<text transform="matrix(1.1885 0 0 1 247.10 36.90)" font-size="16.83" font-family='"Liberation Sans", Arial, Helvetica, sans-serif' fill="#1a1718">in</text>
<text transform="translate(21.5 407.3) rotate(-90) scale(1.036 1)" font-size="26.5" font-family='"Liberation Sans", Arial, Helvetica, sans-serif' fill="#1a1718">Position <tspan font-style="italic">z</tspan> (nm)</text>
</svg></body></html>
